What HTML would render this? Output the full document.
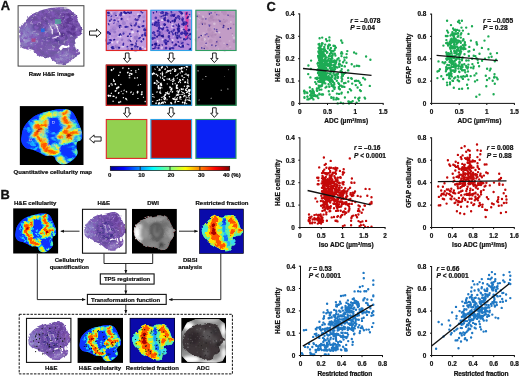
<!DOCTYPE html>
<html><head><meta charset="utf-8"><title>Figure</title>
<style>
html,body{margin:0;padding:0;background:#fff;}
svg{display:block;}
text{font-family:"Liberation Sans",sans-serif;font-weight:bold;fill:#111;stroke:#111;stroke-width:0.22px;}
.t{font-size:6px;}
.c{font-size:6.6px;}
.k{font-size:6.4px;}
.L{font-size:12.9px;stroke-width:0.3px;}
.m{text-anchor:middle;}
.e{text-anchor:end;}
.ln{stroke:#111;stroke-width:0.9;fill:none;}
.ax{stroke:#111;stroke-width:1;fill:none;}
</style></head><body>
<svg width="520" height="377" viewBox="0 0 520 377">
<rect width="520" height="377" fill="#fff"/>
<defs>
<filter id="b1" x="-10%" y="-10%" width="120%" height="120%"><feGaussianBlur stdDeviation="3"/></filter>
<filter id="b2" x="-10%" y="-10%" width="120%" height="120%"><feGaussianBlur stdDeviation="2.6"/></filter>
<filter id="b3" x="-10%" y="-10%" width="120%" height="120%"><feGaussianBlur stdDeviation="0.9"/></filter>
<filter id="bs" x="-5%" y="-5%" width="110%" height="110%"><feGaussianBlur stdDeviation="0.45"/></filter>
<filter id="rough" x="-5%" y="-5%" width="110%" height="110%"><feTurbulence type="fractalNoise" baseFrequency="0.09" numOctaves="2" seed="3" result="n"/><feDisplacementMap in="SourceGraphic" in2="n" scale="7" xChannelSelector="R" yChannelSelector="G"/></filter>
<filter id="rough2" x="-5%" y="-5%" width="110%" height="110%"><feGaussianBlur stdDeviation="1.3" result="b"/><feTurbulence type="fractalNoise" baseFrequency="0.055" numOctaves="3" seed="8" result="n"/><feDisplacementMap in="b" in2="n" scale="16" xChannelSelector="R" yChannelSelector="G"/></filter>
<filter id="rough3" x="-5%" y="-5%" width="110%" height="110%"><feGaussianBlur stdDeviation="1.3" result="b"/><feTurbulence type="fractalNoise" baseFrequency="0.06" numOctaves="3" seed="21" result="n"/><feDisplacementMap in="b" in2="n" scale="10" xChannelSelector="R" yChannelSelector="G"/></filter>
<filter id="tex" x="0" y="0" width="100%" height="100%"><feTurbulence type="fractalNoise" baseFrequency="0.16" numOctaves="3" seed="5" result="n"/><feColorMatrix in="n" type="matrix" values="0 0 0 0 0.22  0 0 0 0 0.10  0 0 0 0 0.48  2.8 0 0 0 -1.0" result="d"/><feComposite in="d" in2="SourceGraphic" operator="atop"/></filter>
<filter id="texl" x="0" y="0" width="100%" height="100%"><feTurbulence type="fractalNoise" baseFrequency="0.2" numOctaves="2" seed="9" result="n"/><feColorMatrix in="n" type="matrix" values="0 0 0 0 0.80  0 0 0 0 0.72  0 0 0 0 0.90  0 1.9 0 0 -1.2" result="d"/><feComposite in="d" in2="SourceGraphic" operator="atop"/></filter>
<marker id="ah" viewBox="0 0 10 10" refX="9" refY="5" markerWidth="4.2" markerHeight="4" orient="auto"><path d="M0,0.8L10,5L0,9.2z" fill="#111"/></marker>
<linearGradient id="jet" x1="0" x2="1" y1="0" y2="0"><stop offset="0" stop-color="#00008f"/><stop offset="0.11" stop-color="#0000ff"/><stop offset="0.36" stop-color="#00ffff"/><stop offset="0.5" stop-color="#80ff80"/><stop offset="0.63" stop-color="#ffff00"/><stop offset="0.88" stop-color="#ff0000"/><stop offset="1" stop-color="#800000"/></linearGradient>
<clipPath id="cHE"><path d="M2.3,39.7C3.5,35.0 6.0,31.6 9.3,27.2C12.6,22.8 17.1,16.9 22.0,13.3C26.9,9.7 32.3,7.4 38.9,5.5C45.5,3.6 55.0,2.0 61.6,1.8C68.2,1.6 74.4,1.8 78.6,4.0C82.8,6.2 84.6,10.9 86.9,14.8C89.2,18.7 91.1,23.0 92.7,27.2C94.3,31.4 96.6,36.1 96.8,39.7C97.0,43.3 95.9,46.2 94.1,49.0C92.3,51.8 87.4,53.5 86.2,56.7C85.0,59.9 85.5,64.7 86.9,68.3C88.3,71.9 94.5,76.0 94.5,78.5C94.5,81.0 88.9,81.8 86.9,83.5C84.9,85.2 84.2,86.8 82.4,88.5C80.6,90.2 78.4,92.3 76.1,93.7C73.8,95.1 71.3,96.6 68.5,97.0C65.7,97.4 61.8,97.0 59.3,96.2C56.8,95.4 55.0,93.6 53.2,92.0C51.4,90.4 51.9,88.3 48.6,86.8C45.3,85.3 37.3,84.9 33.3,83.0C29.3,81.1 28.1,77.1 24.8,75.3C21.5,73.5 16.8,73.5 13.5,72.2C10.2,70.9 6.9,70.3 5.0,67.5C3.1,64.7 2.8,59.8 2.3,55.2C1.8,50.6 1.1,44.4 2.3,39.7Z"/></clipPath>
<clipPath id="cHE2"><path d="M4.5,48.9C4.7,45.4 5.3,41.6 6.8,38.4C8.3,35.1 10.6,32.1 13.4,29.4C16.2,26.6 20.2,23.9 23.7,21.9C27.1,19.9 30.4,18.9 34.1,17.4C37.8,15.9 41.8,14.2 46.0,12.9C50.2,11.7 55.1,10.9 59.3,9.9C63.5,8.9 67.5,6.7 71.2,6.9C74.9,7.2 78.9,9.2 81.6,11.4C84.3,13.7 85.5,16.9 87.5,20.4C89.5,23.9 91.8,28.4 93.5,32.4C95.2,36.4 96.9,40.9 97.9,44.4C98.9,47.9 99.9,51.2 99.4,53.5C98.9,55.8 96.5,56.2 95.0,58.0C93.5,59.8 90.8,61.2 90.5,64.0C90.2,66.8 93.5,71.2 93.5,74.5C93.5,77.8 92.5,81.2 90.5,83.5C88.5,85.8 84.6,86.2 81.6,88.0C78.6,89.8 75.9,93.0 72.7,94.0C69.5,95.0 65.5,94.8 62.3,94.0C59.1,93.2 56.1,91.2 53.4,89.5C50.7,87.8 48.7,85.5 46.0,83.5C43.3,81.5 40.6,79.2 37.1,77.5C33.6,75.8 29.1,74.8 25.2,73.0C21.2,71.2 16.6,69.2 13.4,67.0C10.2,64.8 7.4,62.5 5.9,59.5C4.4,56.5 4.3,52.4 4.5,48.9Z"/></clipPath>
<clipPath id="cCM"><path d="M3.2,50.9C3.7,47.8 4.1,43.0 5.3,39.4C6.5,35.8 8.4,32.5 10.6,29.4C12.8,26.3 15.8,23.3 18.5,20.9C21.1,18.5 23.4,16.8 26.5,15.1C29.6,13.4 33.0,12.2 37.0,10.9C41.0,9.6 45.9,8.4 50.3,7.4C54.7,6.4 59.5,5.4 63.5,5.1C67.5,4.8 71.0,5.0 74.1,5.7C77.2,6.4 79.8,7.3 82.0,9.4C84.2,11.5 85.8,14.9 87.3,18.0C88.8,21.1 89.9,24.4 91.3,28.0C92.7,31.6 94.7,35.6 95.8,39.4C96.9,43.2 98.0,47.8 97.9,50.9C97.8,54.0 96.5,56.3 95.2,58.0C93.9,59.7 91.0,59.0 89.9,60.9C88.8,62.8 88.5,66.3 88.6,69.4C88.7,72.5 90.9,76.3 90.5,79.4C90.1,82.5 88.1,85.4 86.0,88.0C83.9,90.6 80.9,93.3 78.0,95.1C75.1,96.9 71.4,98.6 68.8,98.9C66.2,99.2 64.2,98.2 62.2,97.1C60.2,96.0 58.2,94.2 56.9,92.3C55.6,90.4 55.8,87.1 54.2,85.7C52.7,84.3 50.0,84.0 47.6,83.7C45.2,83.4 42.8,84.7 39.7,83.7C36.6,82.8 32.4,79.7 29.1,78.0C25.8,76.3 22.9,74.8 19.8,73.7C16.7,72.6 13.1,72.8 10.6,71.4C8.1,70.0 6.1,67.3 4.8,65.1C3.5,62.9 2.9,60.4 2.6,58.0C2.3,55.6 2.8,54.0 3.2,50.9Z"/></clipPath>
<clipPath id="cRF"><path d="M6.1,43.3C7.0,40.3 9.2,36.8 11.6,34.4C14.0,32.0 18.2,31.5 20.6,29.1C23.0,26.7 23.0,22.4 26.0,20.2C29.0,17.9 34.4,16.0 38.6,15.6C42.8,15.2 47.4,17.9 51.3,17.7C55.2,17.5 58.2,14.5 62.1,14.2C66.0,13.8 71.1,14.3 74.7,15.6C78.3,16.9 81.4,19.2 83.8,22.0C86.2,24.8 87.7,29.1 89.2,32.6C90.7,36.1 91.3,40.0 92.8,43.3C94.3,46.5 97.8,49.6 98.2,52.1C98.6,54.6 97.4,57.1 95.0,58.5C92.6,59.9 87.3,59.3 84.0,60.5C80.7,61.7 75.5,63.5 75.0,65.5C74.5,67.5 80.2,70.0 81.0,72.5C81.8,75.0 81.4,78.9 80.1,80.5C78.8,82.1 74.4,80.8 72.9,82.3C71.4,83.8 72.6,87.3 71.1,89.4C69.6,91.5 66.9,94.1 63.9,94.7C60.9,95.3 56.4,94.1 53.1,92.9C49.8,91.7 47.3,89.4 44.0,87.6C40.7,85.8 36.5,84.1 33.2,82.3C29.9,80.5 26.9,79.1 24.2,77.0C21.5,74.9 19.4,72.6 17.0,69.9C14.6,67.2 11.5,64.0 9.7,61.0C7.9,58.0 6.7,55.1 6.1,52.1C5.5,49.1 5.2,46.2 6.1,43.3Z"/></clipPath>
<clipPath id="cDW"><path d="M3.9,50.0C4.2,46.3 5.6,41.3 7.4,38.1C9.2,34.9 11.8,33.2 14.8,30.7C17.8,28.2 21.5,25.2 25.2,23.2C28.9,21.2 33.1,20.0 37.1,18.8C41.1,17.6 45.0,16.6 49.0,15.8C53.0,15.1 56.8,14.1 60.8,14.3C64.8,14.6 69.2,15.8 72.7,17.3C76.2,18.8 79.4,20.7 81.6,23.2C83.8,25.7 84.6,29.1 86.1,32.1C87.6,35.1 89.0,37.9 90.5,41.1C92.0,44.3 94.5,48.3 95.0,51.5C95.5,54.7 94.5,57.7 93.5,60.4C92.5,63.1 90.5,65.7 89.0,67.9C87.5,70.1 85.8,71.3 84.6,73.8C83.4,76.3 83.1,80.0 81.6,82.7C80.1,85.4 78.4,88.7 75.7,90.2C73.0,91.7 68.8,92.2 65.3,91.7C61.8,91.2 58.6,88.2 54.9,87.2C51.2,86.2 47.0,86.5 43.0,85.7C39.0,85.0 34.9,84.2 31.2,82.7C27.5,81.2 24.0,79.0 20.8,76.8C17.6,74.6 14.4,72.0 11.9,69.3C9.4,66.6 7.2,63.6 5.9,60.4C4.6,57.2 3.6,53.7 3.9,50.0Z"/></clipPath>
<clipPath id="cAO"><path d="M0.5,32.0 L13.0,10.0 L31.0,2.5 L84.0,2.0 L97.0,12.0 L99.5,30.0 L99.5,82.0 L92.0,96.5 L78.0,99.5 L14.0,98.0 L0.5,84.0Z"/></clipPath>
<clipPath id="cAI"><path d="M3.6,50.0C4.3,46.0 5.8,39.3 8.0,35.1C10.2,30.9 13.2,27.4 16.9,24.7C20.6,22.0 25.6,20.5 30.3,18.8C35.0,17.1 40.2,15.6 45.1,14.3C50.0,13.1 55.5,11.3 59.9,11.3C64.3,11.3 68.1,12.8 71.8,14.3C75.5,15.8 79.7,17.7 82.2,20.2C84.7,22.7 85.1,25.7 86.6,29.2C88.1,32.7 89.6,37.6 91.1,41.1C92.6,44.6 95.8,47.3 95.5,50.0C95.2,52.7 91.6,55.2 89.6,57.4C87.6,59.6 84.2,60.9 83.7,63.4C83.2,65.9 87.1,69.6 86.6,72.3C86.1,75.0 82.9,78.1 80.7,79.8C78.5,81.5 75.3,80.7 73.3,82.7C71.3,84.7 71.3,89.7 68.8,91.7C66.3,93.7 61.7,94.6 58.5,94.6C55.3,94.6 52.8,92.9 49.6,91.7C46.4,90.5 42.9,88.7 39.2,87.2C35.5,85.7 31.0,84.4 27.3,82.7C23.6,81.0 20.1,79.3 16.9,76.8C13.7,74.3 10.2,70.9 8.0,67.9C5.8,64.9 4.3,61.9 3.6,58.9C2.9,55.9 2.9,54.0 3.6,50.0Z"/></clipPath>
<clipPath id="cBox"><rect width="100" height="100"/></clipPath>
<symbol id="he" viewBox="0 0 100 100" preserveAspectRatio="none">
<g filter="url(#rough)"><g clip-path="url(#cHE)"><g filter="url(#texl)"><g filter="url(#tex)"><rect width="100" height="100" fill="#6e56a0"/>
<g filter="url(#b1)"><ellipse cx="16" cy="48" rx="14" ry="20" fill="#8a80c2"/><ellipse cx="9" cy="56" rx="8" ry="10" fill="#9a92ca"/><ellipse cx="30" cy="25" rx="12" ry="8" fill="#6c4c9c"/><ellipse cx="48" cy="16" rx="14" ry="8" fill="#6a489c"/><ellipse cx="74" cy="24" rx="15" ry="15" fill="#5c3890"/><ellipse cx="84" cy="42" rx="10" ry="10" fill="#5a3690"/><ellipse cx="66" cy="46" rx="12" ry="8" fill="#54348c"/><ellipse cx="40" cy="50" rx="9" ry="12" fill="#6a52a4"/><ellipse cx="70" cy="84" rx="12" ry="9" fill="#9488c4"/><ellipse cx="60" cy="90" rx="6" ry="4" fill="#a89cd0"/><ellipse cx="30" cy="70" rx="10" ry="8" fill="#7456a6"/><ellipse cx="50" cy="35" rx="4" ry="10" fill="#a898cc"/><ellipse cx="58" cy="30" rx="3" ry="6" fill="#b8a8d8"/><ellipse cx="88" cy="22" rx="6" ry="8" fill="#643e98"/><ellipse cx="46" cy="72" rx="5" ry="7" fill="#7c62ae"/><ellipse cx="26" cy="36" rx="6" ry="6" fill="#5a3c96"/><ellipse cx="42" cy="34" rx="4" ry="8" fill="#3c2c88"/><ellipse cx="56" cy="56" rx="8" ry="5" fill="#48308c"/></g></g></g>
<g filter="url(#b3)"><path d="M50,33 q3,6 2,14 M57,30 q4,8 5,18 M60,50 q-5,4 -8,3" stroke="#ece4f4" stroke-width="1.8" fill="none"/><path d="M64,72 q3,-8 12,-5" stroke="#fff" stroke-width="4.5" fill="none" stroke-linecap="round"/><ellipse cx="90" cy="66" rx="3" ry="7" fill="#fff"/><ellipse cx="88" cy="88" rx="3" ry="3" fill="#fff"/></g>
</g></g></symbol>
<symbol id="he2" viewBox="0 0 100 100" preserveAspectRatio="none">
<g filter="url(#rough)"><g clip-path="url(#cHE2)"><g filter="url(#texl)"><g filter="url(#tex)"><rect width="100" height="100" fill="#6a4e9e"/>
<g filter="url(#b1)"><ellipse cx="16" cy="48" rx="13" ry="20" fill="#8a82c6"/><ellipse cx="9" cy="55" rx="7" ry="10" fill="#9a94cc"/><ellipse cx="28" cy="30" rx="12" ry="8" fill="#7c6cb6"/><ellipse cx="48" cy="20" rx="14" ry="8" fill="#6a4c9e"/><ellipse cx="75" cy="28" rx="13" ry="14" fill="#66409a"/><ellipse cx="90" cy="45" rx="8" ry="12" fill="#84529c"/><ellipse cx="38" cy="62" rx="10" ry="10" fill="#6c56a8"/><ellipse cx="72" cy="84" rx="10" ry="7" fill="#9c8ac8"/><ellipse cx="63" cy="88" rx="6" ry="4" fill="#b0a0d4"/><ellipse cx="28" cy="68" rx="10" ry="6" fill="#7c66b0"/><ellipse cx="84" cy="76" rx="6" ry="8" fill="#7a54a0"/><ellipse cx="56" cy="48" rx="13" ry="19" fill="#5a48a0" stroke="#3a2a82" stroke-width="7"/><path d="M40,30 q-8,14 -2,34" stroke="#44328a" stroke-width="5" fill="none"/><path d="M56,70 q10,6 22,2" stroke="#44308a" stroke-width="4" fill="none"/></g></g></g>
<g filter="url(#b3)"><path d="M52,38 q3,8 2,16 M60,36 q3,8 3,16" stroke="#d8cce8" stroke-width="1.6" fill="none"/><path d="M64,70 q8,-4 16,0 q2,4 -1,8" stroke="#fff" stroke-width="3" fill="none" stroke-linecap="round"/><ellipse cx="88" cy="68" rx="3" ry="5" fill="#f4f0f8"/></g>
</g></g></symbol>
<symbol id="cm" viewBox="0 0 100 100" preserveAspectRatio="none">
<rect width="100" height="100" fill="#000"/>
<g clip-path="url(#cCM)"><rect width="100" height="100" fill="#0a38ff"/>
<g filter="url(#rough2)"><rect x="-10" y="-10" width="120" height="120" fill="#0a34ff"/><g fill="#14c4ff"><circle cx="31.7" cy="42.3" r="11.8"/><circle cx="29.1" cy="35.1" r="10.9"/><circle cx="37" cy="30.9" r="8.4"/><circle cx="27.8" cy="49.4" r="10.9"/><circle cx="31.7" cy="58" r="9.9"/><circle cx="37" cy="66.6" r="10.9"/><circle cx="43.7" cy="73.7" r="10.9"/><circle cx="50.3" cy="79.4" r="9.9"/><circle cx="56.9" cy="76.6" r="7.5"/><circle cx="59.5" cy="68" r="6.1"/><circle cx="63.5" cy="90.9" r="7.3"/><circle cx="67.5" cy="96.6" r="6.1"/><circle cx="26.5" cy="25.1" r="6.7"/><circle cx="37" cy="20.9" r="7.4"/><circle cx="45" cy="17" r="7.4"/><circle cx="55.6" cy="13.7" r="6.7"/><circle cx="68.8" cy="12.3" r="8.4"/><circle cx="70.1" cy="20.9" r="9.2"/><circle cx="74.1" cy="26.6" r="9.2"/><circle cx="76.7" cy="35.1" r="8.4"/><circle cx="75.4" cy="43.7" r="9.2"/><circle cx="78" cy="52.3" r="10.0"/><circle cx="84.7" cy="48" r="6.8"/><circle cx="91.3" cy="48" r="6.8"/><circle cx="66.1" cy="43.7" r="6.2"/><circle cx="63.5" cy="49.4" r="6.8"/><circle cx="67.5" cy="58" r="6.2"/><circle cx="84.7" cy="33.7" r="5.9"/><circle cx="88.6" cy="42.3" r="6.1"/><circle cx="87.3" cy="63.7" r="5.1"/><circle cx="87.3" cy="76.6" r="4.6"/><circle cx="79.4" cy="89.4" r="5.1"/><circle cx="93" cy="56" r="3.7"/><circle cx="13.2" cy="39.4" r="2.8"/><circle cx="17.2" cy="62.3" r="2.8"/><circle cx="21.2" cy="70.9" r="3.3"/><circle cx="19.8" cy="30.9" r="4.6"/><circle cx="52.9" cy="42.3" r="2.7"/><circle cx="51.6" cy="50.9" r="3.0"/><circle cx="55.6" cy="58" r="2.7"/><circle cx="60" cy="82" r="3.1"/><circle cx="80" cy="70" r="2.1"/></g><g fill="#6cf898"><circle cx="31.7" cy="42.3" r="9.9"/><circle cx="29.1" cy="35.1" r="8.9"/><circle cx="37" cy="30.9" r="6.7"/><circle cx="27.8" cy="49.4" r="8.9"/><circle cx="31.7" cy="58" r="7.9"/><circle cx="37" cy="66.6" r="8.9"/><circle cx="43.7" cy="73.7" r="8.9"/><circle cx="50.3" cy="79.4" r="7.9"/><circle cx="56.9" cy="76.6" r="5.9"/><circle cx="59.5" cy="68" r="4.6"/><circle cx="63.5" cy="90.9" r="5.5"/><circle cx="67.5" cy="96.6" r="4.6"/><circle cx="26.5" cy="25.1" r="5.1"/><circle cx="37" cy="20.9" r="5.7"/><circle cx="45" cy="17" r="5.7"/><circle cx="55.6" cy="13.7" r="5.1"/><circle cx="68.8" cy="12.3" r="6.7"/><circle cx="70.1" cy="20.9" r="7.5"/><circle cx="74.1" cy="26.6" r="7.5"/><circle cx="76.7" cy="35.1" r="6.7"/><circle cx="75.4" cy="43.7" r="7.5"/><circle cx="78" cy="52.3" r="8.4"/><circle cx="84.7" cy="48" r="5.5"/><circle cx="91.3" cy="48" r="5.5"/><circle cx="66.1" cy="43.7" r="4.8"/><circle cx="63.5" cy="49.4" r="5.5"/><circle cx="67.5" cy="58" r="4.8"/><circle cx="84.7" cy="33.7" r="4.2"/><circle cx="88.6" cy="42.3" r="4.6"/><circle cx="87.3" cy="63.7" r="3.4"/><circle cx="87.3" cy="76.6" r="3.1"/><circle cx="79.4" cy="89.4" r="3.4"/><circle cx="93" cy="56" r="2.5"/></g><g fill="#ffe600"><circle cx="31.7" cy="42.3" r="7.9"/><circle cx="29.1" cy="35.1" r="7.0"/><circle cx="37" cy="30.9" r="5.1"/><circle cx="27.8" cy="49.4" r="7.0"/><circle cx="31.7" cy="58" r="6.0"/><circle cx="37" cy="66.6" r="7.0"/><circle cx="43.7" cy="73.7" r="7.0"/><circle cx="50.3" cy="79.4" r="6.0"/><circle cx="56.9" cy="76.6" r="4.2"/><circle cx="59.5" cy="68" r="3.1"/><circle cx="63.5" cy="90.9" r="3.7"/><circle cx="67.5" cy="96.6" r="3.1"/><circle cx="26.5" cy="25.1" r="3.4"/><circle cx="37" cy="20.9" r="4.1"/><circle cx="45" cy="17" r="4.1"/><circle cx="55.6" cy="13.7" r="3.4"/><circle cx="68.8" cy="12.3" r="5.1"/><circle cx="70.1" cy="20.9" r="5.9"/><circle cx="74.1" cy="26.6" r="5.9"/><circle cx="76.7" cy="35.1" r="5.1"/><circle cx="75.4" cy="43.7" r="5.9"/><circle cx="78" cy="52.3" r="6.7"/><circle cx="84.7" cy="48" r="4.1"/><circle cx="91.3" cy="48" r="4.1"/><circle cx="66.1" cy="43.7" r="3.5"/><circle cx="63.5" cy="49.4" r="4.1"/><circle cx="67.5" cy="58" r="3.5"/><circle cx="88.6" cy="42.3" r="3.1"/></g><g fill="#ff5200"><circle cx="31.7" cy="42.3" r="6.0"/><circle cx="29.1" cy="35.1" r="5.0"/><circle cx="37" cy="30.9" r="3.4"/><circle cx="27.8" cy="49.4" r="5.0"/><circle cx="31.7" cy="58" r="4.0"/><circle cx="37" cy="66.6" r="5.0"/><circle cx="43.7" cy="73.7" r="5.0"/><circle cx="50.3" cy="79.4" r="4.0"/><circle cx="68.8" cy="12.3" r="3.4"/><circle cx="70.1" cy="20.9" r="4.2"/><circle cx="74.1" cy="26.6" r="4.2"/><circle cx="76.7" cy="35.1" r="3.4"/><circle cx="75.4" cy="43.7" r="4.2"/><circle cx="78" cy="52.3" r="5.1"/><circle cx="84.7" cy="48" r="2.8"/><circle cx="91.3" cy="48" r="2.8"/><circle cx="63.5" cy="49.4" r="2.8"/></g><g fill="#a80000"><circle cx="31.7" cy="42.3" r="4.0"/><circle cx="78" cy="52.3" r="3.4"/></g><ellipse cx="51.5" cy="31" rx="8.5" ry="10" fill="#0830ff"/><ellipse cx="47.5" cy="48" rx="6" ry="8" fill="#0a38ff"/><ellipse cx="48.5" cy="62" rx="5" ry="6" fill="#0a38ff"/><ellipse cx="69" cy="74" rx="9" ry="7" fill="#0830ff"/><ellipse cx="77" cy="80" rx="6" ry="5" fill="#0830ff"/><ellipse cx="52.5" cy="44" rx="2.5" ry="3" fill="#30c0ff"/><ellipse cx="51" cy="54" rx="2.5" ry="3" fill="#40d0ff"/></g></g></symbol>
<symbol id="rf" viewBox="0 0 100 100" preserveAspectRatio="none">
<rect width="100" height="100" fill="#0a0aaa"/>
<g filter="url(#rough)"><g clip-path="url(#cRF)"><rect width="100" height="100" fill="#58f0a8"/>
<g filter="url(#rough3)"><rect x="-10" y="-10" width="120" height="120" fill="#5cf0a4"/><ellipse cx="11" cy="47" rx="7" ry="10" fill="#40e8e0"/><ellipse cx="77" cy="74" rx="7" ry="6" fill="#38dcf0"/><ellipse cx="86" cy="62" rx="5" ry="4" fill="#48e8d0"/><ellipse cx="20" cy="45" rx="5" ry="5" fill="#48ecd0"/><g fill="#ffe600"><circle cx="33.2" cy="25.5" r="10.5"/><circle cx="31.4" cy="38" r="11.7"/><circle cx="32.5" cy="50.4" r="11.7"/><circle cx="35" cy="62.8" r="11.1"/><circle cx="42.2" cy="75.2" r="10.5"/><circle cx="51.3" cy="84" r="8.2"/><circle cx="60.3" cy="89.4" r="5.3"/><circle cx="22.4" cy="32.6" r="6.2"/><circle cx="18.8" cy="57.4" r="6.2"/><circle cx="26" cy="71.6" r="6.2"/><circle cx="44" cy="22" r="6.8"/><circle cx="45.8" cy="40" r="5.3"/><circle cx="74.7" cy="27.3" r="8.5"/><circle cx="82" cy="38" r="8.5"/><circle cx="89.2" cy="48.6" r="6.2"/><circle cx="74.7" cy="52" r="7.2"/><circle cx="71" cy="39.7" r="6.0"/><circle cx="65.7" cy="20.2" r="5.5"/><circle cx="46" cy="62" r="5.1"/><circle cx="47" cy="52" r="4.1"/><circle cx="70" cy="62" r="3.7"/><circle cx="84" cy="28" r="3.7"/></g><g fill="#ff5200"><circle cx="33.2" cy="25.5" r="7.4"/><circle cx="31.4" cy="38" r="8.6"/><circle cx="32.5" cy="50.4" r="8.6"/><circle cx="35" cy="62.8" r="8.0"/><circle cx="42.2" cy="75.2" r="7.4"/><circle cx="51.3" cy="84" r="5.5"/><circle cx="74.7" cy="27.3" r="5.8"/><circle cx="82" cy="38" r="5.8"/><circle cx="89.2" cy="48.6" r="4.1"/><circle cx="74.7" cy="52" r="4.8"/></g><g fill="#a80000"><circle cx="31.4" cy="38" r="5.6"/><circle cx="32.5" cy="50.4" r="5.6"/></g><ellipse cx="56.7" cy="29" rx="4.5" ry="9" fill="#1058ff"/><ellipse cx="55.6" cy="45" rx="3.5" ry="8" fill="#18a0ff"/><ellipse cx="60.3" cy="66.3" rx="4.5" ry="9" fill="#1070ff"/><ellipse cx="65.7" cy="78.7" rx="4" ry="5" fill="#20b0ff"/><ellipse cx="57" cy="27" rx="2.5" ry="5" fill="#0830e0"/><ellipse cx="58" cy="56" rx="3" ry="4" fill="#20c0ff"/></g></g></g></symbol>
<symbol id="dwi" viewBox="0 0 100 100" preserveAspectRatio="none">
<rect width="100" height="100" fill="#000"/>
<g filter="url(#rough)"><g clip-path="url(#cDW)"><rect width="100" height="100" fill="#808080"/>
<g filter="url(#b1)"><ellipse cx="11" cy="53" rx="8" ry="17" fill="#ffffff"/><ellipse cx="16" cy="40" rx="7" ry="7" fill="#dcdcdc"/><ellipse cx="16" cy="68" rx="7" ry="7" fill="#e4e4e4"/><ellipse cx="50" cy="24" rx="24" ry="7" fill="#9c9c9c"/><ellipse cx="55" cy="50" rx="16" ry="22" fill="#525252"/><ellipse cx="55" cy="50" rx="8" ry="14" fill="#7c7c7c"/><ellipse cx="56" cy="46" rx="2.5" ry="9" fill="#343434"/><ellipse cx="84" cy="52" rx="7" ry="10" fill="#a4a4a4"/><ellipse cx="88" cy="62" rx="4" ry="5" fill="#b4b4b4"/><ellipse cx="30" cy="55" rx="8" ry="12" fill="#949494"/><ellipse cx="66" cy="80" rx="5" ry="5" fill="#262626"/><ellipse cx="45" cy="80" rx="10" ry="5" fill="#8c8c8c"/><ellipse cx="76" cy="74" rx="6" ry="6" fill="#8a8a8a"/><ellipse cx="72" cy="36" rx="8" ry="8" fill="#6e6e6e"/></g></g><path d="M3.9,50.0C4.2,46.3 5.6,41.3 7.4,38.1C9.2,34.9 11.8,33.2 14.8,30.7C17.8,28.2 21.5,25.2 25.2,23.2C28.9,21.2 33.1,20.0 37.1,18.8C41.1,17.6 45.0,16.6 49.0,15.8C53.0,15.1 56.8,14.1 60.8,14.3C64.8,14.6 69.2,15.8 72.7,17.3C76.2,18.8 79.4,20.7 81.6,23.2C83.8,25.7 84.6,29.1 86.1,32.1C87.6,35.1 89.0,37.9 90.5,41.1C92.0,44.3 94.5,48.3 95.0,51.5C95.5,54.7 94.5,57.7 93.5,60.4C92.5,63.1 90.5,65.7 89.0,67.9C87.5,70.1 85.8,71.3 84.6,73.8C83.4,76.3 83.1,80.0 81.6,82.7C80.1,85.4 78.4,88.7 75.7,90.2C73.0,91.7 68.8,92.2 65.3,91.7C61.8,91.2 58.6,88.2 54.9,87.2C51.2,86.2 47.0,86.5 43.0,85.7C39.0,85.0 34.9,84.2 31.2,82.7C27.5,81.2 24.0,79.0 20.8,76.8C17.6,74.6 14.4,72.0 11.9,69.3C9.4,66.6 7.2,63.6 5.9,60.4C4.6,57.2 3.6,53.7 3.9,50.0Z" fill="none" stroke="#c02020" stroke-width="1.2" stroke-dasharray="1.5 6" opacity="0.85"/></g></symbol>
<symbol id="adc" viewBox="0 0 100 100" preserveAspectRatio="none">
<rect width="100" height="100" fill="#000"/>
<g clip-path="url(#cAO)"><path d="M0.5,32.0 L13.0,10.0 L31.0,2.5 L84.0,2.0 L97.0,12.0 L99.5,30.0 L99.5,82.0 L92.0,96.5 L78.0,99.5 L14.0,98.0 L0.5,84.0Z" fill="#8c8c8c"/><g filter="url(#b1)"><ellipse cx="16" cy="18" rx="12" ry="9" fill="#ffffff"/><ellipse cx="94" cy="26" rx="6" ry="14" fill="#ffffff"/><ellipse cx="95" cy="80" rx="6" ry="14" fill="#f4f4f4"/><ellipse cx="22" cy="92" rx="20" ry="8" fill="#ffffff"/><ellipse cx="62" cy="98" rx="22" ry="5" fill="#e4e4e4"/><ellipse cx="60" cy="5" rx="24" ry="4" fill="#c8c8c8"/><ellipse cx="96" cy="52" rx="4" ry="12" fill="#d8d8d8"/><ellipse cx="2" cy="55" rx="3" ry="20" fill="#505050"/><ellipse cx="88" cy="92" rx="8" ry="5" fill="#d0d0d0"/></g><g filter="url(#rough)"><path d="M3.6,50.0C4.3,46.0 5.8,39.3 8.0,35.1C10.2,30.9 13.2,27.4 16.9,24.7C20.6,22.0 25.6,20.5 30.3,18.8C35.0,17.1 40.2,15.6 45.1,14.3C50.0,13.1 55.5,11.3 59.9,11.3C64.3,11.3 68.1,12.8 71.8,14.3C75.5,15.8 79.7,17.7 82.2,20.2C84.7,22.7 85.1,25.7 86.6,29.2C88.1,32.7 89.6,37.6 91.1,41.1C92.6,44.6 95.8,47.3 95.5,50.0C95.2,52.7 91.6,55.2 89.6,57.4C87.6,59.6 84.2,60.9 83.7,63.4C83.2,65.9 87.1,69.6 86.6,72.3C86.1,75.0 82.9,78.1 80.7,79.8C78.5,81.5 75.3,80.7 73.3,82.7C71.3,84.7 71.3,89.7 68.8,91.7C66.3,93.7 61.7,94.6 58.5,94.6C55.3,94.6 52.8,92.9 49.6,91.7C46.4,90.5 42.9,88.7 39.2,87.2C35.5,85.7 31.0,84.4 27.3,82.7C23.6,81.0 20.1,79.3 16.9,76.8C13.7,74.3 10.2,70.9 8.0,67.9C5.8,64.9 4.3,61.9 3.6,58.9C2.9,55.9 2.9,54.0 3.6,50.0Z" fill="#3c3638"/></g><g clip-path="url(#cAI)"><g filter="url(#b1)"><ellipse cx="28" cy="45" rx="12" ry="14" fill="#2e282c"/><ellipse cx="58" cy="38" rx="12" ry="12" fill="#565254"/><ellipse cx="50" cy="62" rx="14" ry="12" fill="#3a3436"/><ellipse cx="74" cy="50" rx="7" ry="8" fill="#504c4e"/><ellipse cx="82" cy="58" rx="6" ry="4" fill="#161616"/><ellipse cx="56" cy="78" rx="6" ry="8" fill="#5a5658"/><ellipse cx="42" cy="26" rx="10" ry="5" fill="#4c4648"/><ellipse cx="75" cy="30" rx="8" ry="8" fill="#343034"/></g><circle cx="35.2" cy="25.8" r="1.5" fill="#6a6668" opacity="0.75"/><circle cx="77.0" cy="21.3" r="1.4" fill="#1e1a1c" opacity="0.75"/><circle cx="26.0" cy="20.7" r="1.2" fill="#2a2628" opacity="0.75"/><circle cx="15.6" cy="47.1" r="1.6" fill="#6a6668" opacity="0.75"/><circle cx="87.6" cy="63.2" r="1.4" fill="#6a6668" opacity="0.75"/><circle cx="56.5" cy="44.9" r="1.8" fill="#6a6668" opacity="0.75"/><circle cx="54.8" cy="24.4" r="1.2" fill="#1e1a1c" opacity="0.75"/><circle cx="17.9" cy="38.1" r="1.6" fill="#2a2628" opacity="0.75"/><circle cx="16.7" cy="58.6" r="1.0" fill="#6a6668" opacity="0.75"/><circle cx="54.0" cy="18.9" r="0.9" fill="#2a2628" opacity="0.75"/><circle cx="49.7" cy="55.5" r="1.6" fill="#504c4e" opacity="0.75"/><circle cx="57.2" cy="49.3" r="1.1" fill="#2a2628" opacity="0.75"/><circle cx="66.7" cy="33.0" r="1.4" fill="#1e1a1c" opacity="0.75"/><circle cx="49.6" cy="40.8" r="1.2" fill="#1e1a1c" opacity="0.75"/><circle cx="90.3" cy="23.2" r="1.2" fill="#7c787a" opacity="0.75"/><circle cx="20.8" cy="52.1" r="0.8" fill="#8a8688" opacity="0.75"/><circle cx="14.5" cy="57.5" r="1.6" fill="#7c787a" opacity="0.75"/><circle cx="36.6" cy="41.3" r="1.3" fill="#504c4e" opacity="0.75"/><circle cx="13.8" cy="21.3" r="1.1" fill="#8a8688" opacity="0.75"/><circle cx="63.8" cy="18.7" r="1.5" fill="#8a8688" opacity="0.75"/><circle cx="56.5" cy="67.1" r="1.2" fill="#8a8688" opacity="0.75"/><circle cx="40.4" cy="66.2" r="0.8" fill="#504c4e" opacity="0.75"/><circle cx="37.9" cy="61.7" r="1.3" fill="#2a2628" opacity="0.75"/><circle cx="72.5" cy="24.1" r="1.0" fill="#504c4e" opacity="0.75"/><circle cx="85.0" cy="52.7" r="1.0" fill="#504c4e" opacity="0.75"/><circle cx="54.2" cy="82.9" r="1.6" fill="#1e1a1c" opacity="0.75"/><circle cx="31.4" cy="46.4" r="1.2" fill="#504c4e" opacity="0.75"/><circle cx="88.4" cy="25.8" r="1.0" fill="#2a2628" opacity="0.75"/><circle cx="63.3" cy="14.9" r="1.6" fill="#2a2628" opacity="0.75"/><circle cx="30.1" cy="14.3" r="1.2" fill="#7c787a" opacity="0.75"/><circle cx="59.2" cy="38.9" r="0.9" fill="#1e1a1c" opacity="0.75"/><circle cx="87.8" cy="65.1" r="1.5" fill="#504c4e" opacity="0.75"/><circle cx="83.6" cy="74.8" r="1.7" fill="#1e1a1c" opacity="0.75"/><circle cx="41.0" cy="45.1" r="0.9" fill="#8a8688" opacity="0.75"/><circle cx="41.6" cy="28.9" r="1.8" fill="#504c4e" opacity="0.75"/><circle cx="21.6" cy="40.5" r="0.9" fill="#6a6668" opacity="0.75"/><circle cx="55.6" cy="55.9" r="1.7" fill="#1e1a1c" opacity="0.75"/><circle cx="10.1" cy="82.2" r="1.4" fill="#2a2628" opacity="0.75"/><circle cx="61.3" cy="88.5" r="1.4" fill="#504c4e" opacity="0.75"/><circle cx="18.3" cy="80.2" r="1.8" fill="#504c4e" opacity="0.75"/><circle cx="48.4" cy="38.3" r="0.9" fill="#8a8688" opacity="0.75"/><circle cx="36.8" cy="34.7" r="1.6" fill="#2a2628" opacity="0.75"/><circle cx="51.4" cy="30.0" r="1.8" fill="#7c787a" opacity="0.75"/><circle cx="20.3" cy="56.4" r="0.8" fill="#1e1a1c" opacity="0.75"/><circle cx="33.0" cy="64.1" r="0.9" fill="#7c787a" opacity="0.75"/><circle cx="51.5" cy="84.8" r="1.2" fill="#2a2628" opacity="0.75"/><circle cx="52.7" cy="74.8" r="1.1" fill="#2a2628" opacity="0.75"/><circle cx="59.5" cy="75.5" r="1.6" fill="#2a2628" opacity="0.75"/><circle cx="75.7" cy="77.8" r="1.5" fill="#2a2628" opacity="0.75"/><circle cx="24.8" cy="52.4" r="1.5" fill="#6a6668" opacity="0.75"/><circle cx="74.4" cy="50.8" r="1.0" fill="#1e1a1c" opacity="0.75"/><circle cx="88.3" cy="48.9" r="1.7" fill="#7c787a" opacity="0.75"/><circle cx="88.2" cy="42.4" r="1.0" fill="#2a2628" opacity="0.75"/><circle cx="47.5" cy="40.3" r="1.3" fill="#1e1a1c" opacity="0.75"/><circle cx="78.6" cy="51.4" r="1.5" fill="#8a8688" opacity="0.75"/><circle cx="15.1" cy="65.5" r="1.7" fill="#8a8688" opacity="0.75"/><circle cx="71.0" cy="51.3" r="1.0" fill="#8a8688" opacity="0.75"/><circle cx="35.9" cy="76.5" r="1.8" fill="#504c4e" opacity="0.75"/><circle cx="46.9" cy="72.0" r="0.9" fill="#2a2628" opacity="0.75"/><circle cx="22.3" cy="23.9" r="1.0" fill="#504c4e" opacity="0.75"/><circle cx="75.7" cy="25.4" r="1.6" fill="#504c4e" opacity="0.75"/><circle cx="63.2" cy="41.3" r="1.3" fill="#2a2628" opacity="0.75"/><circle cx="9.8" cy="76.3" r="1.5" fill="#6a6668" opacity="0.75"/><circle cx="52.2" cy="86.8" r="1.2" fill="#2a2628" opacity="0.75"/><circle cx="77.4" cy="30.5" r="1.1" fill="#7c787a" opacity="0.75"/><circle cx="50.1" cy="73.6" r="1.1" fill="#1e1a1c" opacity="0.75"/><circle cx="43.2" cy="24.2" r="1.7" fill="#7c787a" opacity="0.75"/><circle cx="83.4" cy="65.7" r="1.6" fill="#1e1a1c" opacity="0.75"/><circle cx="43.3" cy="85.6" r="1.3" fill="#1e1a1c" opacity="0.75"/><circle cx="20.8" cy="53.8" r="1.7" fill="#2a2628" opacity="0.75"/><circle cx="59.1" cy="74.5" r="0.9" fill="#2a2628" opacity="0.75"/><circle cx="47.8" cy="70.6" r="1.4" fill="#7c787a" opacity="0.75"/><circle cx="65.3" cy="55.4" r="1.3" fill="#6a6668" opacity="0.75"/><circle cx="82.2" cy="18.4" r="1.0" fill="#6a6668" opacity="0.75"/><circle cx="72.9" cy="53.6" r="1.4" fill="#6a6668" opacity="0.75"/><circle cx="45.2" cy="61.8" r="1.3" fill="#1e1a1c" opacity="0.75"/><circle cx="24.7" cy="35.6" r="1.3" fill="#504c4e" opacity="0.75"/><circle cx="50.7" cy="33.3" r="1.3" fill="#7c787a" opacity="0.75"/><circle cx="85.5" cy="83.6" r="1.0" fill="#504c4e" opacity="0.75"/><circle cx="19.5" cy="23.5" r="1.2" fill="#6a6668" opacity="0.75"/><circle cx="64.4" cy="47.4" r="1.0" fill="#7c787a" opacity="0.75"/><circle cx="73.9" cy="84.0" r="1.0" fill="#8a8688" opacity="0.75"/><circle cx="62.1" cy="42.6" r="1.1" fill="#2a2628" opacity="0.75"/><circle cx="89.3" cy="31.1" r="1.8" fill="#504c4e" opacity="0.75"/><circle cx="82.3" cy="26.7" r="1.5" fill="#2a2628" opacity="0.75"/><circle cx="21.6" cy="47.7" r="1.3" fill="#7c787a" opacity="0.75"/><circle cx="43.4" cy="41.8" r="0.9" fill="#7c787a" opacity="0.75"/><circle cx="9.6" cy="57.2" r="1.2" fill="#6a6668" opacity="0.75"/><circle cx="40.3" cy="54.4" r="1.1" fill="#6a6668" opacity="0.75"/><circle cx="17.5" cy="85.6" r="1.0" fill="#6a6668" opacity="0.75"/></g></g></symbol>
</defs>
<text class="L" x="0.8" y="10.4">A</text>
<rect x="18.1" y="5.7" width="65.8" height="60.4" fill="#fff" stroke="#444" stroke-width="1"/>
<use href="#he" x="18.1" y="6.1" width="65.8" height="60"/>
<g filter="url(#bs)"><rect x="41" y="28.5" width="3.6" height="3.6" fill="#2a6ae0"/><rect x="55" y="19" width="6" height="5" fill="#48b098" opacity="0.7"/><rect x="31.5" y="38.5" width="4" height="3.4" fill="#b04080" opacity="0.85"/></g>
<text class="t m" x="51.5" y="76">Raw H&amp;E image</text>
<path d="M89.50,31.00L96.50,31.00L96.50,29.00L101.10,33.10L96.50,37.20L96.50,35.20L89.50,35.20Z" fill="#fff" stroke="#222" stroke-width="1" stroke-linejoin="miter"/>
<path d="M101.10,136.90L94.10,136.90L94.10,134.90L89.50,139.00L94.10,143.10L94.10,141.10L101.10,141.10Z" fill="#fff" stroke="#222" stroke-width="1" stroke-linejoin="miter"/>
<g><rect x="105.8" y="9.8" width="41.5" height="41.2" fill="#bf9add"/>
<g filter="url(#bs)"><circle cx="110.5" cy="21.7" r="1.3" fill="#d8bce8"/><circle cx="117.7" cy="16.2" r="0.9" fill="#a880d0"/><circle cx="122.9" cy="31.8" r="1.0" fill="#b590d8"/><circle cx="134.3" cy="14.7" r="0.6" fill="#d8bce8"/><circle cx="123.7" cy="14.1" r="1.4" fill="#e4d0f0"/><circle cx="138.2" cy="14.5" r="1.3" fill="#e4d0f0"/><circle cx="117.5" cy="15.9" r="0.6" fill="#eadcf4"/><circle cx="123.4" cy="46.3" r="1.1" fill="#e4d0f0"/><circle cx="127.6" cy="20.4" r="0.7" fill="#d8bce8"/><circle cx="117.4" cy="18.2" r="1.3" fill="#a880d0"/><circle cx="127.7" cy="19.2" r="1.0" fill="#d8bce8"/><circle cx="117.7" cy="42.0" r="1.4" fill="#e4d0f0"/><circle cx="107.9" cy="39.3" r="1.0" fill="#d8bce8"/><circle cx="127.1" cy="20.7" r="1.0" fill="#b590d8"/><circle cx="132.6" cy="32.2" r="1.3" fill="#eadcf4"/><circle cx="119.1" cy="19.5" r="0.8" fill="#d8bce8"/><circle cx="139.3" cy="38.3" r="1.1" fill="#b590d8"/><circle cx="145.4" cy="48.8" r="1.3" fill="#e4d0f0"/><circle cx="110.0" cy="39.6" r="0.8" fill="#d8bce8"/><circle cx="109.4" cy="36.7" r="0.9" fill="#eadcf4"/><circle cx="133.1" cy="22.1" r="0.8" fill="#a880d0"/><circle cx="109.0" cy="18.4" r="0.8" fill="#e4d0f0"/><circle cx="117.4" cy="48.0" r="1.4" fill="#eadcf4"/><circle cx="119.8" cy="12.6" r="1.3" fill="#d8bce8"/><circle cx="121.0" cy="11.3" r="0.9" fill="#b590d8"/><circle cx="118.0" cy="36.4" r="0.8" fill="#e4d0f0"/><circle cx="110.8" cy="42.5" r="0.7" fill="#eadcf4"/><circle cx="108.9" cy="12.2" r="0.8" fill="#d8bce8"/><circle cx="110.6" cy="47.9" r="1.3" fill="#d8bce8"/><circle cx="132.6" cy="38.7" r="1.3" fill="#b590d8"/><circle cx="136.7" cy="38.8" r="1.0" fill="#a880d0"/><circle cx="135.2" cy="35.9" r="0.6" fill="#eadcf4"/><circle cx="131.5" cy="39.3" r="1.2" fill="#d8bce8"/><circle cx="142.3" cy="40.1" r="1.1" fill="#e4d0f0"/><circle cx="139.1" cy="33.6" r="1.3" fill="#d8bce8"/><circle cx="110.6" cy="12.9" r="1.1" fill="#e4d0f0"/><circle cx="121.8" cy="28.5" r="0.6" fill="#e4d0f0"/><circle cx="131.4" cy="37.3" r="1.0" fill="#e4d0f0"/><circle cx="124.9" cy="14.0" r="1.3" fill="#eadcf4"/><circle cx="110.8" cy="31.4" r="1.2" fill="#b590d8"/><circle cx="117.0" cy="14.1" r="0.8" fill="#d8bce8"/><circle cx="116.2" cy="36.1" r="1.0" fill="#b590d8"/><circle cx="110.3" cy="46.1" r="0.8" fill="#e4d0f0"/><circle cx="131.1" cy="35.9" r="0.7" fill="#d8bce8"/><circle cx="120.1" cy="36.2" r="1.2" fill="#eadcf4"/><circle cx="129.2" cy="11.8" r="0.6" fill="#a880d0"/><circle cx="144.7" cy="15.1" r="0.8" fill="#b590d8"/><circle cx="118.5" cy="31.0" r="1.0" fill="#b590d8"/><circle cx="136.8" cy="49.2" r="1.0" fill="#a880d0"/><circle cx="145.0" cy="47.1" r="0.6" fill="#b590d8"/><circle cx="110.2" cy="30.7" r="1.4" fill="#a880d0"/><circle cx="122.2" cy="46.3" r="1.3" fill="#e4d0f0"/><circle cx="129.7" cy="16.7" r="1.0" fill="#a880d0"/><circle cx="112.4" cy="42.6" r="1.0" fill="#e4d0f0"/><circle cx="134.4" cy="20.1" r="1.3" fill="#b590d8"/><circle cx="122.5" cy="17.4" r="1.4" fill="#b590d8"/><circle cx="122.9" cy="39.1" r="0.9" fill="#b590d8"/><circle cx="119.5" cy="43.4" r="0.6" fill="#a880d0"/><circle cx="139.6" cy="15.9" r="1.3" fill="#e4d0f0"/><circle cx="142.0" cy="22.4" r="0.9" fill="#b590d8"/><circle cx="122.3" cy="44.5" r="0.7" fill="#b590d8"/><circle cx="136.4" cy="43.9" r="0.8" fill="#e4d0f0"/><circle cx="139.4" cy="22.2" r="1.3" fill="#d8bce8"/><circle cx="144.7" cy="28.0" r="0.9" fill="#a880d0"/><circle cx="137.5" cy="27.6" r="0.6" fill="#b590d8"/><circle cx="142.5" cy="47.2" r="1.0" fill="#e4d0f0"/><circle cx="109.2" cy="39.3" r="1.0" fill="#d8bce8"/><circle cx="132.1" cy="22.2" r="0.6" fill="#eadcf4"/><circle cx="112.2" cy="29.3" r="0.9" fill="#a880d0"/><circle cx="117.1" cy="39.5" r="1.1" fill="#b590d8"/><circle cx="132.6" cy="22.8" r="1.8" fill="#b08cd6" opacity="0.75"/><circle cx="111.9" cy="35.9" r="1.1" fill="#b08cd6" opacity="0.75"/><circle cx="128.5" cy="28.6" r="1.5" fill="#b08cd6" opacity="0.75"/><circle cx="123.8" cy="32.2" r="1.3" fill="#a684d2" opacity="0.75"/><circle cx="120.5" cy="14.8" r="1.3" fill="#8e6ec6" opacity="0.75"/><circle cx="138.5" cy="19.0" r="1.0" fill="#b08cd6" opacity="0.75"/><circle cx="122.0" cy="39.8" r="1.3" fill="#8e6ec6" opacity="0.75"/><circle cx="120.3" cy="13.7" r="1.4" fill="#8e6ec6" opacity="0.75"/><circle cx="112.1" cy="30.5" r="1.9" fill="#a684d2" opacity="0.75"/><circle cx="110.9" cy="45.6" r="1.5" fill="#b08cd6" opacity="0.75"/><circle cx="123.9" cy="23.2" r="2.1" fill="#9a7acc" opacity="0.75"/><circle cx="112.2" cy="27.5" r="2.1" fill="#b08cd6" opacity="0.75"/><circle cx="144.6" cy="30.0" r="1.1" fill="#b08cd6" opacity="0.75"/><circle cx="144.7" cy="20.8" r="1.2" fill="#a684d2" opacity="0.75"/><circle cx="113.2" cy="48.4" r="1.2" fill="#b08cd6" opacity="0.75"/><circle cx="110.6" cy="41.0" r="1.0" fill="#a684d2" opacity="0.75"/><circle cx="116.3" cy="46.4" r="1.9" fill="#8e6ec6" opacity="0.75"/><circle cx="144.4" cy="35.2" r="1.7" fill="#b08cd6" opacity="0.75"/><circle cx="134.2" cy="15.6" r="1.1" fill="#a684d2" opacity="0.75"/><circle cx="122.2" cy="19.8" r="1.8" fill="#9a7acc" opacity="0.75"/><circle cx="128.0" cy="49.4" r="1.4" fill="#8e6ec6" opacity="0.75"/><circle cx="132.1" cy="45.1" r="1.7" fill="#a684d2" opacity="0.75"/><circle cx="128.4" cy="12.4" r="1.6" fill="#8e6ec6" opacity="0.75"/><circle cx="109.4" cy="18.7" r="2.2" fill="#b08cd6" opacity="0.75"/><circle cx="110.4" cy="20.0" r="1.6" fill="#8e6ec6" opacity="0.75"/><circle cx="116.0" cy="12.6" r="1.5" fill="#b08cd6" opacity="0.75"/><circle cx="121.2" cy="26.4" r="1.0" fill="#8e6ec6" opacity="0.75"/><circle cx="135.8" cy="30.6" r="1.3" fill="#a684d2" opacity="0.75"/><circle cx="119.3" cy="42.6" r="1.3" fill="#a684d2" opacity="0.75"/><circle cx="117.5" cy="45.3" r="1.2" fill="#b08cd6" opacity="0.75"/><circle cx="130.8" cy="45.5" r="1.7" fill="#9a7acc" opacity="0.75"/><circle cx="143.8" cy="16.9" r="1.6" fill="#a684d2" opacity="0.75"/><circle cx="108.2" cy="34.1" r="1.6" fill="#9a7acc" opacity="0.75"/><circle cx="114.4" cy="28.5" r="2.0" fill="#8e6ec6" opacity="0.75"/><circle cx="135.5" cy="49.4" r="2.3" fill="#8e6ec6" opacity="0.75"/><circle cx="114.6" cy="36.2" r="1.7" fill="#b08cd6" opacity="0.75"/><circle cx="108.5" cy="36.7" r="1.5" fill="#8e6ec6" opacity="0.75"/><circle cx="145.2" cy="28.2" r="1.2" fill="#9a7acc" opacity="0.75"/><circle cx="118.1" cy="24.7" r="2.3" fill="#9a7acc" opacity="0.75"/><circle cx="128.9" cy="40.3" r="1.5" fill="#8e6ec6" opacity="0.75"/><circle cx="138.9" cy="27.8" r="1.1" fill="#b08cd6" opacity="0.75"/><circle cx="114.8" cy="32.0" r="1.6" fill="#8e6ec6" opacity="0.75"/><circle cx="121.3" cy="45.6" r="1.0" fill="#b08cd6" opacity="0.75"/><circle cx="116.8" cy="35.2" r="1.6" fill="#b08cd6" opacity="0.75"/><circle cx="108.6" cy="13.7" r="2.3" fill="#8e6ec6" opacity="0.75"/><circle cx="114.8" cy="13.7" r="1.8" fill="#8e6ec6" opacity="0.75"/><circle cx="117.8" cy="47.9" r="1.9" fill="#8e6ec6" opacity="0.75"/><circle cx="136.0" cy="37.6" r="2.3" fill="#8e6ec6" opacity="0.75"/><circle cx="107.4" cy="40.2" r="2.3" fill="#9a7acc" opacity="0.75"/><circle cx="108.2" cy="20.2" r="1.7" fill="#b08cd6" opacity="0.75"/><circle cx="144.0" cy="26.1" r="1.4" fill="#b08cd6" opacity="0.75"/><circle cx="138.7" cy="16.4" r="1.7" fill="#9a7acc" opacity="0.75"/><circle cx="138.2" cy="39.5" r="2.2" fill="#a684d2" opacity="0.75"/><circle cx="130.7" cy="23.8" r="1.4" fill="#8e6ec6" opacity="0.75"/><circle cx="137.5" cy="34.1" r="1.7" fill="#b08cd6" opacity="0.75"/><circle cx="136.3" cy="20.7" r="1.1" fill="#9a7acc" opacity="0.75"/><circle cx="125.8" cy="32.1" r="1.2" fill="#b08cd6" opacity="0.75"/><circle cx="141.3" cy="49.0" r="1.4" fill="#9a7acc" opacity="0.75"/><circle cx="115.3" cy="27.4" r="2.4" fill="#b08cd6" opacity="0.75"/><circle cx="114.0" cy="16.4" r="1.6" fill="#a684d2" opacity="0.75"/><ellipse cx="136.1" cy="43.7" rx="1.4" ry="0.7" fill="#241690" transform="rotate(75 136.1 43.7)"/><ellipse cx="118.1" cy="21.5" rx="1.0" ry="0.8" fill="#4a34b0" transform="rotate(63 118.1 21.5)"/><ellipse cx="114.5" cy="20.3" rx="1.0" ry="1.3" fill="#3a28a8" transform="rotate(83 114.5 20.3)"/><ellipse cx="109.8" cy="20.9" rx="1.0" ry="1.0" fill="#2c1c9c" transform="rotate(167 109.8 20.9)"/><ellipse cx="125.2" cy="12.7" rx="0.7" ry="1.3" fill="#3a28a8" transform="rotate(114 125.2 12.7)"/><ellipse cx="142.5" cy="12.8" rx="1.0" ry="0.7" fill="#3a28a8" transform="rotate(153 142.5 12.8)"/><ellipse cx="144.8" cy="33.6" rx="1.7" ry="0.9" fill="#3a28a8" transform="rotate(114 144.8 33.6)"/><ellipse cx="130.5" cy="40.9" rx="1.4" ry="0.6" fill="#241690" transform="rotate(55 130.5 40.9)"/><ellipse cx="108.7" cy="24.3" rx="0.7" ry="1.4" fill="#2c1c9c" transform="rotate(153 108.7 24.3)"/><ellipse cx="135.5" cy="46.2" rx="1.6" ry="1.3" fill="#4a34b0" transform="rotate(173 135.5 46.2)"/><ellipse cx="121.6" cy="35.0" rx="0.8" ry="0.6" fill="#4a34b0" transform="rotate(140 121.6 35.0)"/><ellipse cx="125.9" cy="26.9" rx="1.6" ry="1.1" fill="#3a28a8" transform="rotate(163 125.9 26.9)"/><ellipse cx="127.9" cy="36.2" rx="1.1" ry="0.8" fill="#241690" transform="rotate(170 127.9 36.2)"/><ellipse cx="119.1" cy="47.7" rx="1.0" ry="1.1" fill="#241690" transform="rotate(106 119.1 47.7)"/><ellipse cx="123.3" cy="44.3" rx="1.8" ry="0.9" fill="#3a28a8" transform="rotate(100 123.3 44.3)"/><ellipse cx="135.3" cy="19.1" rx="0.7" ry="1.3" fill="#4a34b0" transform="rotate(29 135.3 19.1)"/><ellipse cx="138.9" cy="26.8" rx="1.7" ry="1.0" fill="#3a28a8" transform="rotate(33 138.9 26.8)"/><ellipse cx="107.9" cy="32.4" rx="1.4" ry="1.3" fill="#2c1c9c" transform="rotate(146 107.9 32.4)"/><ellipse cx="131.3" cy="25.5" rx="1.3" ry="0.7" fill="#241690" transform="rotate(41 131.3 25.5)"/><ellipse cx="127.4" cy="46.7" rx="0.8" ry="1.0" fill="#3a28a8" transform="rotate(77 127.4 46.7)"/><ellipse cx="112.2" cy="47.3" rx="1.8" ry="1.0" fill="#2c1c9c" transform="rotate(155 112.2 47.3)"/><ellipse cx="143.0" cy="26.1" rx="1.7" ry="1.1" fill="#3a28a8" transform="rotate(163 143.0 26.1)"/><ellipse cx="137.6" cy="19.8" rx="1.1" ry="1.3" fill="#4a34b0" transform="rotate(46 137.6 19.8)"/><ellipse cx="129.1" cy="12.9" rx="1.7" ry="0.7" fill="#241690" transform="rotate(31 129.1 12.9)"/><ellipse cx="113.1" cy="48.4" rx="1.6" ry="0.8" fill="#2c1c9c" transform="rotate(170 113.1 48.4)"/><ellipse cx="139.6" cy="15.8" rx="1.4" ry="1.0" fill="#241690" transform="rotate(166 139.6 15.8)"/><ellipse cx="123.5" cy="33.6" rx="1.2" ry="1.1" fill="#4a34b0" transform="rotate(128 123.5 33.6)"/><ellipse cx="124.2" cy="12.2" rx="1.4" ry="1.0" fill="#3a28a8" transform="rotate(114 124.2 12.2)"/><ellipse cx="136.7" cy="41.1" rx="1.2" ry="0.7" fill="#4a34b0" transform="rotate(102 136.7 41.1)"/><ellipse cx="111.4" cy="16.2" rx="1.2" ry="0.7" fill="#4a34b0" transform="rotate(129 111.4 16.2)"/><ellipse cx="126.9" cy="12.9" rx="1.4" ry="0.7" fill="#241690" transform="rotate(130 126.9 12.9)"/><ellipse cx="110.4" cy="40.0" rx="1.7" ry="1.1" fill="#3a28a8" transform="rotate(6 110.4 40.0)"/><ellipse cx="140.3" cy="49.4" rx="1.5" ry="1.3" fill="#3a28a8" transform="rotate(33 140.3 49.4)"/><ellipse cx="145.1" cy="30.1" rx="1.8" ry="1.3" fill="#3a28a8" transform="rotate(175 145.1 30.1)"/><ellipse cx="137.7" cy="46.8" rx="0.8" ry="0.9" fill="#241690" transform="rotate(40 137.7 46.8)"/><ellipse cx="119.8" cy="34.7" rx="1.7" ry="1.0" fill="#241690" transform="rotate(128 119.8 34.7)"/><ellipse cx="144.4" cy="29.6" rx="1.4" ry="1.1" fill="#3a28a8" transform="rotate(81 144.4 29.6)"/><ellipse cx="121.6" cy="18.9" rx="1.1" ry="1.1" fill="#241690" transform="rotate(173 121.6 18.9)"/><ellipse cx="119.9" cy="25.7" rx="1.6" ry="0.8" fill="#2c1c9c" transform="rotate(162 119.9 25.7)"/><ellipse cx="140.3" cy="48.2" rx="1.2" ry="1.0" fill="#2c1c9c" transform="rotate(64 140.3 48.2)"/><ellipse cx="145.5" cy="35.4" rx="1.1" ry="1.2" fill="#241690" transform="rotate(96 145.5 35.4)"/><ellipse cx="145.4" cy="33.4" rx="1.1" ry="1.2" fill="#4a34b0" transform="rotate(58 145.4 33.4)"/><ellipse cx="114.1" cy="39.7" rx="0.8" ry="1.3" fill="#241690" transform="rotate(79 114.1 39.7)"/><ellipse cx="131.9" cy="48.9" rx="1.3" ry="1.1" fill="#241690" transform="rotate(0 131.9 48.9)"/><ellipse cx="136.1" cy="19.8" rx="1.0" ry="1.1" fill="#4a34b0" transform="rotate(131 136.1 19.8)"/><ellipse cx="121.3" cy="13.1" rx="1.2" ry="1.1" fill="#2c1c9c" transform="rotate(5 121.3 13.1)"/><ellipse cx="109.4" cy="33.0" rx="1.0" ry="1.0" fill="#3a28a8" transform="rotate(105 109.4 33.0)"/><ellipse cx="129.8" cy="33.8" rx="0.9" ry="1.1" fill="#4a34b0" transform="rotate(40 129.8 33.8)"/><ellipse cx="112.5" cy="47.1" rx="1.0" ry="0.7" fill="#2c1c9c" transform="rotate(16 112.5 47.1)"/><ellipse cx="131.9" cy="44.6" rx="1.6" ry="0.9" fill="#241690" transform="rotate(2 131.9 44.6)"/><ellipse cx="109.5" cy="42.7" rx="1.7" ry="1.1" fill="#4a34b0" transform="rotate(154 109.5 42.7)"/><ellipse cx="143.4" cy="39.3" rx="1.0" ry="1.3" fill="#2c1c9c" transform="rotate(15 143.4 39.3)"/><ellipse cx="127.8" cy="26.8" rx="1.0" ry="0.6" fill="#2c1c9c" transform="rotate(3 127.8 26.8)"/><ellipse cx="130.9" cy="36.4" rx="0.9" ry="0.9" fill="#4a34b0" transform="rotate(156 130.9 36.4)"/><ellipse cx="114.0" cy="23.1" rx="1.0" ry="0.6" fill="#4a34b0" transform="rotate(137 114.0 23.1)"/><ellipse cx="107.5" cy="43.6" rx="1.5" ry="1.0" fill="#4a34b0" transform="rotate(44 107.5 43.6)"/><ellipse cx="116.0" cy="15.3" rx="1.0" ry="0.6" fill="#241690" transform="rotate(177 116.0 15.3)"/><ellipse cx="143.6" cy="21.4" rx="0.8" ry="1.1" fill="#4a34b0" transform="rotate(175 143.6 21.4)"/><ellipse cx="137.7" cy="31.3" rx="1.0" ry="1.1" fill="#3a28a8" transform="rotate(21 137.7 31.3)"/><ellipse cx="141.2" cy="11.9" rx="1.0" ry="0.8" fill="#3a28a8" transform="rotate(40 141.2 11.9)"/><ellipse cx="136.0" cy="23.8" rx="1.7" ry="0.9" fill="#3a28a8" transform="rotate(97 136.0 23.8)"/><ellipse cx="142.2" cy="35.4" rx="1.5" ry="1.1" fill="#4a34b0" transform="rotate(120 142.2 35.4)"/><ellipse cx="139.6" cy="37.9" rx="1.6" ry="0.9" fill="#3a28a8" transform="rotate(146 139.6 37.9)"/><ellipse cx="141.4" cy="41.4" rx="1.1" ry="1.1" fill="#3a28a8" transform="rotate(37 141.4 41.4)"/><ellipse cx="108.6" cy="15.6" rx="1.4" ry="0.7" fill="#3a28a8" transform="rotate(179 108.6 15.6)"/><ellipse cx="108.4" cy="12.9" rx="1.5" ry="1.1" fill="#2c1c9c" transform="rotate(11 108.4 12.9)"/><ellipse cx="109.8" cy="33.9" rx="1.1" ry="1.3" fill="#2c1c9c" transform="rotate(98 109.8 33.9)"/><ellipse cx="111.4" cy="19.2" rx="0.8" ry="0.6" fill="#2c1c9c" transform="rotate(161 111.4 19.2)"/><ellipse cx="131.6" cy="29.5" rx="0.8" ry="1.2" fill="#3a28a8" transform="rotate(75 131.6 29.5)"/><ellipse cx="119.6" cy="27.5" rx="0.7" ry="0.8" fill="#241690" transform="rotate(12 119.6 27.5)"/><ellipse cx="134.9" cy="25.4" rx="1.1" ry="1.4" fill="#4a34b0" transform="rotate(73 134.9 25.4)"/><ellipse cx="131.1" cy="12.5" rx="1.2" ry="0.9" fill="#2c1c9c" transform="rotate(88 131.1 12.5)"/><ellipse cx="125.4" cy="13.1" rx="1.3" ry="1.2" fill="#2c1c9c" transform="rotate(147 125.4 13.1)"/><ellipse cx="138.9" cy="17.8" rx="0.7" ry="0.8" fill="#2c1c9c" transform="rotate(1 138.9 17.8)"/><ellipse cx="120.7" cy="15.0" rx="1.5" ry="1.3" fill="#4a34b0" transform="rotate(151 120.7 15.0)"/></g>
<rect x="106.3" y="10.3" width="40.5" height="40.2" fill="none" stroke="#e02626" stroke-width="1.1"/></g>
<g><rect x="150.4" y="9.8" width="41.7" height="41.2" fill="#b486da"/>
<g filter="url(#bs)"><circle cx="165.3" cy="43.1" r="0.8" fill="#d8bce8"/><circle cx="162.9" cy="19.5" r="1.2" fill="#b590d8"/><circle cx="158.3" cy="47.2" r="1.2" fill="#b590d8"/><circle cx="182.4" cy="37.9" r="1.2" fill="#a880d0"/><circle cx="165.7" cy="26.6" r="0.9" fill="#e4d0f0"/><circle cx="168.2" cy="36.0" r="0.9" fill="#a880d0"/><circle cx="162.1" cy="45.7" r="1.0" fill="#b590d8"/><circle cx="189.9" cy="35.4" r="1.4" fill="#d8bce8"/><circle cx="172.5" cy="40.1" r="1.2" fill="#e4d0f0"/><circle cx="165.4" cy="23.8" r="0.7" fill="#b590d8"/><circle cx="177.5" cy="39.6" r="0.7" fill="#b590d8"/><circle cx="178.6" cy="21.1" r="0.8" fill="#a880d0"/><circle cx="169.8" cy="45.1" r="0.8" fill="#d8bce8"/><circle cx="162.3" cy="40.1" r="1.3" fill="#eadcf4"/><circle cx="157.9" cy="17.3" r="0.8" fill="#a880d0"/><circle cx="175.2" cy="24.6" r="0.8" fill="#d8bce8"/><circle cx="161.9" cy="47.8" r="1.4" fill="#d8bce8"/><circle cx="189.1" cy="15.2" r="0.9" fill="#d8bce8"/><circle cx="182.7" cy="39.3" r="0.9" fill="#d8bce8"/><circle cx="156.1" cy="46.1" r="0.8" fill="#b590d8"/><circle cx="169.9" cy="11.8" r="1.3" fill="#b590d8"/><circle cx="178.7" cy="30.4" r="1.1" fill="#b590d8"/><circle cx="152.8" cy="21.1" r="1.2" fill="#e4d0f0"/><circle cx="180.6" cy="46.0" r="0.9" fill="#eadcf4"/><circle cx="174.6" cy="36.0" r="1.3" fill="#eadcf4"/><circle cx="184.9" cy="37.3" r="1.1" fill="#b590d8"/><circle cx="168.6" cy="21.2" r="1.2" fill="#b590d8"/><circle cx="161.3" cy="26.6" r="1.2" fill="#d8bce8"/><circle cx="161.6" cy="27.5" r="1.0" fill="#eadcf4"/><circle cx="185.1" cy="31.1" r="1.1" fill="#d8bce8"/><circle cx="186.5" cy="23.8" r="0.6" fill="#b590d8"/><circle cx="187.0" cy="15.4" r="0.8" fill="#d8bce8"/><circle cx="158.1" cy="41.2" r="1.4" fill="#eadcf4"/><circle cx="165.4" cy="43.7" r="1.0" fill="#d8bce8"/><circle cx="179.7" cy="30.9" r="1.1" fill="#a880d0"/><circle cx="172.1" cy="27.0" r="1.4" fill="#d8bce8"/><circle cx="190.2" cy="18.3" r="1.0" fill="#e4d0f0"/><circle cx="180.1" cy="34.8" r="1.1" fill="#a880d0"/><circle cx="162.5" cy="26.6" r="0.6" fill="#b590d8"/><circle cx="187.3" cy="35.3" r="1.1" fill="#eadcf4"/><circle cx="162.2" cy="19.9" r="1.2" fill="#eadcf4"/><circle cx="189.5" cy="49.3" r="1.4" fill="#b590d8"/><circle cx="160.1" cy="16.2" r="1.2" fill="#d8bce8"/><circle cx="170.1" cy="32.8" r="0.8" fill="#d8bce8"/><circle cx="165.6" cy="35.7" r="1.3" fill="#b590d8"/><circle cx="170.0" cy="22.5" r="1.0" fill="#d8bce8"/><circle cx="182.1" cy="29.2" r="1.2" fill="#d8bce8"/><circle cx="162.2" cy="25.7" r="0.8" fill="#b590d8"/><circle cx="178.2" cy="29.7" r="1.2" fill="#a880d0"/><circle cx="165.8" cy="36.3" r="0.9" fill="#b590d8"/><circle cx="168.5" cy="35.6" r="1.1" fill="#a880d0"/><circle cx="157.8" cy="22.9" r="0.9" fill="#e4d0f0"/><circle cx="183.9" cy="45.9" r="1.2" fill="#d8bce8"/><circle cx="172.4" cy="24.5" r="1.1" fill="#e4d0f0"/><circle cx="160.0" cy="14.1" r="0.8" fill="#eadcf4"/><circle cx="155.8" cy="16.8" r="0.8" fill="#b590d8"/><circle cx="165.3" cy="17.1" r="1.3" fill="#eadcf4"/><circle cx="158.4" cy="45.3" r="1.1" fill="#e4d0f0"/><circle cx="177.8" cy="45.4" r="1.2" fill="#a880d0"/><circle cx="159.5" cy="37.8" r="1.0" fill="#b590d8"/><circle cx="177.9" cy="15.8" r="0.7" fill="#b590d8"/><circle cx="161.0" cy="16.6" r="1.0" fill="#e4d0f0"/><circle cx="170.6" cy="45.9" r="1.2" fill="#d8bce8"/><circle cx="171.2" cy="31.9" r="1.3" fill="#e4d0f0"/><circle cx="158.1" cy="23.6" r="1.2" fill="#b590d8"/><circle cx="177.6" cy="43.4" r="0.9" fill="#b590d8"/><circle cx="190.6" cy="37.1" r="0.7" fill="#a880d0"/><circle cx="176.5" cy="12.4" r="1.1" fill="#a880d0"/><circle cx="183.2" cy="14.9" r="1.0" fill="#d8bce8"/><circle cx="153.2" cy="38.7" r="1.1" fill="#a880d0"/><circle cx="155.6" cy="36.5" r="1.5" fill="#a684d2" opacity="0.75"/><circle cx="162.9" cy="24.4" r="1.4" fill="#9a7acc" opacity="0.75"/><circle cx="183.9" cy="22.5" r="2.2" fill="#b08cd6" opacity="0.75"/><circle cx="164.8" cy="48.9" r="2.2" fill="#8e6ec6" opacity="0.75"/><circle cx="189.6" cy="36.3" r="2.1" fill="#8e6ec6" opacity="0.75"/><circle cx="159.3" cy="38.5" r="1.2" fill="#9a7acc" opacity="0.75"/><circle cx="182.2" cy="12.8" r="2.0" fill="#b08cd6" opacity="0.75"/><circle cx="173.0" cy="13.2" r="1.4" fill="#9a7acc" opacity="0.75"/><circle cx="153.7" cy="42.7" r="1.7" fill="#9a7acc" opacity="0.75"/><circle cx="182.4" cy="46.1" r="1.9" fill="#a684d2" opacity="0.75"/><circle cx="176.2" cy="37.9" r="1.8" fill="#9a7acc" opacity="0.75"/><circle cx="160.1" cy="36.8" r="1.6" fill="#a684d2" opacity="0.75"/><circle cx="155.8" cy="18.2" r="1.1" fill="#9a7acc" opacity="0.75"/><circle cx="187.3" cy="36.3" r="1.5" fill="#a684d2" opacity="0.75"/><circle cx="182.3" cy="32.8" r="1.4" fill="#8e6ec6" opacity="0.75"/><circle cx="159.1" cy="12.6" r="1.0" fill="#9a7acc" opacity="0.75"/><circle cx="171.2" cy="31.2" r="2.2" fill="#b08cd6" opacity="0.75"/><circle cx="174.2" cy="46.4" r="1.6" fill="#9a7acc" opacity="0.75"/><circle cx="178.2" cy="34.0" r="2.4" fill="#a684d2" opacity="0.75"/><circle cx="170.3" cy="27.1" r="1.1" fill="#b08cd6" opacity="0.75"/><circle cx="160.1" cy="17.1" r="1.0" fill="#9a7acc" opacity="0.75"/><circle cx="152.3" cy="36.9" r="2.4" fill="#9a7acc" opacity="0.75"/><circle cx="160.3" cy="15.9" r="1.7" fill="#8e6ec6" opacity="0.75"/><circle cx="179.7" cy="20.6" r="2.0" fill="#a684d2" opacity="0.75"/><circle cx="187.6" cy="25.3" r="2.0" fill="#a684d2" opacity="0.75"/><circle cx="180.1" cy="14.5" r="1.9" fill="#b08cd6" opacity="0.75"/><circle cx="169.7" cy="46.9" r="1.4" fill="#9a7acc" opacity="0.75"/><circle cx="179.7" cy="11.7" r="1.0" fill="#9a7acc" opacity="0.75"/><circle cx="167.0" cy="23.2" r="1.8" fill="#b08cd6" opacity="0.75"/><circle cx="175.5" cy="23.4" r="2.3" fill="#b08cd6" opacity="0.75"/><circle cx="170.1" cy="17.7" r="2.4" fill="#9a7acc" opacity="0.75"/><circle cx="166.0" cy="35.9" r="1.9" fill="#b08cd6" opacity="0.75"/><circle cx="170.4" cy="41.0" r="1.6" fill="#8e6ec6" opacity="0.75"/><circle cx="182.3" cy="33.0" r="1.4" fill="#9a7acc" opacity="0.75"/><circle cx="176.0" cy="36.2" r="2.1" fill="#8e6ec6" opacity="0.75"/><circle cx="185.6" cy="39.0" r="1.0" fill="#a684d2" opacity="0.75"/><circle cx="175.2" cy="23.1" r="1.6" fill="#a684d2" opacity="0.75"/><circle cx="166.5" cy="37.5" r="1.8" fill="#a684d2" opacity="0.75"/><circle cx="183.1" cy="22.1" r="1.0" fill="#8e6ec6" opacity="0.75"/><circle cx="162.3" cy="17.3" r="2.3" fill="#9a7acc" opacity="0.75"/><circle cx="163.1" cy="16.7" r="2.2" fill="#a684d2" opacity="0.75"/><circle cx="162.5" cy="43.8" r="2.1" fill="#b08cd6" opacity="0.75"/><circle cx="165.3" cy="14.5" r="1.8" fill="#b08cd6" opacity="0.75"/><circle cx="159.7" cy="40.0" r="2.3" fill="#a684d2" opacity="0.75"/><circle cx="163.9" cy="13.5" r="1.6" fill="#a684d2" opacity="0.75"/><circle cx="187.7" cy="33.7" r="1.0" fill="#b08cd6" opacity="0.75"/><circle cx="169.7" cy="14.7" r="2.1" fill="#9a7acc" opacity="0.75"/><circle cx="160.9" cy="33.4" r="2.3" fill="#8e6ec6" opacity="0.75"/><circle cx="170.3" cy="33.8" r="1.3" fill="#a684d2" opacity="0.75"/><circle cx="155.5" cy="42.1" r="1.4" fill="#8e6ec6" opacity="0.75"/><circle cx="167.5" cy="31.1" r="1.2" fill="#9a7acc" opacity="0.75"/><circle cx="187.6" cy="30.1" r="2.2" fill="#8e6ec6" opacity="0.75"/><circle cx="176.4" cy="41.4" r="1.2" fill="#9a7acc" opacity="0.75"/><circle cx="165.2" cy="31.1" r="1.0" fill="#9a7acc" opacity="0.75"/><circle cx="159.8" cy="44.6" r="1.8" fill="#a684d2" opacity="0.75"/><circle cx="162.0" cy="41.1" r="1.6" fill="#b08cd6" opacity="0.75"/><circle cx="181.6" cy="42.6" r="2.3" fill="#8e6ec6" opacity="0.75"/><circle cx="184.6" cy="24.2" r="2.4" fill="#b08cd6" opacity="0.75"/><circle cx="155.1" cy="13.2" r="1.8" fill="#b08cd6" opacity="0.75"/><circle cx="170.7" cy="43.6" r="2.3" fill="#b08cd6" opacity="0.75"/><path d="M186.1,11.8 q2,8 0,15 q-1,6 1,12" stroke="#e63c9c" stroke-width="3" fill="none" opacity="0.9"/><ellipse cx="187.6" cy="38.3" rx="0.8" ry="0.9" fill="#3a28a8" transform="rotate(164 187.6 38.3)"/><ellipse cx="155.4" cy="46.5" rx="1.3" ry="0.7" fill="#3a28a8" transform="rotate(94 155.4 46.5)"/><ellipse cx="189.3" cy="49.2" rx="0.9" ry="0.6" fill="#241690" transform="rotate(90 189.3 49.2)"/><ellipse cx="154.2" cy="32.4" rx="0.7" ry="1.3" fill="#241690" transform="rotate(131 154.2 32.4)"/><ellipse cx="179.4" cy="36.0" rx="1.8" ry="0.6" fill="#3a28a8" transform="rotate(81 179.4 36.0)"/><ellipse cx="181.1" cy="47.2" rx="1.4" ry="0.8" fill="#4a34b0" transform="rotate(167 181.1 47.2)"/><ellipse cx="156.0" cy="23.7" rx="1.0" ry="0.7" fill="#4a34b0" transform="rotate(97 156.0 23.7)"/><ellipse cx="158.4" cy="20.4" rx="0.9" ry="1.1" fill="#2c1c9c" transform="rotate(119 158.4 20.4)"/><ellipse cx="179.7" cy="18.8" rx="0.7" ry="1.3" fill="#3a28a8" transform="rotate(19 179.7 18.8)"/><ellipse cx="188.0" cy="44.4" rx="1.7" ry="0.7" fill="#4a34b0" transform="rotate(24 188.0 44.4)"/><ellipse cx="187.7" cy="26.0" rx="0.7" ry="0.7" fill="#241690" transform="rotate(82 187.7 26.0)"/><ellipse cx="183.8" cy="29.5" rx="1.4" ry="0.7" fill="#3a28a8" transform="rotate(14 183.8 29.5)"/><ellipse cx="158.9" cy="28.5" rx="1.7" ry="1.0" fill="#3a28a8" transform="rotate(68 158.9 28.5)"/><ellipse cx="168.1" cy="20.7" rx="0.7" ry="1.1" fill="#241690" transform="rotate(85 168.1 20.7)"/><ellipse cx="183.0" cy="21.3" rx="0.8" ry="1.0" fill="#4a34b0" transform="rotate(29 183.0 21.3)"/><ellipse cx="157.8" cy="30.9" rx="1.4" ry="1.2" fill="#3a28a8" transform="rotate(143 157.8 30.9)"/><ellipse cx="170.4" cy="22.2" rx="1.0" ry="0.8" fill="#241690" transform="rotate(110 170.4 22.2)"/><ellipse cx="190.3" cy="49.4" rx="1.7" ry="0.7" fill="#241690" transform="rotate(106 190.3 49.4)"/><ellipse cx="186.6" cy="13.5" rx="1.5" ry="0.8" fill="#2c1c9c" transform="rotate(113 186.6 13.5)"/><ellipse cx="183.1" cy="24.3" rx="0.9" ry="0.6" fill="#241690" transform="rotate(47 183.1 24.3)"/><ellipse cx="165.8" cy="12.8" rx="1.1" ry="0.8" fill="#3a28a8" transform="rotate(35 165.8 12.8)"/><ellipse cx="184.5" cy="31.2" rx="1.0" ry="0.7" fill="#2c1c9c" transform="rotate(22 184.5 31.2)"/><ellipse cx="186.3" cy="39.2" rx="1.5" ry="0.7" fill="#3a28a8" transform="rotate(156 186.3 39.2)"/><ellipse cx="177.8" cy="35.3" rx="0.9" ry="0.8" fill="#2c1c9c" transform="rotate(16 177.8 35.3)"/><ellipse cx="178.7" cy="31.1" rx="1.6" ry="1.3" fill="#241690" transform="rotate(85 178.7 31.1)"/><ellipse cx="162.8" cy="35.7" rx="1.7" ry="0.7" fill="#4a34b0" transform="rotate(122 162.8 35.7)"/><ellipse cx="157.1" cy="36.7" rx="1.0" ry="1.1" fill="#241690" transform="rotate(9 157.1 36.7)"/><ellipse cx="158.2" cy="25.5" rx="1.4" ry="0.6" fill="#4a34b0" transform="rotate(132 158.2 25.5)"/><ellipse cx="154.7" cy="24.9" rx="1.0" ry="1.3" fill="#241690" transform="rotate(97 154.7 24.9)"/><ellipse cx="174.2" cy="45.6" rx="1.0" ry="0.7" fill="#4a34b0" transform="rotate(114 174.2 45.6)"/><ellipse cx="171.8" cy="31.6" rx="1.3" ry="0.6" fill="#2c1c9c" transform="rotate(57 171.8 31.6)"/><ellipse cx="175.9" cy="17.7" rx="1.0" ry="1.0" fill="#2c1c9c" transform="rotate(4 175.9 17.7)"/><ellipse cx="155.6" cy="38.0" rx="0.9" ry="0.6" fill="#4a34b0" transform="rotate(133 155.6 38.0)"/><ellipse cx="161.1" cy="28.3" rx="1.1" ry="0.7" fill="#3a28a8" transform="rotate(11 161.1 28.3)"/><ellipse cx="162.5" cy="29.1" rx="1.3" ry="1.2" fill="#2c1c9c" transform="rotate(31 162.5 29.1)"/><ellipse cx="156.6" cy="45.1" rx="1.3" ry="0.8" fill="#3a28a8" transform="rotate(37 156.6 45.1)"/><ellipse cx="177.8" cy="29.0" rx="1.1" ry="1.4" fill="#2c1c9c" transform="rotate(162 177.8 29.0)"/><ellipse cx="166.9" cy="27.4" rx="1.6" ry="1.0" fill="#4a34b0" transform="rotate(13 166.9 27.4)"/><ellipse cx="182.0" cy="24.2" rx="1.0" ry="0.9" fill="#4a34b0" transform="rotate(144 182.0 24.2)"/><ellipse cx="183.0" cy="46.2" rx="1.6" ry="1.3" fill="#2c1c9c" transform="rotate(83 183.0 46.2)"/><ellipse cx="171.9" cy="47.9" rx="1.7" ry="0.8" fill="#4a34b0" transform="rotate(169 171.9 47.9)"/><ellipse cx="176.4" cy="25.2" rx="1.3" ry="0.7" fill="#4a34b0" transform="rotate(51 176.4 25.2)"/><ellipse cx="171.4" cy="12.1" rx="0.9" ry="1.4" fill="#4a34b0" transform="rotate(162 171.4 12.1)"/><ellipse cx="153.7" cy="48.7" rx="1.8" ry="0.6" fill="#241690" transform="rotate(173 153.7 48.7)"/><ellipse cx="176.0" cy="35.3" rx="1.6" ry="0.6" fill="#2c1c9c" transform="rotate(64 176.0 35.3)"/><ellipse cx="156.6" cy="11.8" rx="1.0" ry="0.6" fill="#2c1c9c" transform="rotate(78 156.6 11.8)"/><ellipse cx="165.4" cy="17.7" rx="0.8" ry="1.4" fill="#241690" transform="rotate(21 165.4 17.7)"/><ellipse cx="170.0" cy="31.7" rx="0.9" ry="0.7" fill="#3a28a8" transform="rotate(75 170.0 31.7)"/><ellipse cx="187.3" cy="33.4" rx="1.0" ry="1.2" fill="#241690" transform="rotate(116 187.3 33.4)"/><ellipse cx="175.5" cy="33.1" rx="1.4" ry="0.8" fill="#241690" transform="rotate(117 175.5 33.1)"/><ellipse cx="186.4" cy="22.9" rx="1.2" ry="1.3" fill="#2c1c9c" transform="rotate(62 186.4 22.9)"/><ellipse cx="164.8" cy="18.5" rx="1.3" ry="1.4" fill="#4a34b0" transform="rotate(3 164.8 18.5)"/><ellipse cx="187.7" cy="17.5" rx="1.7" ry="0.9" fill="#241690" transform="rotate(125 187.7 17.5)"/><ellipse cx="162.3" cy="44.9" rx="0.9" ry="0.6" fill="#2c1c9c" transform="rotate(40 162.3 44.9)"/><ellipse cx="173.2" cy="34.4" rx="1.1" ry="1.1" fill="#4a34b0" transform="rotate(112 173.2 34.4)"/><ellipse cx="165.6" cy="40.4" rx="1.3" ry="1.4" fill="#3a28a8" transform="rotate(106 165.6 40.4)"/><ellipse cx="164.9" cy="24.8" rx="1.4" ry="1.1" fill="#241690" transform="rotate(132 164.9 24.8)"/><ellipse cx="155.6" cy="44.0" rx="1.7" ry="1.4" fill="#241690" transform="rotate(161 155.6 44.0)"/><ellipse cx="179.3" cy="46.2" rx="0.8" ry="1.3" fill="#2c1c9c" transform="rotate(105 179.3 46.2)"/><ellipse cx="181.5" cy="33.7" rx="1.2" ry="1.4" fill="#3a28a8" transform="rotate(106 181.5 33.7)"/><ellipse cx="184.8" cy="22.0" rx="1.4" ry="0.7" fill="#4a34b0" transform="rotate(177 184.8 22.0)"/><ellipse cx="169.6" cy="38.9" rx="1.0" ry="0.9" fill="#4a34b0" transform="rotate(165 169.6 38.9)"/><ellipse cx="164.4" cy="41.4" rx="1.6" ry="1.0" fill="#4a34b0" transform="rotate(76 164.4 41.4)"/><ellipse cx="159.0" cy="22.9" rx="0.9" ry="1.1" fill="#3a28a8" transform="rotate(22 159.0 22.9)"/><ellipse cx="183.7" cy="23.9" rx="1.8" ry="1.1" fill="#3a28a8" transform="rotate(83 183.7 23.9)"/><ellipse cx="159.8" cy="27.6" rx="1.7" ry="0.6" fill="#2c1c9c" transform="rotate(65 159.8 27.6)"/><ellipse cx="173.8" cy="30.3" rx="1.7" ry="1.2" fill="#4a34b0" transform="rotate(132 173.8 30.3)"/><ellipse cx="183.9" cy="39.1" rx="1.2" ry="1.0" fill="#2c1c9c" transform="rotate(152 183.9 39.1)"/><ellipse cx="178.1" cy="28.6" rx="0.7" ry="0.7" fill="#3a28a8" transform="rotate(25 178.1 28.6)"/><ellipse cx="167.7" cy="30.4" rx="1.4" ry="1.3" fill="#3a28a8" transform="rotate(48 167.7 30.4)"/><ellipse cx="189.2" cy="29.9" rx="1.2" ry="1.1" fill="#241690" transform="rotate(177 189.2 29.9)"/><ellipse cx="172.4" cy="42.5" rx="0.9" ry="0.9" fill="#2c1c9c" transform="rotate(79 172.4 42.5)"/><ellipse cx="171.7" cy="15.5" rx="1.7" ry="1.2" fill="#4a34b0" transform="rotate(161 171.7 15.5)"/><ellipse cx="158.0" cy="22.4" rx="1.3" ry="1.0" fill="#3a28a8" transform="rotate(105 158.0 22.4)"/><ellipse cx="159.0" cy="35.4" rx="1.4" ry="0.9" fill="#2c1c9c" transform="rotate(177 159.0 35.4)"/><ellipse cx="167.8" cy="41.4" rx="1.0" ry="1.2" fill="#2c1c9c" transform="rotate(77 167.8 41.4)"/><ellipse cx="167.3" cy="15.1" rx="0.7" ry="0.6" fill="#3a28a8" transform="rotate(127 167.3 15.1)"/><ellipse cx="181.7" cy="33.0" rx="1.7" ry="1.3" fill="#3a28a8" transform="rotate(147 181.7 33.0)"/><ellipse cx="159.6" cy="34.3" rx="0.9" ry="1.0" fill="#2c1c9c" transform="rotate(7 159.6 34.3)"/><ellipse cx="155.8" cy="17.8" rx="1.3" ry="1.3" fill="#4a34b0" transform="rotate(15 155.8 17.8)"/><ellipse cx="177.1" cy="37.5" rx="1.3" ry="0.7" fill="#3a28a8" transform="rotate(90 177.1 37.5)"/><ellipse cx="162.6" cy="12.6" rx="1.4" ry="1.3" fill="#2c1c9c" transform="rotate(89 162.6 12.6)"/><ellipse cx="159.3" cy="35.1" rx="0.7" ry="0.8" fill="#4a34b0" transform="rotate(149 159.3 35.1)"/><ellipse cx="181.5" cy="13.0" rx="0.8" ry="0.8" fill="#3a28a8" transform="rotate(11 181.5 13.0)"/><ellipse cx="158.1" cy="33.7" rx="0.9" ry="0.6" fill="#4a34b0" transform="rotate(77 158.1 33.7)"/><ellipse cx="168.1" cy="20.9" rx="1.7" ry="1.4" fill="#2c1c9c" transform="rotate(62 168.1 20.9)"/><ellipse cx="178.1" cy="37.1" rx="1.3" ry="0.9" fill="#4a34b0" transform="rotate(124 178.1 37.1)"/><ellipse cx="152.8" cy="44.5" rx="0.8" ry="0.7" fill="#4a34b0" transform="rotate(47 152.8 44.5)"/><ellipse cx="152.2" cy="45.0" rx="1.1" ry="0.9" fill="#241690" transform="rotate(136 152.2 45.0)"/><ellipse cx="185.6" cy="24.1" rx="1.4" ry="1.4" fill="#4a34b0" transform="rotate(89 185.6 24.1)"/><ellipse cx="173.3" cy="26.1" rx="1.2" ry="0.9" fill="#4a34b0" transform="rotate(8 173.3 26.1)"/><ellipse cx="162.7" cy="12.3" rx="1.6" ry="0.8" fill="#3a28a8" transform="rotate(23 162.7 12.3)"/><ellipse cx="159.5" cy="32.1" rx="1.6" ry="1.0" fill="#4a34b0" transform="rotate(61 159.5 32.1)"/><ellipse cx="158.1" cy="24.8" rx="1.5" ry="0.9" fill="#3a28a8" transform="rotate(76 158.1 24.8)"/><ellipse cx="188.7" cy="30.6" rx="1.0" ry="1.0" fill="#3a28a8" transform="rotate(180 188.7 30.6)"/><ellipse cx="190.5" cy="34.1" rx="1.2" ry="1.4" fill="#3a28a8" transform="rotate(103 190.5 34.1)"/><ellipse cx="175.4" cy="19.4" rx="1.7" ry="0.7" fill="#2c1c9c" transform="rotate(138 175.4 19.4)"/><ellipse cx="184.9" cy="39.4" rx="1.5" ry="0.6" fill="#3a28a8" transform="rotate(79 184.9 39.4)"/><ellipse cx="152.5" cy="38.4" rx="1.5" ry="1.2" fill="#3a28a8" transform="rotate(82 152.5 38.4)"/><ellipse cx="159.2" cy="45.3" rx="0.8" ry="1.3" fill="#241690" transform="rotate(49 159.2 45.3)"/><ellipse cx="154.5" cy="23.2" rx="0.9" ry="0.7" fill="#4a34b0" transform="rotate(72 154.5 23.2)"/><ellipse cx="165.7" cy="43.6" rx="1.2" ry="1.1" fill="#3a28a8" transform="rotate(70 165.7 43.6)"/><ellipse cx="158.7" cy="25.3" rx="1.6" ry="1.2" fill="#4a34b0" transform="rotate(6 158.7 25.3)"/><ellipse cx="177.4" cy="38.0" rx="1.0" ry="1.3" fill="#241690" transform="rotate(160 177.4 38.0)"/><ellipse cx="155.7" cy="22.4" rx="1.0" ry="1.1" fill="#3a28a8" transform="rotate(173 155.7 22.4)"/><ellipse cx="153.5" cy="12.8" rx="0.9" ry="0.8" fill="#241690" transform="rotate(39 153.5 12.8)"/><ellipse cx="166.6" cy="12.8" rx="1.0" ry="1.1" fill="#3a28a8" transform="rotate(144 166.6 12.8)"/><ellipse cx="184.4" cy="33.1" rx="1.5" ry="0.8" fill="#4a34b0" transform="rotate(171 184.4 33.1)"/><ellipse cx="178.4" cy="24.6" rx="0.7" ry="1.3" fill="#241690" transform="rotate(10 178.4 24.6)"/><ellipse cx="185.8" cy="33.7" rx="1.5" ry="1.4" fill="#2c1c9c" transform="rotate(9 185.8 33.7)"/><ellipse cx="182.5" cy="19.3" rx="1.7" ry="1.2" fill="#2c1c9c" transform="rotate(106 182.5 19.3)"/><ellipse cx="178.8" cy="26.3" rx="1.5" ry="1.3" fill="#241690" transform="rotate(134 178.8 26.3)"/><ellipse cx="155.4" cy="47.5" rx="1.2" ry="1.3" fill="#4a34b0" transform="rotate(130 155.4 47.5)"/><ellipse cx="154.0" cy="38.0" rx="1.2" ry="1.0" fill="#3a28a8" transform="rotate(125 154.0 38.0)"/><ellipse cx="181.4" cy="13.0" rx="1.5" ry="1.2" fill="#241690" transform="rotate(44 181.4 13.0)"/><ellipse cx="173.0" cy="48.3" rx="1.4" ry="1.0" fill="#3a28a8" transform="rotate(15 173.0 48.3)"/><ellipse cx="158.4" cy="24.6" rx="0.8" ry="1.1" fill="#3a28a8" transform="rotate(34 158.4 24.6)"/><ellipse cx="178.5" cy="29.9" rx="1.2" ry="1.2" fill="#2c1c9c" transform="rotate(131 178.5 29.9)"/><ellipse cx="178.7" cy="16.4" rx="1.4" ry="1.2" fill="#3a28a8" transform="rotate(36 178.7 16.4)"/><ellipse cx="174.6" cy="20.5" rx="1.4" ry="0.7" fill="#4a34b0" transform="rotate(43 174.6 20.5)"/><ellipse cx="178.1" cy="17.2" rx="1.8" ry="1.3" fill="#4a34b0" transform="rotate(52 178.1 17.2)"/><ellipse cx="156.3" cy="22.4" rx="1.1" ry="0.8" fill="#2c1c9c" transform="rotate(71 156.3 22.4)"/><ellipse cx="163.7" cy="15.5" rx="1.0" ry="1.4" fill="#3a28a8" transform="rotate(83 163.7 15.5)"/><ellipse cx="169.1" cy="33.0" rx="1.0" ry="1.0" fill="#2c1c9c" transform="rotate(2 169.1 33.0)"/><ellipse cx="170.0" cy="48.7" rx="1.2" ry="1.2" fill="#241690" transform="rotate(144 170.0 48.7)"/><ellipse cx="162.1" cy="35.9" rx="1.8" ry="1.0" fill="#241690" transform="rotate(2 162.1 35.9)"/><ellipse cx="165.8" cy="14.8" rx="1.0" ry="1.1" fill="#241690" transform="rotate(167 165.8 14.8)"/><ellipse cx="161.4" cy="16.6" rx="0.7" ry="1.2" fill="#3a28a8" transform="rotate(75 161.4 16.6)"/><ellipse cx="166.1" cy="48.0" rx="1.3" ry="1.3" fill="#3a28a8" transform="rotate(26 166.1 48.0)"/><ellipse cx="182.3" cy="43.0" rx="1.5" ry="0.9" fill="#3a28a8" transform="rotate(165 182.3 43.0)"/><ellipse cx="183.8" cy="23.5" rx="1.1" ry="1.0" fill="#241690" transform="rotate(64 183.8 23.5)"/><ellipse cx="161.2" cy="12.9" rx="1.3" ry="1.1" fill="#4a34b0" transform="rotate(12 161.2 12.9)"/><ellipse cx="188.5" cy="30.2" rx="1.2" ry="0.7" fill="#241690" transform="rotate(154 188.5 30.2)"/><ellipse cx="174.4" cy="14.4" rx="1.5" ry="0.7" fill="#4a34b0" transform="rotate(163 174.4 14.4)"/><ellipse cx="189.4" cy="14.7" rx="0.7" ry="1.0" fill="#3a28a8" transform="rotate(55 189.4 14.7)"/><ellipse cx="179.9" cy="11.4" rx="1.6" ry="1.3" fill="#4a34b0" transform="rotate(36 179.9 11.4)"/><ellipse cx="162.9" cy="36.6" rx="1.3" ry="0.9" fill="#241690" transform="rotate(16 162.9 36.6)"/><ellipse cx="168.9" cy="36.7" rx="1.6" ry="1.3" fill="#3a28a8" transform="rotate(96 168.9 36.7)"/><ellipse cx="163.3" cy="28.2" rx="1.3" ry="0.9" fill="#3a28a8" transform="rotate(120 163.3 28.2)"/><ellipse cx="155.2" cy="23.7" rx="1.2" ry="1.4" fill="#3a28a8" transform="rotate(102 155.2 23.7)"/><ellipse cx="189.1" cy="35.0" rx="1.6" ry="0.6" fill="#241690" transform="rotate(155 189.1 35.0)"/><ellipse cx="177.4" cy="32.9" rx="1.2" ry="0.9" fill="#3a28a8" transform="rotate(76 177.4 32.9)"/><ellipse cx="185.4" cy="31.6" rx="1.4" ry="1.3" fill="#3a28a8" transform="rotate(173 185.4 31.6)"/><ellipse cx="180.5" cy="37.7" rx="0.9" ry="1.1" fill="#4a34b0" transform="rotate(92 180.5 37.7)"/><ellipse cx="172.4" cy="32.9" rx="1.1" ry="0.7" fill="#3a28a8" transform="rotate(51 172.4 32.9)"/><ellipse cx="173.1" cy="15.6" rx="1.6" ry="0.8" fill="#2c1c9c" transform="rotate(48 173.1 15.6)"/><ellipse cx="172.4" cy="20.9" rx="1.2" ry="1.0" fill="#3a28a8" transform="rotate(138 172.4 20.9)"/><ellipse cx="174.1" cy="15.6" rx="1.3" ry="1.1" fill="#2c1c9c" transform="rotate(104 174.1 15.6)"/><ellipse cx="178.2" cy="41.9" rx="0.8" ry="1.0" fill="#2c1c9c" transform="rotate(160 178.2 41.9)"/><ellipse cx="190.2" cy="38.9" rx="0.8" ry="1.3" fill="#4a34b0" transform="rotate(139 190.2 38.9)"/><ellipse cx="158.5" cy="48.0" rx="1.3" ry="1.2" fill="#3a28a8" transform="rotate(95 158.5 48.0)"/><ellipse cx="181.9" cy="13.5" rx="1.0" ry="0.9" fill="#2c1c9c" transform="rotate(179 181.9 13.5)"/><ellipse cx="174.9" cy="19.4" rx="1.0" ry="1.2" fill="#4a34b0" transform="rotate(22 174.9 19.4)"/><ellipse cx="175.9" cy="44.6" rx="1.3" ry="1.3" fill="#241690" transform="rotate(43 175.9 44.6)"/><ellipse cx="166.1" cy="43.4" rx="1.6" ry="1.2" fill="#2c1c9c" transform="rotate(65 166.1 43.4)"/><ellipse cx="156.6" cy="25.5" rx="1.5" ry="1.4" fill="#4a34b0" transform="rotate(11 156.6 25.5)"/><ellipse cx="183.5" cy="24.8" rx="1.1" ry="0.9" fill="#2c1c9c" transform="rotate(8 183.5 24.8)"/><ellipse cx="187.7" cy="37.1" rx="1.0" ry="0.8" fill="#4a34b0" transform="rotate(5 187.7 37.1)"/><ellipse cx="184.3" cy="33.5" rx="0.8" ry="0.6" fill="#2c1c9c" transform="rotate(18 184.3 33.5)"/><ellipse cx="182.9" cy="18.4" rx="1.3" ry="0.8" fill="#4a34b0" transform="rotate(36 182.9 18.4)"/><ellipse cx="174.7" cy="20.9" rx="1.8" ry="1.2" fill="#241690" transform="rotate(113 174.7 20.9)"/><ellipse cx="152.4" cy="24.4" rx="0.9" ry="1.0" fill="#2c1c9c" transform="rotate(9 152.4 24.4)"/><ellipse cx="154.8" cy="35.0" rx="1.4" ry="1.1" fill="#4a34b0" transform="rotate(40 154.8 35.0)"/><ellipse cx="178.7" cy="28.4" rx="1.0" ry="1.4" fill="#2c1c9c" transform="rotate(92 178.7 28.4)"/><ellipse cx="164.6" cy="19.6" rx="1.7" ry="1.1" fill="#2c1c9c" transform="rotate(54 164.6 19.6)"/><ellipse cx="158.5" cy="25.1" rx="1.2" ry="1.1" fill="#4a34b0" transform="rotate(90 158.5 25.1)"/><ellipse cx="164.1" cy="24.1" rx="1.2" ry="0.8" fill="#3a28a8" transform="rotate(117 164.1 24.1)"/><ellipse cx="185.8" cy="34.6" rx="1.4" ry="1.2" fill="#3a28a8" transform="rotate(69 185.8 34.6)"/><ellipse cx="166.8" cy="13.7" rx="1.8" ry="0.9" fill="#3a28a8" transform="rotate(178 166.8 13.7)"/><ellipse cx="153.2" cy="32.7" rx="1.5" ry="1.3" fill="#4a34b0" transform="rotate(162 153.2 32.7)"/></g>
<rect x="150.9" y="10.3" width="40.7" height="40.2" fill="none" stroke="#2ea2e6" stroke-width="1.1"/></g>
<g><rect x="195.4" y="9.8" width="41.1" height="41.2" fill="#c29cc6"/>
<g filter="url(#bs)"><circle cx="218.7" cy="15.1" r="1.2" fill="#b088b6"/><circle cx="230.2" cy="47.2" r="1.1" fill="#ccaccf"/><circle cx="233.6" cy="24.3" r="0.9" fill="#a880b0"/><circle cx="206.2" cy="44.6" r="1.2" fill="#ccaccf"/><circle cx="199.2" cy="24.2" r="0.9" fill="#b890be"/><circle cx="216.1" cy="45.5" r="1.2" fill="#ccaccf"/><circle cx="202.6" cy="19.1" r="1.3" fill="#a880b0"/><circle cx="214.2" cy="28.3" r="1.1" fill="#ccaccf"/><circle cx="232.3" cy="33.7" r="0.7" fill="#a880b0"/><circle cx="208.7" cy="39.1" r="1.0" fill="#ccaccf"/><circle cx="199.7" cy="18.6" r="1.3" fill="#d8c4da"/><circle cx="203.7" cy="33.5" r="1.4" fill="#ccaccf"/><circle cx="233.9" cy="37.7" r="1.2" fill="#d4bcd6"/><circle cx="228.9" cy="23.5" r="0.7" fill="#ccaccf"/><circle cx="217.7" cy="40.3" r="1.1" fill="#b088b6"/><circle cx="223.7" cy="19.6" r="0.9" fill="#b088b6"/><circle cx="230.9" cy="22.1" r="1.0" fill="#d4bcd6"/><circle cx="204.4" cy="39.3" r="1.4" fill="#d8c4da"/><circle cx="198.8" cy="14.1" r="1.3" fill="#d8c4da"/><circle cx="209.9" cy="16.5" r="0.8" fill="#d8c4da"/><circle cx="221.4" cy="11.9" r="0.9" fill="#d4bcd6"/><circle cx="205.0" cy="23.8" r="1.2" fill="#a880b0"/><circle cx="215.4" cy="34.6" r="1.2" fill="#b088b6"/><circle cx="199.1" cy="27.1" r="0.6" fill="#a880b0"/><circle cx="220.2" cy="40.9" r="1.4" fill="#b890be"/><circle cx="206.7" cy="29.0" r="0.6" fill="#ccaccf"/><circle cx="218.4" cy="49.0" r="0.6" fill="#d8c4da"/><circle cx="224.0" cy="43.2" r="0.7" fill="#d4bcd6"/><circle cx="202.9" cy="16.7" r="1.2" fill="#d4bcd6"/><circle cx="210.5" cy="25.1" r="0.9" fill="#a880b0"/><circle cx="219.3" cy="32.5" r="1.1" fill="#d8c4da"/><circle cx="218.8" cy="20.1" r="1.1" fill="#a880b0"/><circle cx="215.1" cy="12.5" r="1.1" fill="#a880b0"/><circle cx="226.3" cy="48.6" r="1.0" fill="#ccaccf"/><circle cx="210.7" cy="31.5" r="0.8" fill="#ccaccf"/><circle cx="197.2" cy="29.5" r="1.1" fill="#ccaccf"/><circle cx="202.6" cy="35.3" r="0.9" fill="#d4bcd6"/><circle cx="232.6" cy="35.2" r="0.7" fill="#d8c4da"/><circle cx="216.0" cy="32.5" r="0.7" fill="#d8c4da"/><circle cx="210.8" cy="17.0" r="0.7" fill="#a880b0"/><circle cx="229.5" cy="41.1" r="1.0" fill="#ccaccf"/><circle cx="226.5" cy="20.6" r="1.4" fill="#b890be"/><circle cx="205.0" cy="46.2" r="1.3" fill="#b890be"/><circle cx="214.4" cy="23.7" r="1.3" fill="#d4bcd6"/><circle cx="222.0" cy="11.9" r="1.2" fill="#b890be"/><circle cx="222.6" cy="24.7" r="1.3" fill="#ac84b4" opacity="0.75"/><circle cx="212.5" cy="46.4" r="2.3" fill="#bc96c2" opacity="0.75"/><circle cx="229.7" cy="12.5" r="1.0" fill="#bc96c2" opacity="0.75"/><circle cx="213.4" cy="20.1" r="1.3" fill="#ac84b4" opacity="0.75"/><circle cx="221.4" cy="22.7" r="2.4" fill="#b48cba" opacity="0.75"/><circle cx="234.3" cy="41.5" r="1.7" fill="#ac84b4" opacity="0.75"/><circle cx="233.3" cy="16.5" r="1.4" fill="#b48cba" opacity="0.75"/><circle cx="209.5" cy="29.8" r="2.2" fill="#b48cba" opacity="0.75"/><circle cx="209.1" cy="34.6" r="2.3" fill="#b48cba" opacity="0.75"/><circle cx="219.0" cy="45.0" r="1.3" fill="#bc96c2" opacity="0.75"/><circle cx="210.6" cy="41.1" r="2.2" fill="#b48cba" opacity="0.75"/><circle cx="213.5" cy="16.6" r="2.3" fill="#bc96c2" opacity="0.75"/><circle cx="197.8" cy="15.6" r="2.4" fill="#b48cba" opacity="0.75"/><circle cx="202.0" cy="22.9" r="1.7" fill="#ac84b4" opacity="0.75"/><circle cx="200.6" cy="17.7" r="2.0" fill="#b48cba" opacity="0.75"/><circle cx="212.7" cy="35.8" r="1.9" fill="#ac84b4" opacity="0.75"/><circle cx="230.5" cy="48.7" r="1.0" fill="#b48cba" opacity="0.75"/><circle cx="204.6" cy="35.3" r="1.0" fill="#b48cba" opacity="0.75"/><circle cx="216.1" cy="20.1" r="1.6" fill="#b48cba" opacity="0.75"/><circle cx="224.7" cy="13.1" r="2.3" fill="#b48cba" opacity="0.75"/><circle cx="230.4" cy="15.9" r="1.7" fill="#b48cba" opacity="0.75"/><circle cx="216.9" cy="11.4" r="1.3" fill="#bc96c2" opacity="0.75"/><circle cx="202.5" cy="39.5" r="1.7" fill="#b48cba" opacity="0.75"/><circle cx="217.1" cy="43.4" r="2.3" fill="#b48cba" opacity="0.75"/><circle cx="210.2" cy="19.5" r="2.4" fill="#b48cba" opacity="0.75"/><circle cx="224.8" cy="21.7" r="1.2" fill="#ac84b4" opacity="0.75"/><circle cx="207.1" cy="48.2" r="1.3" fill="#b48cba" opacity="0.75"/><circle cx="212.4" cy="32.6" r="1.5" fill="#b48cba" opacity="0.75"/><circle cx="209.3" cy="12.9" r="1.6" fill="#ac84b4" opacity="0.75"/><circle cx="217.8" cy="37.7" r="2.4" fill="#bc96c2" opacity="0.75"/><circle cx="224.2" cy="26.6" r="1.4" fill="#ac84b4" opacity="0.75"/><circle cx="211.5" cy="17.1" r="2.1" fill="#ac84b4" opacity="0.75"/><circle cx="227.5" cy="45.6" r="1.9" fill="#b48cba" opacity="0.75"/><circle cx="220.1" cy="46.7" r="1.4" fill="#bc96c2" opacity="0.75"/><circle cx="224.7" cy="49.2" r="2.2" fill="#bc96c2" opacity="0.75"/><circle cx="201.3" cy="43.5" r="2.1" fill="#bc96c2" opacity="0.75"/><circle cx="198.8" cy="37.8" r="1.5" fill="#bc96c2" opacity="0.75"/><circle cx="213.8" cy="36.8" r="1.6" fill="#bc96c2" opacity="0.75"/><circle cx="196.9" cy="39.8" r="2.2" fill="#bc96c2" opacity="0.75"/><circle cx="209.9" cy="32.2" r="1.5" fill="#bc96c2" opacity="0.75"/><ellipse cx="227.1" cy="44.5" rx="0.8" ry="0.6" fill="#3a2890" transform="rotate(68 227.1 44.5)"/><ellipse cx="220.2" cy="37.2" rx="0.8" ry="0.8" fill="#3a2890" transform="rotate(170 220.2 37.2)"/><ellipse cx="205.4" cy="34.7" rx="0.8" ry="0.9" fill="#6a50b0" transform="rotate(89 205.4 34.7)"/><ellipse cx="216.8" cy="29.5" rx="0.8" ry="0.6" fill="#3a2890" transform="rotate(93 216.8 29.5)"/><ellipse cx="216.9" cy="31.4" rx="0.9" ry="0.7" fill="#4a34a0" transform="rotate(39 216.9 31.4)"/><ellipse cx="228.2" cy="28.9" rx="0.9" ry="0.8" fill="#3a2890" transform="rotate(11 228.2 28.9)"/><ellipse cx="209.2" cy="25.1" rx="1.0" ry="0.7" fill="#6a50b0" transform="rotate(39 209.2 25.1)"/><ellipse cx="223.7" cy="25.6" rx="0.8" ry="0.8" fill="#3a2890" transform="rotate(133 223.7 25.6)"/><ellipse cx="208.4" cy="36.6" rx="0.8" ry="0.7" fill="#6a50b0" transform="rotate(177 208.4 36.6)"/><ellipse cx="201.2" cy="35.5" rx="0.9" ry="0.7" fill="#3a2890" transform="rotate(38 201.2 35.5)"/><ellipse cx="197.1" cy="16.3" rx="0.8" ry="0.8" fill="#3a2890" transform="rotate(94 197.1 16.3)"/><ellipse cx="216.8" cy="41.9" rx="0.8" ry="0.8" fill="#4a34a0" transform="rotate(146 216.8 41.9)"/><ellipse cx="206.8" cy="33.9" rx="0.8" ry="0.8" fill="#6a50b0" transform="rotate(65 206.8 33.9)"/><ellipse cx="206.1" cy="43.2" rx="0.7" ry="0.8" fill="#4a34a0" transform="rotate(51 206.1 43.2)"/><ellipse cx="201.8" cy="47.9" rx="0.8" ry="0.8" fill="#4a34a0" transform="rotate(113 201.8 47.9)"/><ellipse cx="211.2" cy="12.9" rx="0.9" ry="0.9" fill="#6a50b0" transform="rotate(165 211.2 12.9)"/><ellipse cx="220.0" cy="21.1" rx="0.8" ry="0.9" fill="#4a34a0" transform="rotate(158 220.0 21.1)"/><ellipse cx="204.2" cy="48.4" rx="0.9" ry="0.7" fill="#3a2890" transform="rotate(52 204.2 48.4)"/><ellipse cx="209.5" cy="14.0" rx="0.9" ry="0.7" fill="#3a2890" transform="rotate(106 209.5 14.0)"/><ellipse cx="215.8" cy="45.7" rx="0.9" ry="0.6" fill="#3a2890" transform="rotate(144 215.8 45.7)"/><ellipse cx="214.5" cy="29.0" rx="1.0" ry="0.7" fill="#6a50b0" transform="rotate(45 214.5 29.0)"/><ellipse cx="230.8" cy="28.1" rx="0.8" ry="0.8" fill="#4a34a0" transform="rotate(171 230.8 28.1)"/><ellipse cx="205.8" cy="18.9" rx="0.9" ry="0.9" fill="#6a50b0" transform="rotate(141 205.8 18.9)"/><ellipse cx="209.5" cy="26.1" rx="0.8" ry="0.6" fill="#4a34a0" transform="rotate(146 209.5 26.1)"/><ellipse cx="228.0" cy="15.2" rx="0.7" ry="0.8" fill="#3a2890" transform="rotate(116 228.0 15.2)"/><ellipse cx="199.0" cy="37.3" rx="0.9" ry="0.7" fill="#4a34a0" transform="rotate(140 199.0 37.3)"/><ellipse cx="223.2" cy="27.3" rx="0.9" ry="0.9" fill="#4a34a0" transform="rotate(160 223.2 27.3)"/><ellipse cx="202.4" cy="24.1" rx="0.9" ry="0.6" fill="#3a2890" transform="rotate(70 202.4 24.1)"/><ellipse cx="216.7" cy="14.6" rx="0.8" ry="0.8" fill="#6a50b0" transform="rotate(142 216.7 14.6)"/><ellipse cx="211.9" cy="45.1" rx="0.9" ry="0.7" fill="#4a34a0" transform="rotate(97 211.9 45.1)"/></g>
<rect x="195.9" y="10.3" width="40.1" height="40.2" fill="none" stroke="#2e9e62" stroke-width="1.1"/></g>
<g><rect x="105.8" y="64.6" width="41.5" height="41.2" fill="#000"/>
<ellipse cx="137.9" cy="98.5" rx="0.68" ry="0.60" fill="#fff" transform="rotate(13 137.9 98.5)"/><ellipse cx="115.6" cy="90.9" rx="1.15" ry="0.83" fill="#fff" transform="rotate(149 115.6 90.9)"/><ellipse cx="113.1" cy="101.2" rx="0.74" ry="0.73" fill="#fff" transform="rotate(180 113.1 101.2)"/><ellipse cx="128.7" cy="68.5" rx="0.72" ry="0.77" fill="#fff" transform="rotate(104 128.7 68.5)"/><ellipse cx="143.5" cy="97.2" rx="0.52" ry="0.61" fill="#fff" transform="rotate(112 143.5 97.2)"/><ellipse cx="118.7" cy="93.0" rx="1.06" ry="0.80" fill="#fff" transform="rotate(116 118.7 93.0)"/><ellipse cx="123.0" cy="93.7" rx="0.64" ry="0.60" fill="#fff" transform="rotate(46 123.0 93.7)"/><ellipse cx="124.1" cy="90.4" rx="0.53" ry="0.93" fill="#fff" transform="rotate(18 124.1 90.4)"/><ellipse cx="138.3" cy="85.1" rx="0.51" ry="0.86" fill="#fff" transform="rotate(42 138.3 85.1)"/><ellipse cx="126.5" cy="91.7" rx="0.97" ry="0.65" fill="#fff" transform="rotate(54 126.5 91.7)"/><ellipse cx="127.8" cy="72.5" rx="1.04" ry="0.86" fill="#fff" transform="rotate(132 127.8 72.5)"/><ellipse cx="111.6" cy="70.1" rx="1.05" ry="0.98" fill="#fff" transform="rotate(106 111.6 70.1)"/><ellipse cx="116.2" cy="97.6" rx="0.99" ry="0.72" fill="#fff" transform="rotate(108 116.2 97.6)"/><ellipse cx="113.6" cy="68.7" rx="0.99" ry="0.52" fill="#fff" transform="rotate(114 113.6 68.7)"/><ellipse cx="118.8" cy="75.3" rx="0.91" ry="0.66" fill="#fff" transform="rotate(143 118.8 75.3)"/><ellipse cx="134.8" cy="78.1" rx="0.68" ry="0.77" fill="#fff" transform="rotate(54 134.8 78.1)"/><ellipse cx="113.5" cy="96.3" rx="1.19" ry="0.70" fill="#fff" transform="rotate(8 113.5 96.3)"/><ellipse cx="120.1" cy="72.4" rx="0.70" ry="0.83" fill="#fff" transform="rotate(177 120.1 72.4)"/><ellipse cx="111.3" cy="83.9" rx="1.01" ry="0.71" fill="#fff" transform="rotate(173 111.3 83.9)"/><ellipse cx="122.9" cy="68.0" rx="0.75" ry="0.83" fill="#fff" transform="rotate(53 122.9 68.0)"/><ellipse cx="145.2" cy="101.5" rx="0.87" ry="0.65" fill="#fff" transform="rotate(89 145.2 101.5)"/><ellipse cx="108.5" cy="95.7" rx="1.12" ry="0.96" fill="#fff" transform="rotate(51 108.5 95.7)"/><ellipse cx="126.0" cy="98.7" rx="0.92" ry="0.77" fill="#fff" transform="rotate(22 126.0 98.7)"/><ellipse cx="115.3" cy="84.1" rx="1.04" ry="0.88" fill="#fff" transform="rotate(58 115.3 84.1)"/><ellipse cx="129.5" cy="77.8" rx="0.91" ry="0.55" fill="#fff" transform="rotate(0 129.5 77.8)"/><ellipse cx="120.7" cy="101.7" rx="0.96" ry="0.53" fill="#fff" transform="rotate(85 120.7 101.7)"/><ellipse cx="120.9" cy="84.5" rx="0.73" ry="0.68" fill="#fff" transform="rotate(28 120.9 84.5)"/><ellipse cx="137.3" cy="77.7" rx="0.55" ry="0.78" fill="#fff" transform="rotate(24 137.3 77.7)"/><ellipse cx="135.8" cy="70.8" rx="0.61" ry="0.70" fill="#fff" transform="rotate(9 135.8 70.8)"/><ellipse cx="109.1" cy="85.7" rx="0.57" ry="0.82" fill="#fff" transform="rotate(33 109.1 85.7)"/><ellipse cx="123.4" cy="97.7" rx="0.55" ry="0.86" fill="#fff" transform="rotate(41 123.4 97.7)"/><ellipse cx="121.3" cy="91.3" rx="0.56" ry="0.50" fill="#fff" transform="rotate(165 121.3 91.3)"/><ellipse cx="140.6" cy="84.5" rx="0.60" ry="0.55" fill="#fff" transform="rotate(61 140.6 84.5)"/><ellipse cx="112.2" cy="85.1" rx="0.88" ry="0.56" fill="#fff" transform="rotate(119 112.2 85.1)"/><ellipse cx="117.0" cy="87.7" rx="0.53" ry="0.63" fill="#fff" transform="rotate(50 117.0 87.7)"/><ellipse cx="118.4" cy="87.3" rx="1.19" ry="0.95" fill="#fff" transform="rotate(136 118.4 87.3)"/><ellipse cx="126.6" cy="99.7" rx="0.51" ry="0.97" fill="#fff" transform="rotate(125 126.6 99.7)"/><ellipse cx="137.5" cy="92.7" rx="0.65" ry="0.87" fill="#fff" transform="rotate(22 137.5 92.7)"/><ellipse cx="135.9" cy="72.3" rx="0.68" ry="0.52" fill="#fff" transform="rotate(100 135.9 72.3)"/><ellipse cx="131.2" cy="70.7" rx="0.90" ry="0.56" fill="#fff" transform="rotate(169 131.2 70.7)"/><ellipse cx="129.5" cy="75.3" rx="0.92" ry="0.89" fill="#fff" transform="rotate(15 129.5 75.3)"/><ellipse cx="138.6" cy="69.3" rx="0.74" ry="0.55" fill="#fff" transform="rotate(55 138.6 69.3)"/><ellipse cx="131.0" cy="92.3" rx="1.07" ry="0.67" fill="#fff" transform="rotate(118 131.0 92.3)"/><ellipse cx="130.0" cy="73.4" rx="0.72" ry="0.97" fill="#fff" transform="rotate(104 130.0 73.4)"/><ellipse cx="109.0" cy="95.9" rx="0.60" ry="0.76" fill="#fff" transform="rotate(42 109.0 95.9)"/><ellipse cx="113.5" cy="79.4" rx="0.60" ry="0.60" fill="#fff" transform="rotate(56 113.5 79.4)"/><ellipse cx="133.5" cy="93.0" rx="0.55" ry="0.50" fill="#fff" transform="rotate(122 133.5 93.0)"/><ellipse cx="109.2" cy="86.2" rx="0.73" ry="0.53" fill="#fff" transform="rotate(154 109.2 86.2)"/><ellipse cx="131.7" cy="74.0" rx="0.94" ry="0.92" fill="#fff" transform="rotate(105 131.7 74.0)"/><ellipse cx="111.3" cy="93.3" rx="0.74" ry="0.58" fill="#fff" transform="rotate(126 111.3 93.3)"/><ellipse cx="133.0" cy="94.3" rx="0.59" ry="0.91" fill="#fff" transform="rotate(77 133.0 94.3)"/><ellipse cx="141.7" cy="94.3" rx="1.08" ry="0.90" fill="#fff" transform="rotate(151 141.7 94.3)"/><ellipse cx="114.0" cy="81.0" rx="0.95" ry="0.97" fill="#fff" transform="rotate(131 114.0 81.0)"/><ellipse cx="119.0" cy="102.3" rx="0.87" ry="0.97" fill="#fff" transform="rotate(29 119.0 102.3)"/><ellipse cx="110.4" cy="95.7" rx="1.06" ry="0.88" fill="#fff" transform="rotate(59 110.4 95.7)"/><ellipse cx="116.8" cy="88.5" rx="0.89" ry="0.94" fill="#fff" transform="rotate(147 116.8 88.5)"/><ellipse cx="141.9" cy="92.1" rx="1.00" ry="0.70" fill="#fff" transform="rotate(101 141.9 92.1)"/><ellipse cx="137.6" cy="92.0" rx="1.16" ry="0.91" fill="#fff" transform="rotate(103 137.6 92.0)"/>
<rect x="106.3" y="65.1" width="40.5" height="40.2" fill="none" stroke="#e02626" stroke-width="1.1"/></g>
<g><rect x="150.4" y="64.6" width="41.7" height="41.2" fill="#000"/>
<ellipse cx="188.1" cy="75.1" rx="1.24" ry="0.88" fill="#fff" transform="rotate(169 188.1 75.1)"/><ellipse cx="174.8" cy="97.7" rx="1.37" ry="0.40" fill="#fff" transform="rotate(125 174.8 97.7)"/><ellipse cx="175.2" cy="102.0" rx="1.47" ry="0.69" fill="#fff" transform="rotate(105 175.2 102.0)"/><ellipse cx="175.2" cy="83.6" rx="0.87" ry="0.53" fill="#fff" transform="rotate(90 175.2 83.6)"/><ellipse cx="167.2" cy="83.9" rx="0.54" ry="0.60" fill="#fff" transform="rotate(69 167.2 83.9)"/><ellipse cx="159.5" cy="99.7" rx="0.95" ry="0.72" fill="#fff" transform="rotate(61 159.5 99.7)"/><ellipse cx="157.0" cy="92.0" rx="0.55" ry="0.89" fill="#fff" transform="rotate(47 157.0 92.0)"/><ellipse cx="167.1" cy="79.0" rx="0.67" ry="0.50" fill="#fff" transform="rotate(89 167.1 79.0)"/><ellipse cx="185.9" cy="89.3" rx="1.48" ry="0.64" fill="#fff" transform="rotate(127 185.9 89.3)"/><ellipse cx="164.4" cy="99.2" rx="1.37" ry="0.76" fill="#fff" transform="rotate(41 164.4 99.2)"/><ellipse cx="167.1" cy="66.9" rx="1.44" ry="0.46" fill="#fff" transform="rotate(62 167.1 66.9)"/><ellipse cx="169.5" cy="96.7" rx="0.78" ry="0.61" fill="#fff" transform="rotate(25 169.5 96.7)"/><ellipse cx="189.5" cy="93.9" rx="1.33" ry="0.80" fill="#fff" transform="rotate(34 189.5 93.9)"/><ellipse cx="187.4" cy="99.8" rx="1.23" ry="0.45" fill="#fff" transform="rotate(159 187.4 99.8)"/><ellipse cx="164.9" cy="76.5" rx="0.83" ry="0.58" fill="#fff" transform="rotate(161 164.9 76.5)"/><ellipse cx="178.3" cy="101.5" rx="1.39" ry="0.44" fill="#fff" transform="rotate(167 178.3 101.5)"/><ellipse cx="171.2" cy="80.1" rx="1.57" ry="0.43" fill="#fff" transform="rotate(174 171.2 80.1)"/><ellipse cx="156.9" cy="80.6" rx="0.84" ry="0.71" fill="#fff" transform="rotate(38 156.9 80.6)"/><ellipse cx="179.9" cy="94.5" rx="0.54" ry="0.60" fill="#fff" transform="rotate(35 179.9 94.5)"/><ellipse cx="152.7" cy="101.4" rx="0.80" ry="0.51" fill="#fff" transform="rotate(147 152.7 101.4)"/><ellipse cx="171.6" cy="103.7" rx="0.69" ry="0.75" fill="#fff" transform="rotate(71 171.6 103.7)"/><ellipse cx="176.0" cy="75.6" rx="1.35" ry="0.42" fill="#fff" transform="rotate(140 176.0 75.6)"/><ellipse cx="189.3" cy="90.7" rx="1.39" ry="0.81" fill="#fff" transform="rotate(97 189.3 90.7)"/><ellipse cx="171.0" cy="102.9" rx="0.90" ry="0.94" fill="#fff" transform="rotate(82 171.0 102.9)"/><ellipse cx="158.5" cy="88.0" rx="1.41" ry="0.88" fill="#fff" transform="rotate(88 158.5 88.0)"/><ellipse cx="186.1" cy="74.1" rx="1.39" ry="0.44" fill="#fff" transform="rotate(78 186.1 74.1)"/><ellipse cx="180.2" cy="72.9" rx="0.84" ry="0.43" fill="#fff" transform="rotate(76 180.2 72.9)"/><ellipse cx="189.0" cy="95.5" rx="0.90" ry="0.82" fill="#fff" transform="rotate(69 189.0 95.5)"/><ellipse cx="164.1" cy="101.7" rx="0.72" ry="0.59" fill="#fff" transform="rotate(112 164.1 101.7)"/><ellipse cx="167.6" cy="92.0" rx="0.90" ry="0.59" fill="#fff" transform="rotate(120 167.6 92.0)"/><ellipse cx="162.5" cy="74.2" rx="1.50" ry="0.67" fill="#fff" transform="rotate(104 162.5 74.2)"/><ellipse cx="176.4" cy="95.6" rx="0.85" ry="0.49" fill="#fff" transform="rotate(137 176.4 95.6)"/><ellipse cx="170.1" cy="87.4" rx="1.24" ry="0.85" fill="#fff" transform="rotate(70 170.1 87.4)"/><ellipse cx="167.2" cy="93.3" rx="0.94" ry="0.89" fill="#fff" transform="rotate(161 167.2 93.3)"/><ellipse cx="157.0" cy="83.3" rx="0.51" ry="0.72" fill="#fff" transform="rotate(178 157.0 83.3)"/><ellipse cx="173.8" cy="79.8" rx="1.53" ry="0.56" fill="#fff" transform="rotate(62 173.8 79.8)"/><ellipse cx="185.8" cy="99.2" rx="0.61" ry="0.76" fill="#fff" transform="rotate(105 185.8 99.2)"/><ellipse cx="183.9" cy="93.1" rx="1.52" ry="0.50" fill="#fff" transform="rotate(45 183.9 93.1)"/><ellipse cx="188.9" cy="90.2" rx="1.26" ry="0.86" fill="#fff" transform="rotate(100 188.9 90.2)"/><ellipse cx="184.1" cy="96.0" rx="1.42" ry="0.64" fill="#fff" transform="rotate(127 184.1 96.0)"/><ellipse cx="182.8" cy="79.6" rx="0.70" ry="0.92" fill="#fff" transform="rotate(136 182.8 79.6)"/><ellipse cx="180.1" cy="82.0" rx="1.52" ry="0.57" fill="#fff" transform="rotate(54 180.1 82.0)"/><ellipse cx="165.2" cy="69.1" rx="0.95" ry="0.70" fill="#fff" transform="rotate(146 165.2 69.1)"/><ellipse cx="177.6" cy="88.1" rx="0.94" ry="0.74" fill="#fff" transform="rotate(70 177.6 88.1)"/><ellipse cx="182.0" cy="91.9" rx="1.44" ry="0.48" fill="#fff" transform="rotate(56 182.0 91.9)"/><ellipse cx="177.7" cy="94.7" rx="1.05" ry="0.94" fill="#fff" transform="rotate(8 177.7 94.7)"/><ellipse cx="180.4" cy="97.1" rx="1.21" ry="0.93" fill="#fff" transform="rotate(33 180.4 97.1)"/><ellipse cx="176.8" cy="99.2" rx="0.92" ry="0.94" fill="#fff" transform="rotate(17 176.8 99.2)"/><ellipse cx="181.5" cy="89.1" rx="1.06" ry="0.76" fill="#fff" transform="rotate(57 181.5 89.1)"/><ellipse cx="164.1" cy="80.0" rx="1.13" ry="0.93" fill="#fff" transform="rotate(20 164.1 80.0)"/><ellipse cx="166.0" cy="92.6" rx="0.58" ry="0.90" fill="#fff" transform="rotate(83 166.0 92.6)"/><ellipse cx="160.6" cy="83.6" rx="1.34" ry="0.67" fill="#fff" transform="rotate(128 160.6 83.6)"/><ellipse cx="154.6" cy="83.2" rx="1.11" ry="0.88" fill="#fff" transform="rotate(10 154.6 83.2)"/><ellipse cx="172.7" cy="84.0" rx="1.03" ry="0.58" fill="#fff" transform="rotate(87 172.7 84.0)"/><ellipse cx="188.8" cy="86.3" rx="0.75" ry="0.73" fill="#fff" transform="rotate(53 188.8 86.3)"/><ellipse cx="163.0" cy="102.8" rx="1.14" ry="0.83" fill="#fff" transform="rotate(57 163.0 102.8)"/><ellipse cx="181.7" cy="67.7" rx="1.06" ry="0.65" fill="#fff" transform="rotate(16 181.7 67.7)"/><ellipse cx="188.4" cy="76.8" rx="0.60" ry="0.47" fill="#fff" transform="rotate(99 188.4 76.8)"/><ellipse cx="171.7" cy="88.5" rx="0.75" ry="0.92" fill="#fff" transform="rotate(14 171.7 88.5)"/><ellipse cx="182.7" cy="102.4" rx="0.86" ry="0.99" fill="#fff" transform="rotate(18 182.7 102.4)"/><ellipse cx="176.6" cy="88.0" rx="0.97" ry="0.98" fill="#fff" transform="rotate(158 176.6 88.0)"/><ellipse cx="169.5" cy="79.3" rx="0.71" ry="0.64" fill="#fff" transform="rotate(72 169.5 79.3)"/><ellipse cx="181.0" cy="69.4" rx="1.49" ry="0.41" fill="#fff" transform="rotate(50 181.0 69.4)"/><ellipse cx="182.2" cy="94.2" rx="1.35" ry="0.52" fill="#fff" transform="rotate(179 182.2 94.2)"/><ellipse cx="184.0" cy="77.6" rx="1.36" ry="0.41" fill="#fff" transform="rotate(156 184.0 77.6)"/><ellipse cx="179.5" cy="68.9" rx="0.73" ry="0.41" fill="#fff" transform="rotate(164 179.5 68.9)"/><ellipse cx="179.6" cy="90.0" rx="0.79" ry="0.61" fill="#fff" transform="rotate(41 179.6 90.0)"/><ellipse cx="173.7" cy="78.3" rx="0.89" ry="0.46" fill="#fff" transform="rotate(44 173.7 78.3)"/><ellipse cx="178.5" cy="82.3" rx="0.53" ry="0.83" fill="#fff" transform="rotate(26 178.5 82.3)"/><ellipse cx="165.3" cy="98.5" rx="0.90" ry="0.93" fill="#fff" transform="rotate(124 165.3 98.5)"/><ellipse cx="189.7" cy="100.5" rx="1.37" ry="0.69" fill="#fff" transform="rotate(32 189.7 100.5)"/><ellipse cx="184.4" cy="86.3" rx="0.78" ry="0.63" fill="#fff" transform="rotate(90 184.4 86.3)"/><ellipse cx="161.9" cy="67.4" rx="1.50" ry="0.83" fill="#fff" transform="rotate(132 161.9 67.4)"/><ellipse cx="168.9" cy="93.8" rx="0.92" ry="0.89" fill="#fff" transform="rotate(111 168.9 93.8)"/><ellipse cx="157.4" cy="67.1" rx="0.74" ry="0.75" fill="#fff" transform="rotate(97 157.4 67.1)"/><ellipse cx="153.4" cy="96.9" rx="1.57" ry="0.45" fill="#fff" transform="rotate(11 153.4 96.9)"/><ellipse cx="160.1" cy="87.9" rx="1.51" ry="0.92" fill="#fff" transform="rotate(86 160.1 87.9)"/><ellipse cx="175.9" cy="99.5" rx="1.03" ry="0.78" fill="#fff" transform="rotate(52 175.9 99.5)"/><ellipse cx="152.7" cy="74.2" rx="0.89" ry="0.93" fill="#fff" transform="rotate(25 152.7 74.2)"/><ellipse cx="174.7" cy="71.3" rx="0.72" ry="0.67" fill="#fff" transform="rotate(149 174.7 71.3)"/><ellipse cx="187.1" cy="92.1" rx="1.51" ry="0.86" fill="#fff" transform="rotate(145 187.1 92.1)"/><ellipse cx="179.7" cy="68.6" rx="1.02" ry="0.64" fill="#fff" transform="rotate(172 179.7 68.6)"/><ellipse cx="184.9" cy="103.4" rx="1.29" ry="0.68" fill="#fff" transform="rotate(120 184.9 103.4)"/><ellipse cx="175.2" cy="71.0" rx="1.05" ry="0.63" fill="#fff" transform="rotate(179 175.2 71.0)"/><ellipse cx="161.4" cy="103.3" rx="0.75" ry="0.64" fill="#fff" transform="rotate(57 161.4 103.3)"/><ellipse cx="176.3" cy="94.2" rx="0.54" ry="0.46" fill="#fff" transform="rotate(51 176.3 94.2)"/><ellipse cx="182.7" cy="68.0" rx="0.55" ry="0.54" fill="#fff" transform="rotate(56 182.7 68.0)"/><ellipse cx="181.6" cy="68.2" rx="1.11" ry="0.75" fill="#fff" transform="rotate(105 181.6 68.2)"/><ellipse cx="162.3" cy="72.3" rx="0.52" ry="0.85" fill="#fff" transform="rotate(26 162.3 72.3)"/><ellipse cx="181.0" cy="99.4" rx="0.61" ry="0.49" fill="#fff" transform="rotate(135 181.0 99.4)"/><ellipse cx="158.5" cy="85.7" rx="0.62" ry="0.87" fill="#fff" transform="rotate(97 158.5 85.7)"/><ellipse cx="186.9" cy="66.7" rx="1.44" ry="0.73" fill="#fff" transform="rotate(21 186.9 66.7)"/><ellipse cx="171.3" cy="89.7" rx="1.15" ry="0.88" fill="#fff" transform="rotate(19 171.3 89.7)"/><ellipse cx="179.0" cy="91.2" rx="1.18" ry="0.67" fill="#fff" transform="rotate(171 179.0 91.2)"/><ellipse cx="152.7" cy="94.3" rx="0.53" ry="0.90" fill="#fff" transform="rotate(117 152.7 94.3)"/><ellipse cx="160.3" cy="92.9" rx="1.31" ry="0.80" fill="#fff" transform="rotate(28 160.3 92.9)"/><ellipse cx="175.5" cy="69.8" rx="1.07" ry="0.81" fill="#fff" transform="rotate(22 175.5 69.8)"/><ellipse cx="179.9" cy="98.2" rx="1.43" ry="0.46" fill="#fff" transform="rotate(94 179.9 98.2)"/><ellipse cx="162.7" cy="78.1" rx="0.83" ry="0.70" fill="#fff" transform="rotate(147 162.7 78.1)"/><ellipse cx="189.3" cy="95.2" rx="0.51" ry="0.44" fill="#fff" transform="rotate(29 189.3 95.2)"/><ellipse cx="178.1" cy="95.1" rx="0.74" ry="0.63" fill="#fff" transform="rotate(104 178.1 95.1)"/><ellipse cx="187.2" cy="88.0" rx="0.73" ry="0.86" fill="#fff" transform="rotate(20 187.2 88.0)"/><ellipse cx="186.8" cy="97.7" rx="1.29" ry="0.42" fill="#fff" transform="rotate(174 186.8 97.7)"/><ellipse cx="157.5" cy="100.5" rx="1.38" ry="0.43" fill="#fff" transform="rotate(158 157.5 100.5)"/><ellipse cx="187.9" cy="83.0" rx="1.28" ry="0.55" fill="#fff" transform="rotate(76 187.9 83.0)"/><ellipse cx="184.3" cy="67.7" rx="0.92" ry="0.50" fill="#fff" transform="rotate(41 184.3 67.7)"/><ellipse cx="189.4" cy="90.9" rx="1.53" ry="0.86" fill="#fff" transform="rotate(83 189.4 90.9)"/><ellipse cx="162.7" cy="75.9" rx="0.95" ry="0.41" fill="#fff" transform="rotate(59 162.7 75.9)"/><ellipse cx="172.9" cy="79.9" rx="1.40" ry="0.40" fill="#fff" transform="rotate(61 172.9 79.9)"/><ellipse cx="185.9" cy="96.2" rx="1.09" ry="0.46" fill="#fff" transform="rotate(80 185.9 96.2)"/><ellipse cx="168.4" cy="79.1" rx="0.57" ry="0.47" fill="#fff" transform="rotate(117 168.4 79.1)"/><ellipse cx="158.5" cy="86.4" rx="1.21" ry="0.72" fill="#fff" transform="rotate(104 158.5 86.4)"/><ellipse cx="187.5" cy="85.9" rx="1.35" ry="0.78" fill="#fff" transform="rotate(165 187.5 85.9)"/><ellipse cx="160.4" cy="77.3" rx="1.50" ry="0.41" fill="#fff" transform="rotate(66 160.4 77.3)"/><ellipse cx="168.7" cy="71.0" rx="1.54" ry="0.77" fill="#fff" transform="rotate(157 168.7 71.0)"/><ellipse cx="178.3" cy="92.3" rx="1.32" ry="0.85" fill="#fff" transform="rotate(63 178.3 92.3)"/><ellipse cx="165.3" cy="102.3" rx="0.60" ry="0.92" fill="#fff" transform="rotate(164 165.3 102.3)"/><ellipse cx="162.2" cy="102.5" rx="1.21" ry="0.75" fill="#fff" transform="rotate(167 162.2 102.5)"/><ellipse cx="155.0" cy="69.1" rx="0.93" ry="0.45" fill="#fff" transform="rotate(17 155.0 69.1)"/><ellipse cx="172.6" cy="69.3" rx="0.58" ry="0.73" fill="#fff" transform="rotate(126 172.6 69.3)"/><ellipse cx="176.8" cy="85.6" rx="1.47" ry="0.95" fill="#fff" transform="rotate(115 176.8 85.6)"/><ellipse cx="159.1" cy="70.3" rx="0.83" ry="0.65" fill="#fff" transform="rotate(176 159.1 70.3)"/><ellipse cx="158.9" cy="103.4" rx="1.47" ry="0.92" fill="#fff" transform="rotate(117 158.9 103.4)"/><ellipse cx="165.3" cy="97.6" rx="0.53" ry="0.90" fill="#fff" transform="rotate(57 165.3 97.6)"/><ellipse cx="156.4" cy="74.4" rx="0.89" ry="0.60" fill="#fff" transform="rotate(159 156.4 74.4)"/><ellipse cx="152.8" cy="73.7" rx="1.50" ry="0.49" fill="#fff" transform="rotate(168 152.8 73.7)"/><ellipse cx="177.3" cy="78.2" rx="0.79" ry="0.43" fill="#fff" transform="rotate(123 177.3 78.2)"/><ellipse cx="156.1" cy="103.2" rx="0.92" ry="0.79" fill="#fff" transform="rotate(145 156.1 103.2)"/><ellipse cx="174.4" cy="68.9" rx="0.83" ry="0.56" fill="#fff" transform="rotate(33 174.4 68.9)"/><ellipse cx="187.7" cy="79.8" rx="1.10" ry="0.51" fill="#fff" transform="rotate(94 187.7 79.8)"/><ellipse cx="182.1" cy="76.0" rx="0.90" ry="0.71" fill="#fff" transform="rotate(28 182.1 76.0)"/><ellipse cx="185.3" cy="100.4" rx="0.68" ry="0.86" fill="#fff" transform="rotate(7 185.3 100.4)"/><ellipse cx="160.8" cy="73.8" rx="0.74" ry="0.63" fill="#fff" transform="rotate(93 160.8 73.8)"/><ellipse cx="161.5" cy="99.8" rx="0.79" ry="0.40" fill="#fff" transform="rotate(25 161.5 99.8)"/><ellipse cx="177.4" cy="97.7" rx="0.76" ry="0.42" fill="#fff" transform="rotate(112 177.4 97.7)"/><ellipse cx="170.8" cy="70.7" rx="1.11" ry="0.70" fill="#fff" transform="rotate(103 170.8 70.7)"/><ellipse cx="156.8" cy="84.4" rx="0.69" ry="0.54" fill="#fff" transform="rotate(112 156.8 84.4)"/><ellipse cx="154.7" cy="73.7" rx="0.79" ry="0.67" fill="#fff" transform="rotate(61 154.7 73.7)"/><ellipse cx="187.7" cy="87.2" rx="0.58" ry="0.53" fill="#fff" transform="rotate(55 187.7 87.2)"/><ellipse cx="173.6" cy="99.0" rx="1.56" ry="0.91" fill="#fff" transform="rotate(28 173.6 99.0)"/><ellipse cx="154.7" cy="82.7" rx="0.56" ry="0.71" fill="#fff" transform="rotate(130 154.7 82.7)"/><ellipse cx="185.0" cy="74.5" rx="0.59" ry="0.56" fill="#fff" transform="rotate(117 185.0 74.5)"/><ellipse cx="182.0" cy="71.5" rx="1.39" ry="0.78" fill="#fff" transform="rotate(25 182.0 71.5)"/><ellipse cx="160.1" cy="91.3" rx="0.90" ry="0.47" fill="#fff" transform="rotate(121 160.1 91.3)"/><ellipse cx="170.6" cy="73.3" rx="0.51" ry="0.79" fill="#fff" transform="rotate(131 170.6 73.3)"/><ellipse cx="186.4" cy="90.5" rx="1.26" ry="0.42" fill="#fff" transform="rotate(165 186.4 90.5)"/><ellipse cx="161.2" cy="85.2" rx="1.17" ry="0.79" fill="#fff" transform="rotate(37 161.2 85.2)"/><ellipse cx="167.0" cy="99.6" rx="0.85" ry="0.43" fill="#fff" transform="rotate(94 167.0 99.6)"/><ellipse cx="177.1" cy="90.8" rx="1.27" ry="0.41" fill="#fff" transform="rotate(117 177.1 90.8)"/><ellipse cx="186.4" cy="69.6" rx="0.74" ry="0.42" fill="#fff" transform="rotate(112 186.4 69.6)"/><ellipse cx="189.2" cy="97.8" rx="0.83" ry="0.59" fill="#fff" transform="rotate(51 189.2 97.8)"/><ellipse cx="187.8" cy="81.6" rx="1.25" ry="0.41" fill="#fff" transform="rotate(123 187.8 81.6)"/><ellipse cx="161.2" cy="84.3" rx="1.06" ry="0.97" fill="#fff" transform="rotate(125 161.2 84.3)"/><ellipse cx="177.8" cy="74.5" rx="1.50" ry="0.52" fill="#fff" transform="rotate(120 177.8 74.5)"/><ellipse cx="160.0" cy="103.8" rx="1.00" ry="0.54" fill="#fff" transform="rotate(82 160.0 103.8)"/><ellipse cx="153.6" cy="73.2" rx="0.95" ry="0.83" fill="#fff" transform="rotate(145 153.6 73.2)"/><ellipse cx="166.5" cy="72.6" rx="1.41" ry="0.40" fill="#fff" transform="rotate(155 166.5 72.6)"/><ellipse cx="183.0" cy="89.2" rx="1.02" ry="0.73" fill="#fff" transform="rotate(98 183.0 89.2)"/><ellipse cx="157.6" cy="75.5" rx="0.63" ry="0.98" fill="#fff" transform="rotate(38 157.6 75.5)"/><ellipse cx="186.7" cy="103.7" rx="0.65" ry="0.59" fill="#fff" transform="rotate(14 186.7 103.7)"/><ellipse cx="158.7" cy="82.3" rx="0.59" ry="0.89" fill="#fff" transform="rotate(104 158.7 82.3)"/><ellipse cx="161.9" cy="87.8" rx="0.75" ry="0.49" fill="#fff" transform="rotate(68 161.9 87.8)"/><ellipse cx="188.9" cy="93.1" rx="0.60" ry="0.66" fill="#fff" transform="rotate(26 188.9 93.1)"/><ellipse cx="188.9" cy="100.2" rx="0.58" ry="0.85" fill="#fff" transform="rotate(44 188.9 100.2)"/><ellipse cx="185.2" cy="82.2" rx="1.08" ry="0.91" fill="#fff" transform="rotate(169 185.2 82.2)"/><ellipse cx="177.0" cy="85.7" rx="0.63" ry="0.55" fill="#fff" transform="rotate(168 177.0 85.7)"/><ellipse cx="172.4" cy="91.9" rx="0.91" ry="0.71" fill="#fff" transform="rotate(142 172.4 91.9)"/><ellipse cx="159.7" cy="69.4" rx="1.49" ry="0.74" fill="#fff" transform="rotate(46 159.7 69.4)"/><ellipse cx="184.8" cy="102.2" rx="1.21" ry="0.65" fill="#fff" transform="rotate(134 184.8 102.2)"/><ellipse cx="162.1" cy="97.2" rx="1.27" ry="0.43" fill="#fff" transform="rotate(174 162.1 97.2)"/><ellipse cx="170.2" cy="91.6" rx="1.38" ry="0.41" fill="#fff" transform="rotate(121 170.2 91.6)"/><ellipse cx="165.2" cy="94.9" rx="1.55" ry="0.93" fill="#fff" transform="rotate(119 165.2 94.9)"/><ellipse cx="188.5" cy="95.8" rx="0.76" ry="0.66" fill="#fff" transform="rotate(53 188.5 95.8)"/><ellipse cx="172.9" cy="81.5" rx="0.65" ry="0.85" fill="#fff" transform="rotate(94 172.9 81.5)"/><ellipse cx="180.1" cy="80.0" rx="1.23" ry="0.86" fill="#fff" transform="rotate(32 180.1 80.0)"/><ellipse cx="190.0" cy="90.4" rx="1.47" ry="0.47" fill="#fff" transform="rotate(130 190.0 90.4)"/><ellipse cx="157.5" cy="81.7" rx="0.96" ry="0.45" fill="#fff" transform="rotate(149 157.5 81.7)"/><ellipse cx="169.5" cy="79.0" rx="1.10" ry="0.61" fill="#fff" transform="rotate(111 169.5 79.0)"/><ellipse cx="164.3" cy="96.8" rx="1.26" ry="0.81" fill="#fff" transform="rotate(41 164.3 96.8)"/><ellipse cx="167.3" cy="71.0" rx="1.19" ry="0.58" fill="#fff" transform="rotate(140 167.3 71.0)"/>
<rect x="150.9" y="65.1" width="40.7" height="40.2" fill="none" stroke="#2ea2e6" stroke-width="1.1"/></g>
<g><rect x="195.4" y="64.6" width="41.1" height="41.2" fill="#000"/>
<ellipse cx="221.2" cy="90.2" rx="0.51" ry="0.51" fill="#fff" transform="rotate(50 221.2 90.2)"/><ellipse cx="211.1" cy="98.2" rx="0.49" ry="0.49" fill="#fff" transform="rotate(41 211.1 98.2)"/><ellipse cx="227.9" cy="89.0" rx="0.55" ry="0.55" fill="#fff" transform="rotate(150 227.9 89.0)"/><ellipse cx="199.1" cy="100.0" rx="0.48" ry="0.48" fill="#fff" transform="rotate(105 199.1 100.0)"/><ellipse cx="224.3" cy="76.7" rx="0.32" ry="0.32" fill="#fff" transform="rotate(1 224.3 76.7)"/><ellipse cx="228.5" cy="69.8" rx="0.37" ry="0.37" fill="#fff" transform="rotate(44 228.5 69.8)"/><ellipse cx="205.9" cy="76.5" rx="0.51" ry="0.51" fill="#fff" transform="rotate(60 205.9 76.5)"/><ellipse cx="198.1" cy="70.8" rx="0.58" ry="0.58" fill="#fff" transform="rotate(50 198.1 70.8)"/><ellipse cx="202.9" cy="79.1" rx="0.46" ry="0.46" fill="#fff" transform="rotate(81 202.9 79.1)"/>
<rect x="195.9" y="65.1" width="40.1" height="40.2" fill="none" stroke="#2e9e62" stroke-width="1.1"/></g>
<rect x="106.3" y="119.5" width="40.5" height="38.9" fill="#92d050" stroke="#e02626" stroke-width="1.1"/>
<rect x="150.9" y="119.5" width="40.7" height="38.9" fill="#c00808" stroke="#2ea2e6" stroke-width="1.1"/>
<rect x="195.9" y="119.5" width="40.1" height="38.9" fill="#0a22f6" stroke="#2e9e62" stroke-width="1.1"/>
<path d="M129.00,53.00L129.00,58.40L130.90,58.40L127.20,62.60L123.50,58.40L125.40,58.40L125.40,53.00Z" fill="#fff" stroke="#222" stroke-width="1" stroke-linejoin="miter"/>
<path d="M129.00,107.80L129.00,113.20L130.90,113.20L127.20,117.40L123.50,113.20L125.40,113.20L125.40,107.80Z" fill="#fff" stroke="#222" stroke-width="1" stroke-linejoin="miter"/>
<path d="M173.00,53.00L173.00,58.40L174.90,58.40L171.20,62.60L167.50,58.40L169.40,58.40L169.40,53.00Z" fill="#fff" stroke="#222" stroke-width="1" stroke-linejoin="miter"/>
<path d="M173.00,107.80L173.00,113.20L174.90,113.20L171.20,117.40L167.50,113.20L169.40,113.20L169.40,107.80Z" fill="#fff" stroke="#222" stroke-width="1" stroke-linejoin="miter"/>
<path d="M216.20,53.00L216.20,58.40L218.10,58.40L214.40,62.60L210.70,58.40L212.60,58.40L212.60,53.00Z" fill="#fff" stroke="#222" stroke-width="1" stroke-linejoin="miter"/>
<path d="M216.20,107.80L216.20,113.20L218.10,113.20L214.40,117.40L210.70,113.20L212.60,113.20L212.60,107.80Z" fill="#fff" stroke="#222" stroke-width="1" stroke-linejoin="miter"/>
<rect x="110.3" y="166.3" width="119.4" height="4.3" fill="url(#jet)" stroke="#111" stroke-width="0.7"/>
<path d="M140.2,166.3v4.3" stroke="#111" stroke-width="0.8"/><path d="M170.0,166.3v4.3" stroke="#111" stroke-width="0.8"/><path d="M199.9,166.3v4.3" stroke="#111" stroke-width="0.8"/>
<text class="t m" x="109.6" y="177.1">0</text><text class="t m" x="141.6" y="177.1">10</text><text class="t m" x="171" y="177.1">20</text><text class="t m" x="201.3" y="177.1">30</text><text class="t" x="223" y="177.1">40 (%)</text>
<use href="#cm" x="19.6" y="106.1" width="64.1" height="59"/>
<g fill="none" stroke-width="0.5" opacity="0.85"><rect x="52.6" y="121.6" width="2" height="2" stroke="#e8e8ff"/><rect x="39" y="130.1" width="2" height="2" stroke="#ffe8e8"/><rect x="29.2" y="138.9" width="2" height="2" stroke="#ffd0d0"/></g>
<text class="t m" x="52.8" y="174.2">Quantitative cellularity map</text>
<text class="L" x="0.6" y="199.3">B</text>
<text class="t m" x="35.2" y="205.4">H&amp;E cellularity</text>
<text class="t m" x="103.8" y="205.4">H&amp;E</text>
<text class="t m" x="153" y="205.4">DWI</text>
<text class="t m" x="222" y="205.4">Restricted fraction</text>
<rect x="13.2" y="208.4" width="44.9" height="45.1" fill="#000"/><use href="#cm" x="14.2" y="211.4" width="43" height="41.6"/>
<use href="#he2" x="82.3" y="208.6" width="44" height="44.6"/>
<rect x="82.5" y="209.3" width="43.5" height="43.9" fill="none" stroke="#111" stroke-width="1.1"/>
<use href="#dwi" x="132" y="208.8" width="44.9" height="44.9"/>
<use href="#rf" x="199.2" y="208.8" width="44.5" height="44.9"/>
<rect x="199.5" y="209.1" width="43.9" height="44.3" fill="none" stroke="#000" stroke-width="0.6"/>
<path class="ln" d="M79.5,231.2H60.8" marker-end="url(#ah)"/>
<path class="ln" d="M179,231.2H197.6" marker-end="url(#ah)"/>
<text class="t m" x="69.3" y="262.3">Cellularity</text><text class="t m" x="69.3" y="269.3">quantification</text>
<text class="t m" x="190.2" y="262.3">DBSI</text><text class="t m" x="190.2" y="269.3">analysis</text>
<path class="ln" d="M104,253.6V263.5H152.7V253.6"/>
<path class="ln" d="M125.8,263.5V273.2" marker-end="url(#ah)"/>
<rect x="100.3" y="273.9" width="53.8" height="10.2" fill="#fff" stroke="#111" stroke-width="1.1"/>
<text class="t m" x="127.1" y="281">TPS registration</text>
<path class="ln" d="M125.8,284.4V293.8" marker-end="url(#ah)"/>
<rect x="87.4" y="294.4" width="78.8" height="10" fill="#fff" stroke="#111" stroke-width="1.1"/>
<text class="t m" x="125.6" y="301.6">Transformation function</text>
<path class="ln" d="M125.8,304.6V313.2" marker-end="url(#ah)"/>
<path class="ln" d="M37.3,253.6V299.6H85.2" marker-end="url(#ah)"/>
<path class="ln" d="M220.8,253.8V299.6H169.2" marker-end="url(#ah)"/>
<rect x="19.2" y="314.3" width="213.2" height="59.6" fill="none" stroke="#111" stroke-width="1" stroke-dasharray="2.5 1.25"/>
<use href="#he2" x="26.3" y="318" width="44.8" height="44.6"/>
<rect x="26.5" y="318.4" width="44.4" height="44" fill="none" stroke="#111" stroke-width="1.1"/>
<rect x="77.6" y="317.9" width="45.4" height="45" fill="#000"/><use href="#cm" x="78.4" y="323.4" width="43.6" height="38.6"/>
<use href="#rf" x="129.7" y="317.9" width="45.3" height="45"/>
<rect x="130" y="318.2" width="44.7" height="44.4" fill="none" stroke="#000" stroke-width="0.6"/>
<use href="#adc" x="181.2" y="317.9" width="44.9" height="45"/>
<circle cx="47.4" cy="343.9" r="0.62" fill="#111"/><circle cx="62.9" cy="340.9" r="0.62" fill="#111"/><circle cx="49.3" cy="344.7" r="0.62" fill="#111"/><circle cx="38.7" cy="342.4" r="0.62" fill="#111"/><circle cx="53.2" cy="351.1" r="0.62" fill="#111"/><circle cx="35.7" cy="335.9" r="0.62" fill="#111"/><circle cx="35.6" cy="351.6" r="0.62" fill="#111"/><circle cx="55.3" cy="327.8" r="0.62" fill="#111"/><circle cx="54.0" cy="345.6" r="0.62" fill="#111"/><circle cx="49.9" cy="328.4" r="0.62" fill="#111"/><circle cx="38.9" cy="334.0" r="0.62" fill="#111"/><circle cx="33.6" cy="340.9" r="0.62" fill="#111"/><circle cx="47.1" cy="352.6" r="0.62" fill="#111"/><circle cx="49.6" cy="346.3" r="0.62" fill="#111"/><circle cx="49.0" cy="347.0" r="0.62" fill="#111"/><circle cx="47.6" cy="335.1" r="0.62" fill="#111"/><circle cx="60.1" cy="348.4" r="0.62" fill="#111"/><circle cx="43.0" cy="333.6" r="0.62" fill="#111"/><circle cx="42.1" cy="328.7" r="0.62" fill="#111"/><circle cx="57.7" cy="338.9" r="0.62" fill="#111"/><circle cx="60.3" cy="338.5" r="0.62" fill="#111"/><circle cx="62.4" cy="341.1" r="0.62" fill="#111"/><circle cx="64.7" cy="338.8" r="0.62" fill="#111"/><circle cx="35.0" cy="346.0" r="0.62" fill="#111"/><circle cx="58.1" cy="334.9" r="0.62" fill="#111"/><circle cx="35.5" cy="336.8" r="0.62" fill="#111"/><circle cx="36.5" cy="334.1" r="0.62" fill="#111"/><circle cx="58.7" cy="332.0" r="0.62" fill="#111"/><circle cx="50.9" cy="340.4" r="0.62" fill="#111"/><circle cx="38.9" cy="349.2" r="0.62" fill="#111"/><circle cx="36.9" cy="346.4" r="0.62" fill="#111"/><circle cx="36.5" cy="339.5" r="0.62" fill="#111"/><circle cx="39.6" cy="334.9" r="0.62" fill="#111"/><circle cx="42.6" cy="353.9" r="0.62" fill="#111"/><circle cx="39.5" cy="338.7" r="0.62" fill="#111"/><circle cx="60.6" cy="346.4" r="0.62" fill="#111"/><circle cx="39.6" cy="334.5" r="0.62" fill="#111"/><circle cx="57.9" cy="336.7" r="0.62" fill="#111"/>
<circle cx="93.5" cy="330.8" r="0.62" fill="#111"/><circle cx="86.6" cy="345.0" r="0.62" fill="#111"/><circle cx="91.7" cy="345.5" r="0.62" fill="#111"/><circle cx="95.9" cy="341.4" r="0.62" fill="#111"/><circle cx="115.4" cy="342.2" r="0.62" fill="#111"/><circle cx="102.7" cy="352.9" r="0.62" fill="#111"/><circle cx="89.7" cy="333.1" r="0.62" fill="#111"/><circle cx="113.7" cy="351.5" r="0.62" fill="#111"/><circle cx="91.9" cy="334.1" r="0.62" fill="#111"/><circle cx="108.1" cy="354.9" r="0.62" fill="#111"/><circle cx="112.9" cy="345.6" r="0.62" fill="#111"/><circle cx="97.6" cy="331.7" r="0.62" fill="#111"/><circle cx="91.5" cy="348.4" r="0.62" fill="#111"/><circle cx="92.1" cy="351.7" r="0.62" fill="#111"/><circle cx="103.4" cy="337.0" r="0.62" fill="#111"/><circle cx="89.4" cy="348.8" r="0.62" fill="#111"/><circle cx="85.9" cy="335.2" r="0.62" fill="#111"/><circle cx="102.2" cy="352.5" r="0.62" fill="#111"/><circle cx="104.0" cy="336.6" r="0.62" fill="#111"/><circle cx="114.0" cy="334.5" r="0.62" fill="#111"/><circle cx="98.4" cy="330.5" r="0.62" fill="#111"/><circle cx="89.5" cy="339.1" r="0.62" fill="#111"/><circle cx="102.6" cy="332.5" r="0.62" fill="#111"/><circle cx="95.6" cy="353.6" r="0.62" fill="#111"/><circle cx="116.1" cy="347.1" r="0.62" fill="#111"/><circle cx="106.5" cy="345.0" r="0.62" fill="#111"/><circle cx="106.9" cy="355.6" r="0.62" fill="#111"/><circle cx="84.3" cy="346.5" r="0.62" fill="#111"/><circle cx="99.6" cy="349.1" r="0.62" fill="#111"/><circle cx="94.2" cy="356.6" r="0.62" fill="#111"/><circle cx="86.1" cy="344.0" r="0.62" fill="#111"/><circle cx="108.1" cy="353.8" r="0.62" fill="#111"/><circle cx="108.1" cy="348.4" r="0.62" fill="#111"/><circle cx="109.9" cy="354.2" r="0.62" fill="#111"/><circle cx="95.3" cy="347.8" r="0.62" fill="#111"/><circle cx="97.5" cy="350.8" r="0.62" fill="#111"/><circle cx="112.2" cy="344.7" r="0.62" fill="#111"/><circle cx="104.3" cy="339.4" r="0.62" fill="#111"/><circle cx="102.9" cy="345.7" r="0.62" fill="#111"/><circle cx="86.3" cy="346.6" r="0.62" fill="#111"/><circle cx="107.8" cy="339.6" r="0.62" fill="#111"/><circle cx="108.0" cy="344.9" r="0.62" fill="#111"/>
<circle cx="150.3" cy="351.4" r="0.62" fill="#111"/><circle cx="138.0" cy="348.5" r="0.62" fill="#111"/><circle cx="136.2" cy="343.7" r="0.62" fill="#111"/><circle cx="151.7" cy="331.7" r="0.62" fill="#111"/><circle cx="159.2" cy="340.3" r="0.62" fill="#111"/><circle cx="156.3" cy="354.0" r="0.62" fill="#111"/><circle cx="145.5" cy="346.2" r="0.62" fill="#111"/><circle cx="142.1" cy="329.7" r="0.62" fill="#111"/><circle cx="166.3" cy="345.6" r="0.62" fill="#111"/><circle cx="150.4" cy="353.1" r="0.62" fill="#111"/><circle cx="146.4" cy="345.8" r="0.62" fill="#111"/><circle cx="142.0" cy="338.2" r="0.62" fill="#111"/><circle cx="162.9" cy="353.8" r="0.62" fill="#111"/><circle cx="165.4" cy="336.7" r="0.62" fill="#111"/><circle cx="155.2" cy="334.5" r="0.62" fill="#111"/><circle cx="139.8" cy="340.3" r="0.62" fill="#111"/><circle cx="164.0" cy="351.7" r="0.62" fill="#111"/><circle cx="159.6" cy="355.0" r="0.62" fill="#111"/><circle cx="144.7" cy="329.7" r="0.62" fill="#111"/><circle cx="150.7" cy="333.1" r="0.62" fill="#111"/><circle cx="142.5" cy="337.6" r="0.62" fill="#111"/><circle cx="156.7" cy="340.2" r="0.62" fill="#111"/><circle cx="146.0" cy="351.4" r="0.62" fill="#111"/><circle cx="168.9" cy="338.9" r="0.62" fill="#111"/><circle cx="159.5" cy="342.7" r="0.62" fill="#111"/><circle cx="145.8" cy="349.8" r="0.62" fill="#111"/><circle cx="150.8" cy="325.0" r="0.62" fill="#111"/><circle cx="163.7" cy="331.9" r="0.62" fill="#111"/><circle cx="156.8" cy="338.7" r="0.62" fill="#111"/><circle cx="156.8" cy="345.4" r="0.62" fill="#111"/><circle cx="158.7" cy="330.7" r="0.62" fill="#111"/><circle cx="151.5" cy="330.0" r="0.62" fill="#111"/><circle cx="135.5" cy="339.5" r="0.62" fill="#111"/><circle cx="159.7" cy="330.0" r="0.62" fill="#111"/><circle cx="144.5" cy="335.4" r="0.62" fill="#111"/><circle cx="159.1" cy="341.1" r="0.62" fill="#111"/><circle cx="156.3" cy="348.7" r="0.62" fill="#111"/><circle cx="148.7" cy="349.9" r="0.62" fill="#111"/>
<text class="t m" x="51.3" y="370">H&amp;E</text><text class="t m" x="100" y="370">H&amp;E cellularity</text><text class="t m" x="152.3" y="370">Restricted fraction</text><text class="t m" x="203" y="370">ADC</text>
<text class="L" x="266.4" y="10.8">C</text>
<path d="M326.9,41.0h0M324.7,71.3h0M321.2,69.9h0M321.2,49.1h0M319.3,49.5h0M323.2,55.7h0M322.6,72.1h0M324.1,61.5h0M319.9,72.8h0M323.4,80.8h0M323.7,53.3h0M326.0,65.3h0M318.4,51.4h0M320.8,65.0h0M320.4,67.3h0M328.7,76.3h0M325.3,74.3h0M329.9,44.9h0M318.6,44.3h0M330.4,73.4h0M335.5,61.3h0M334.4,60.4h0M322.8,82.1h0M323.0,70.9h0M322.0,43.6h0M321.6,51.6h0M319.9,57.8h0M319.6,71.5h0M328.2,79.8h0M321.9,62.1h0M326.3,79.1h0M322.1,43.1h0M319.0,60.0h0M320.0,63.2h0M323.2,74.4h0M329.8,80.3h0M329.0,56.0h0M322.5,55.7h0M331.5,77.1h0M322.3,60.9h0M318.9,66.6h0M329.1,77.8h0M330.6,64.0h0M319.1,78.2h0M324.5,70.4h0M332.1,70.0h0M319.1,67.4h0M329.9,49.9h0M334.7,66.6h0M330.7,72.1h0M321.8,61.7h0M319.6,46.3h0M320.9,67.7h0M329.1,80.6h0M324.4,60.8h0M330.8,53.3h0M325.5,87.6h0M322.7,80.2h0M325.0,63.3h0M327.6,63.7h0M322.1,56.4h0M321.5,66.6h0M323.5,53.1h0M318.6,48.0h0M321.0,59.6h0M332.6,55.5h0M320.9,63.6h0M318.6,52.3h0M320.1,74.2h0M329.6,79.5h0M334.4,89.0h0M329.3,86.8h0M329.0,63.7h0M320.1,68.5h0M337.4,59.2h0M334.6,50.1h0M321.9,68.1h0M322.1,82.6h0M332.6,90.9h0M324.0,63.9h0M318.9,66.2h0M330.1,67.4h0M328.0,48.2h0M321.6,45.5h0M324.3,50.6h0M319.7,54.6h0M335.8,63.5h0M333.9,62.0h0M339.0,93.9h0M331.8,67.6h0M331.8,57.2h0M330.8,65.1h0M326.5,86.8h0M320.3,75.2h0M320.3,67.9h0M320.5,60.0h0M321.7,56.0h0M320.4,65.4h0M331.0,65.3h0M322.6,43.5h0M326.9,52.8h0M322.5,77.1h0M322.2,37.6h0M320.5,77.3h0M319.8,48.5h0M321.7,80.6h0M319.8,75.4h0M320.7,86.4h0M327.3,52.1h0M327.7,73.1h0M321.1,52.4h0M319.0,81.7h0M330.8,50.8h0M330.1,82.0h0M320.4,59.7h0M332.6,54.2h0M321.5,70.8h0M324.3,55.3h0M318.7,85.8h0M323.2,64.3h0M334.4,68.6h0M321.2,57.3h0M321.0,74.9h0M333.9,66.8h0M320.8,69.3h0M326.7,57.4h0M323.9,64.2h0M323.3,73.7h0M321.5,51.4h0M326.0,39.2h0M318.3,69.8h0M322.1,78.9h0M319.5,48.8h0M323.4,53.7h0M322.8,73.5h0M326.2,69.8h0M319.3,53.0h0M319.8,64.2h0M320.5,69.5h0M335.9,47.6h0M324.7,59.3h0M320.5,73.5h0M329.8,68.0h0M337.3,74.6h0M320.8,66.2h0M318.6,69.6h0M329.0,44.7h0M321.1,75.5h0M319.5,75.5h0M336.3,60.7h0M335.1,64.5h0M323.8,79.2h0M324.6,55.8h0M321.7,79.3h0M324.5,56.2h0M319.0,58.3h0M331.1,56.2h0M322.7,65.4h0M320.0,78.0h0M325.2,76.1h0M319.9,51.0h0M333.0,81.9h0M322.2,60.9h0M334.8,87.4h0M341.7,69.1h0M323.6,81.0h0M322.1,64.5h0M330.8,69.6h0M319.8,68.6h0M333.5,45.7h0M320.4,80.0h0M320.4,60.2h0M324.1,73.2h0M324.9,77.8h0M326.1,74.6h0M322.0,63.5h0M323.9,76.0h0M321.4,89.6h0M327.2,76.8h0M330.6,72.8h0M318.0,72.9h0M335.3,77.7h0M333.7,61.0h0M322.1,63.7h0M326.3,60.4h0M321.8,53.9h0M329.8,54.0h0M324.7,60.5h0M320.4,68.1h0M323.8,51.3h0M322.8,53.1h0M329.4,40.5h0M325.5,58.4h0M324.9,60.8h0M323.2,81.4h0M320.0,74.4h0M334.8,45.9h0M326.2,75.6h0M332.8,70.5h0M319.1,53.1h0M327.8,65.8h0M321.7,94.5h0M322.6,94.5h0M324.7,76.0h0M323.2,68.4h0M322.1,71.7h0M325.5,71.4h0M332.4,53.7h0M331.5,60.8h0M319.3,68.3h0M325.0,65.4h0M328.1,64.5h0M321.7,56.9h0M326.7,73.8h0M325.2,44.6h0M324.9,68.3h0M318.9,70.1h0M320.5,69.4h0M325.3,55.6h0M324.0,82.5h0M319.2,81.1h0M320.4,65.5h0M323.2,72.2h0M328.5,45.5h0M322.0,74.5h0M327.4,65.1h0M325.9,50.9h0M324.4,60.7h0M323.2,72.9h0M318.5,73.0h0M327.6,61.1h0M328.1,46.2h0M334.6,78.6h0M334.5,65.9h0M328.9,58.5h0M318.9,58.1h0M323.1,55.9h0M331.1,53.3h0M318.1,56.0h0M318.3,57.6h0M323.0,94.5h0M327.7,69.7h0M330.2,65.9h0M320.7,70.8h0M331.8,50.9h0M319.8,61.9h0M335.4,63.5h0M333.3,70.5h0M336.2,62.1h0M319.4,67.5h0M320.0,81.9h0M319.8,56.3h0M330.9,62.3h0M338.6,58.3h0M325.5,69.5h0M328.6,84.2h0M328.2,65.7h0M319.8,56.6h0M329.7,73.8h0M319.6,59.1h0M318.2,81.5h0M321.7,72.0h0M328.8,91.3h0M324.5,61.2h0M323.6,69.9h0M321.5,50.6h0M321.8,77.9h0M323.4,48.9h0M322.5,74.7h0M334.0,71.2h0M326.4,64.5h0M341.5,56.1h0M324.7,49.3h0M320.0,72.0h0M323.6,69.4h0M319.5,53.9h0M318.3,65.7h0M320.8,46.6h0M340.8,71.4h0M329.8,61.3h0M321.5,55.5h0M322.3,84.3h0M335.8,66.8h0M319.0,69.8h0M334.8,53.8h0M320.5,62.0h0M330.5,78.7h0M325.5,69.3h0M330.1,60.8h0M324.3,65.5h0M325.3,83.4h0M325.7,69.2h0M323.0,60.2h0M334.3,84.6h0M334.5,74.7h0M323.7,80.5h0M340.6,71.1h0M319.9,55.2h0M319.4,43.9h0M330.1,62.2h0M326.8,61.8h0M321.9,68.5h0M324.8,75.7h0M330.9,77.4h0M324.4,68.2h0M325.1,75.6h0M327.4,60.7h0M321.1,51.5h0M322.0,65.2h0M322.8,52.0h0M325.6,72.8h0M322.6,56.7h0M320.5,85.8h0M326.2,67.9h0M322.8,66.3h0M331.1,65.1h0M339.6,60.8h0M321.8,69.5h0M329.4,37.4h0M331.0,59.0h0M324.8,72.8h0M319.6,38.2h0M333.5,65.0h0M328.3,79.9h0M324.0,64.8h0M326.0,77.1h0M320.1,60.9h0M321.9,72.2h0M320.9,49.0h0M319.6,54.7h0M322.2,59.4h0M329.5,94.5h0M324.7,67.1h0M320.9,55.0h0M333.5,69.2h0M322.0,56.4h0M324.5,80.2h0M320.8,54.1h0M342.3,42.8h0M324.5,70.6h0M321.4,66.8h0M319.9,59.3h0M323.8,69.2h0M329.9,73.5h0M321.9,74.6h0M321.4,61.1h0M322.3,76.2h0M320.7,53.7h0M322.0,85.8h0M332.2,75.7h0M327.0,78.6h0M326.5,78.6h0M319.6,58.7h0M321.5,50.3h0M318.1,62.7h0M325.4,70.4h0M318.9,53.0h0M334.2,83.1h0M332.3,58.5h0M324.8,63.0h0M324.2,68.6h0M320.7,55.3h0M320.3,72.7h0M321.8,63.5h0M322.6,54.9h0M329.9,68.1h0M320.7,58.2h0M322.4,69.2h0M320.4,77.8h0M321.9,65.1h0M322.0,62.7h0M324.3,80.4h0M341.6,78.1h0M320.1,60.1h0M320.7,69.6h0M332.0,69.6h0M331.7,56.8h0M320.1,55.7h0M327.2,79.5h0M321.5,56.4h0M324.8,69.4h0M321.4,63.3h0M325.9,77.5h0M328.5,46.2h0M331.2,64.9h0M325.0,55.1h0M318.7,73.8h0M322.2,55.6h0M328.8,63.6h0M324.3,47.0h0M328.5,59.9h0M335.3,67.6h0M320.3,47.6h0M321.3,55.9h0M340.1,85.6h0M322.0,58.7h0M323.7,78.6h0M330.9,67.3h0M323.3,71.8h0M319.8,68.2h0M338.8,87.1h0M354.1,52.5h0M331.0,67.4h0M331.3,84.0h0M365.1,79.4h0M356.8,65.8h0M344.3,57.6h0M335.2,66.6h0M337.7,103.4h0M358.4,80.9h0M341.9,65.8h0M336.9,93.6h0M341.8,73.7h0M338.9,88.6h0M340.0,64.4h0M338.0,77.4h0M336.3,74.2h0M369.8,85.9h0M351.2,78.3h0M335.1,68.9h0M351.1,90.4h0M359.5,97.8h0M356.3,80.7h0M330.5,74.2h0M345.5,82.9h0M358.8,66.0h0M339.4,66.7h0M341.7,92.6h0M361.2,84.9h0M339.3,63.5h0M346.6,54.1h0M341.1,85.6h0M349.0,103.4h0M342.1,86.8h0M339.9,89.3h0M343.1,62.3h0M338.3,82.9h0M366.1,56.5h0M335.5,66.6h0M341.2,40.5h0M359.8,82.7h0M336.7,98.4h0M338.0,73.7h0M348.0,92.3h0M333.5,87.2h0M356.2,53.6h0M333.3,86.3h0M331.8,79.6h0M332.4,85.2h0M344.5,60.3h0M351.8,78.8h0M335.0,48.5h0M332.4,76.8h0M342.9,75.7h0M351.7,64.3h0M337.7,77.6h0M334.0,61.6h0M336.8,80.8h0M331.1,71.8h0M334.4,69.9h0M348.0,70.4h0M333.4,61.8h0M355.0,81.0h0M337.7,77.9h0M344.0,83.2h0M338.9,64.5h0M330.9,47.9h0M341.8,73.7h0M341.7,76.7h0M335.1,78.8h0M352.2,83.6h0M342.8,86.4h0M359.2,66.1h0M346.5,62.8h0M330.4,81.4h0M331.4,62.6h0M347.3,51.1h0M339.0,84.0h0M331.3,97.1h0M341.1,53.5h0M331.4,97.9h0M331.8,77.2h0M344.9,66.4h0M370.4,59.7h0M360.0,90.2h0M344.6,66.4h0M335.4,55.5h0M341.4,93.6h0M345.4,72.8h0M344.0,73.8h0M333.4,65.2h0M337.3,67.5h0M335.5,75.9h0M338.4,99.0h0M333.0,81.4h0M365.1,98.6h0M343.2,103.4h0M341.6,52.3h0M333.5,73.3h0M338.0,76.6h0M349.8,89.1h0M363.2,78.0h0M342.2,79.2h0M355.8,85.1h0M341.8,71.6h0M348.2,77.9h0M348.3,81.5h0M360.8,91.0h0M336.2,99.4h0M344.4,86.9h0M342.2,53.5h0M357.6,87.5h0M341.7,81.3h0M330.9,81.5h0M346.5,57.5h0M333.3,51.3h0M331.7,85.7h0M342.2,75.3h0M354.3,66.4h0M348.3,70.4h0M312.7,90.9h0M318.3,98.1h0M307.5,96.7h0M307.4,99.4h0M313.4,92.9h0M304.2,90.8h0M313.9,93.1h0M310.1,91.3h0M316.4,96.0h0M312.5,91.1h0M313.4,99.4h0M304.1,91.5h0M315.0,95.3h0M312.8,95.4h0M304.6,93.2h0M304.5,97.7h0M311.3,95.9h0M313.8,91.9h0M310.8,94.8h0M312.8,93.1h0M307.3,96.6h0M317.3,96.4h0M312.2,91.4h0M312.9,90.8h0M311.3,97.0h0M311.5,95.7h0M313.2,90.7h0M317.3,95.7h0M308.7,99.2h0M304.8,91.8h0M311.3,93.2h0M319.5,94.3h0M317.4,95.5h0M306.9,92.5h0M310.3,98.4h0M317.1,90.9h0M307.3,93.0h0M315.3,96.1h0M310.3,90.9h0M304.4,97.3h0M312.2,97.8h0M316.8,90.3h0M310.2,95.3h0M319.3,93.6h0M313.8,95.7h0M315.5,78.2h0M316.9,88.4h0M318.6,72.0h0M319.1,75.6h0M317.0,79.1h0M319.4,86.7h0M311.1,60.6h0M309.8,87.4h0M317.5,63.6h0M316.3,83.9h0M310.9,69.0h0M318.7,87.9h0M313.1,91.1h0M319.4,89.7h0M317.8,69.5h0M310.4,77.4h0M317.2,77.6h0M308.4,65.5h0M312.5,89.3h0M308.2,74.1h0M315.2,82.1h0M317.4,70.1h0M352.7,101.1h0M364.6,97.6h0M348.4,101.5h0M358.3,98.7h0M336.7,98.0h0M333.7,99.4h0M344.9,97.5h0M355.1,97.6h0M359.0,100.6h0M351.4,102.2h0M349.6,101.9h0M356.6,102.6h0M333.6,97.7h0M340.8,102.8h0" stroke="#1cab54" stroke-width="2.4" stroke-linecap="round" fill="none"/>
<path d="M303.0,68.5L371.5,75.4" stroke="#111" stroke-width="1.4" fill="none"/>
<path class="ax" d="M299.7,13.500000000000005V103.4H383.59999999999997M299.7,103.4v1.6M327.5,103.4v1.6M355.4,103.4v1.6M383.2,103.4v1.6M299.7,103.4h-1.6M299.7,81.0h-1.6M299.7,58.7h-1.6M299.7,36.3h-1.6M299.7,13.9h-1.6"/>
<text class="k m" x="299.7" y="113.5">0</text><text class="k m" x="327.5" y="113.5">0.5</text><text class="k m" x="355.4" y="113.5">1</text><text class="k m" x="383.2" y="113.5">1.5</text><text class="k e" x="294.5" y="105.7">0</text><text class="k e" x="294.5" y="83.3">0.1</text><text class="k e" x="294.5" y="61.0">0.2</text><text class="k e" x="294.5" y="38.6">0.3</text><text class="k e" x="294.5" y="16.2">0.4</text>
<text class="c m" x="346.2" y="122.9">ADC (µm<tspan dy="-2.2" font-size="4">2</tspan><tspan dy="2.2">/ms)</tspan></text>
<text class="c m" transform="translate(280.3,58.650000000000006) rotate(-90)">H&amp;E cellularity</text>
<text class="c" x="350.2" y="22.5"><tspan font-style="italic">r</tspan> = –0.078</text><text class="c" x="350.2" y="30.2"><tspan font-style="italic">P</tspan> = 0.04</text>
<path d="M447.6,42.8h0M457.2,33.5h0M458.3,36.4h0M458.0,49.3h0M453.8,35.2h0M460.8,34.5h0M454.2,51.0h0M447.5,36.0h0M459.7,54.1h0M450.5,47.7h0M455.7,68.1h0M460.9,47.9h0M449.1,65.2h0M456.4,66.1h0M477.1,44.5h0M450.2,73.5h0M453.9,38.8h0M451.4,71.1h0M471.0,67.6h0M468.1,67.3h0M443.4,45.6h0M462.6,57.5h0M448.6,44.6h0M453.8,58.1h0M450.9,43.6h0M452.5,40.8h0M454.0,48.0h0M454.1,48.4h0M459.7,53.9h0M448.5,44.6h0M450.3,44.4h0M453.0,80.9h0M457.3,46.6h0M460.7,49.2h0M464.9,42.2h0M448.4,53.7h0M458.2,48.0h0M468.4,64.6h0M449.5,68.2h0M453.5,64.6h0M464.5,54.2h0M450.8,46.1h0M465.4,48.9h0M468.9,55.9h0M455.5,68.2h0M472.4,64.1h0M468.5,33.9h0M457.3,43.2h0M450.3,68.3h0M455.1,51.8h0M452.3,56.6h0M468.6,60.4h0M448.1,45.6h0M454.3,66.5h0M449.6,43.5h0M447.7,56.1h0M473.3,68.2h0M467.1,84.7h0M453.0,35.3h0M461.4,77.2h0M451.4,66.2h0M468.4,79.6h0M448.6,56.5h0M456.4,65.4h0M450.5,35.6h0M454.4,53.1h0M447.6,57.7h0M452.4,48.4h0M448.5,74.2h0M452.4,32.2h0M463.1,70.2h0M450.7,72.4h0M463.4,49.2h0M450.5,61.4h0M455.3,30.2h0M451.6,70.5h0M456.1,59.7h0M461.3,33.2h0M453.7,64.2h0M446.1,43.1h0M448.4,53.2h0M453.9,29.8h0M444.4,63.2h0M462.6,57.7h0M451.6,53.1h0M455.6,69.9h0M458.4,77.2h0M453.3,66.9h0M456.5,50.3h0M451.8,62.6h0M459.4,72.0h0M453.5,36.5h0M460.0,47.4h0M459.3,56.1h0M464.7,43.5h0M455.5,46.2h0M459.8,54.8h0M455.1,65.2h0M451.5,46.2h0M451.6,67.0h0M475.0,81.4h0M458.8,66.0h0M454.1,78.4h0M459.4,62.0h0M462.9,78.9h0M464.8,70.1h0M454.7,33.4h0M452.8,33.5h0M451.5,38.7h0M469.3,46.9h0M450.0,41.5h0M447.2,85.1h0M468.4,51.5h0M455.3,66.6h0M463.4,39.2h0M458.0,21.7h0M457.3,29.9h0M459.0,50.8h0M464.2,47.2h0M463.5,40.1h0M458.4,42.0h0M452.4,80.6h0M449.3,76.1h0M450.1,57.8h0M450.7,55.6h0M467.1,76.1h0M461.9,20.8h0M452.4,46.4h0M451.0,25.1h0M461.5,27.6h0M459.3,62.7h0M462.1,88.7h0M459.2,88.9h0M459.7,23.1h0M456.1,59.2h0M454.5,71.9h0M451.4,34.5h0M458.3,68.6h0M449.3,54.7h0M453.8,70.5h0M456.7,51.9h0M462.0,59.3h0M452.2,55.4h0M463.2,45.4h0M449.6,62.0h0M453.5,39.4h0M460.8,42.8h0M458.3,65.5h0M457.5,50.2h0M455.5,47.7h0M453.1,63.4h0M451.7,42.4h0M454.8,41.6h0M477.7,59.7h0M459.6,63.6h0M453.7,64.6h0M462.9,30.6h0M462.1,67.6h0M459.1,71.6h0M458.2,33.1h0M453.9,41.6h0M458.2,54.1h0M460.4,41.6h0M462.5,66.9h0M448.3,53.6h0M461.6,65.6h0M455.2,71.2h0M455.0,41.1h0M455.8,31.3h0M451.2,43.2h0M476.5,42.2h0M456.9,58.0h0M460.6,52.4h0M457.8,76.1h0M450.8,39.4h0M456.8,40.4h0M447.7,43.9h0M455.6,38.8h0M456.6,50.6h0M454.9,52.3h0M462.7,40.6h0M450.4,48.8h0M460.8,37.6h0M458.3,50.1h0M448.2,53.8h0M473.9,49.7h0M473.7,55.8h0M452.8,70.5h0M454.6,38.8h0M452.0,42.2h0M457.2,57.7h0M448.5,54.2h0M458.8,58.1h0M451.8,76.4h0M454.2,58.0h0M453.1,28.5h0M448.1,32.5h0M460.8,46.9h0M454.1,44.4h0M452.0,63.9h0M467.4,68.3h0M448.0,44.0h0M451.8,41.2h0M462.8,45.2h0M446.4,40.1h0M448.7,57.6h0M456.1,65.3h0M470.9,40.6h0M454.4,61.6h0M455.1,60.6h0M450.1,78.6h0M465.3,72.3h0M452.5,57.4h0M450.9,56.3h0M459.7,62.2h0M448.9,59.0h0M460.5,53.5h0M459.3,30.7h0M456.6,59.1h0M449.5,53.7h0M463.3,76.3h0M453.9,46.9h0M469.3,51.2h0M455.5,63.8h0M461.5,48.5h0M451.5,59.4h0M450.0,84.3h0M457.7,36.7h0M456.4,44.1h0M458.7,66.3h0M455.5,55.6h0M446.3,52.5h0M461.1,51.4h0M466.3,60.5h0M451.9,61.3h0M462.5,66.1h0M460.8,66.7h0M464.3,64.2h0M452.7,61.1h0M467.5,68.5h0M462.3,48.2h0M450.6,74.7h0M451.5,73.8h0M448.9,54.7h0M450.0,47.4h0M448.3,54.4h0M454.0,37.0h0M466.8,75.2h0M455.6,52.9h0M451.0,51.3h0M460.9,46.6h0M459.1,81.2h0M457.0,54.4h0M461.1,76.6h0M452.7,56.2h0M447.1,30.6h0M459.0,20.8h0M465.4,45.0h0M450.6,60.1h0M459.5,59.3h0M451.3,63.5h0M454.6,46.1h0M445.3,62.2h0M450.3,68.8h0M459.9,52.7h0M455.3,77.4h0M455.4,29.8h0M454.8,56.2h0M457.7,80.2h0M462.0,64.8h0M455.8,34.1h0M453.8,87.7h0M466.2,27.6h0M456.6,42.7h0M459.3,41.0h0M460.8,68.7h0M454.1,42.6h0M472.0,26.3h0M462.0,70.2h0M459.8,62.2h0M461.9,60.3h0M446.8,54.5h0M447.1,20.8h0M457.9,40.5h0M454.8,40.2h0M445.9,36.0h0M448.8,55.8h0M458.0,58.1h0M472.1,58.7h0M458.4,35.7h0M488.4,36.4h0M497.6,79.2h0M491.6,56.7h0M474.5,75.4h0M490.6,68.7h0M485.0,58.8h0M478.0,62.8h0M476.3,73.4h0M494.1,77.5h0M481.9,47.9h0M496.1,59.6h0M475.4,56.1h0M488.4,49.2h0M496.7,77.6h0M492.7,80.7h0M466.4,67.3h0M477.2,80.1h0M497.0,53.1h0M482.1,60.8h0M476.7,43.8h0M487.0,80.0h0M468.0,88.2h0M468.0,71.4h0M486.3,86.2h0M494.5,76.7h0M488.8,57.4h0M470.7,76.1h0M489.8,70.4h0M473.7,66.4h0M490.5,53.7h0M485.8,75.8h0M479.1,66.3h0M465.0,76.6h0M487.1,68.8h0M493.6,94.2h0M484.5,40.6h0M479.5,94.6h0M489.3,78.2h0M494.8,61.3h0M494.5,74.1h0M494.8,83.7h0M479.5,53.8h0M476.3,96.7h0M476.4,58.3h0M466.2,65.9h0M437.4,78.1h0M439.9,69.2h0M438.5,61.4h0M446.9,59.7h0M449.7,61.8h0M450.2,75.2h0M448.9,73.4h0M450.0,82.4h0M445.9,71.3h0M449.0,78.1h0M446.9,75.0h0M450.7,70.6h0M442.6,62.3h0M446.2,67.2h0M446.2,69.2h0M447.3,65.0h0M447.0,82.6h0M446.3,58.8h0M446.9,69.3h0M438.8,70.9h0M443.2,79.0h0M441.3,76.3h0M437.5,71.5h0M448.2,68.1h0M450.0,60.9h0" stroke="#1cab54" stroke-width="2.4" stroke-linecap="round" fill="none"/>
<path d="M436.6,55.4L497.8,60.6" stroke="#111" stroke-width="1.4" fill="none"/>
<path class="ax" d="M431.6,13.700000000000008V103.4H514.8M431.6,103.4v1.6M459.2,103.4v1.6M486.8,103.4v1.6M514.4,103.4v1.6M431.6,103.4h-1.6M431.6,81.1h-1.6M431.6,58.8h-1.6M431.6,36.4h-1.6M431.6,14.1h-1.6"/>
<text class="k m" x="431.6" y="113.5">0</text><text class="k m" x="459.2" y="113.5">0.5</text><text class="k m" x="486.8" y="113.5">1</text><text class="k m" x="514.4" y="113.5">1.5</text><text class="k e" x="426.40000000000003" y="105.7">0</text><text class="k e" x="426.40000000000003" y="83.4">0.2</text><text class="k e" x="426.40000000000003" y="61.1">0.4</text><text class="k e" x="426.40000000000003" y="38.7">0.6</text><text class="k e" x="426.40000000000003" y="16.4">0.8</text>
<text class="c m" x="479.5" y="122.9">ADC (µm<tspan dy="-2.2" font-size="4">2</tspan><tspan dy="2.2">/ms)</tspan></text>
<text class="c m" transform="translate(411.0,58.75000000000001) rotate(-90)">GFAP cellularity</text>
<text class="c" x="482.9" y="22.5"><tspan font-style="italic">r</tspan> = –0.055</text><text class="c" x="482.9" y="30.2"><tspan font-style="italic">P</tspan> = 0.28</text>
<path d="M336.8,189.5h0M332.9,186.1h0M328.4,186.6h0M323.7,194.6h0M326.0,181.0h0M325.4,180.7h0M337.4,207.5h0M332.2,180.5h0M326.3,214.2h0M333.4,203.6h0M326.4,183.5h0M349.8,158.4h0M331.2,194.2h0M324.8,178.2h0M326.4,186.1h0M342.0,193.0h0M323.9,157.5h0M332.0,191.4h0M336.4,204.9h0M328.6,195.2h0M329.5,179.3h0M323.0,185.7h0M332.0,189.0h0M332.3,179.5h0M328.4,197.4h0M335.2,178.0h0M335.5,220.8h0M327.3,197.6h0M325.3,189.3h0M333.3,193.1h0M327.8,193.3h0M322.6,193.6h0M333.6,198.8h0M337.0,186.5h0M327.4,201.7h0M332.7,192.0h0M340.7,177.8h0M331.6,175.9h0M330.3,194.7h0M329.8,183.3h0M322.0,187.7h0M346.3,204.4h0M338.3,190.7h0M329.3,182.1h0M340.7,201.7h0M325.5,196.6h0M334.4,195.0h0M326.9,220.8h0M335.7,179.2h0M340.5,195.8h0M327.5,195.8h0M324.2,185.2h0M327.3,192.8h0M329.4,199.2h0M327.5,181.3h0M324.2,183.9h0M327.1,206.9h0M331.1,188.7h0M336.1,184.4h0M338.3,189.3h0M342.8,174.5h0M326.6,194.3h0M326.4,192.3h0M322.6,193.3h0M331.5,181.8h0M348.4,189.4h0M334.9,199.5h0M325.8,163.9h0M325.9,196.3h0M327.1,204.3h0M331.4,186.5h0M337.8,206.3h0M326.6,174.6h0M336.5,192.3h0M324.3,205.5h0M330.1,200.5h0M324.4,190.2h0M327.7,184.3h0M342.9,172.2h0M322.0,191.2h0M326.2,201.1h0M330.0,192.2h0M322.5,175.9h0M332.2,197.8h0M329.3,198.3h0M324.8,198.8h0M325.6,194.6h0M327.1,193.2h0M328.2,199.8h0M337.4,184.9h0M343.4,184.4h0M346.4,192.8h0M325.4,197.5h0M325.8,190.6h0M335.9,173.8h0M337.3,208.4h0M329.9,206.9h0M338.3,182.8h0M342.5,182.4h0M330.3,177.9h0M322.6,205.1h0M329.9,179.4h0M339.7,185.6h0M324.4,195.1h0M334.5,176.6h0M327.9,184.5h0M324.0,197.2h0M327.9,198.3h0M331.1,191.6h0M330.7,160.9h0M335.5,167.6h0M332.8,173.1h0M332.7,195.0h0M323.1,188.1h0M344.1,172.6h0M333.4,198.2h0M331.0,167.7h0M335.3,188.5h0M340.7,192.6h0M323.9,204.5h0M326.1,174.1h0M323.5,197.8h0M326.4,193.9h0M344.9,191.2h0M328.7,179.6h0M324.3,169.6h0M324.1,182.0h0M328.9,179.9h0M332.4,181.5h0M332.2,198.7h0M325.1,184.9h0M330.8,178.6h0M326.4,199.3h0M324.7,164.9h0M331.8,190.9h0M327.8,192.0h0M341.2,193.5h0M331.4,178.2h0M324.0,188.5h0M325.9,183.6h0M323.6,197.7h0M333.3,194.0h0M324.1,184.0h0M339.7,183.0h0M338.6,192.5h0M323.9,178.0h0M323.1,177.2h0M327.6,192.8h0M348.2,205.4h0M325.8,196.2h0M323.0,186.7h0M332.3,180.2h0M326.4,167.7h0M342.0,191.2h0M329.7,196.5h0M328.1,185.2h0M323.9,194.8h0M335.0,189.0h0M334.0,208.2h0M329.7,175.5h0M335.2,192.0h0M327.3,204.8h0M322.8,183.2h0M322.4,210.9h0M329.6,177.7h0M326.3,197.7h0M323.4,193.2h0M330.0,208.6h0M325.9,193.1h0M335.8,190.5h0M340.5,196.9h0M325.9,204.4h0M335.3,169.3h0M323.6,214.6h0M326.9,191.5h0M331.8,185.7h0M325.9,190.3h0M330.8,190.4h0M328.9,184.0h0M343.7,182.1h0M324.6,183.3h0M326.7,202.5h0M325.6,208.6h0M334.6,203.1h0M327.9,195.3h0M327.1,199.9h0M324.4,194.5h0M341.7,191.5h0M330.2,202.5h0M343.0,194.9h0M324.6,192.1h0M338.3,189.2h0M337.6,180.3h0M334.7,193.6h0M326.5,174.2h0M334.4,183.6h0M331.3,181.4h0M337.3,216.8h0M324.1,193.2h0M329.7,208.2h0M328.4,206.7h0M333.3,168.2h0M322.3,181.1h0M327.5,179.2h0M339.9,170.9h0M355.3,202.0h0M351.1,220.8h0M326.7,182.2h0M322.3,192.0h0M328.7,193.8h0M324.5,189.2h0M324.7,187.9h0M334.3,181.8h0M338.7,205.6h0M339.1,182.8h0M323.0,179.0h0M337.8,195.1h0M324.4,181.6h0M336.1,210.9h0M336.0,181.1h0M326.0,194.7h0M330.0,195.3h0M333.1,187.8h0M326.3,199.6h0M326.7,197.6h0M325.1,202.0h0M336.4,206.2h0M326.8,174.6h0M335.2,190.7h0M324.4,181.9h0M339.2,188.0h0M335.4,200.9h0M333.1,199.6h0M323.8,190.0h0M332.5,174.4h0M323.7,183.7h0M328.9,200.4h0M330.6,189.8h0M332.4,196.8h0M324.1,185.4h0M332.7,192.9h0M327.3,193.6h0M325.5,173.3h0M327.8,199.1h0M327.0,179.9h0M328.5,173.2h0M330.2,197.5h0M325.8,182.8h0M325.1,203.8h0M330.3,211.1h0M323.7,197.1h0M324.8,210.4h0M324.2,187.6h0M326.2,200.4h0M330.4,197.8h0M334.1,200.7h0M332.0,194.5h0M324.9,198.5h0M333.9,203.9h0M330.7,194.4h0M327.6,196.2h0M325.7,183.1h0M336.1,184.1h0M326.1,190.4h0M327.1,197.1h0M330.7,192.9h0M326.8,206.4h0M326.8,191.8h0M343.0,197.6h0M339.8,177.4h0M326.2,198.8h0M324.2,184.7h0M331.7,186.6h0M326.9,192.6h0M330.2,178.6h0M342.6,196.7h0M333.9,182.1h0M334.5,194.1h0M331.5,189.5h0M329.1,193.5h0M329.4,167.7h0M332.5,196.9h0M334.7,189.6h0M342.3,194.1h0M330.1,171.0h0M330.5,182.9h0M330.1,183.9h0M322.1,198.5h0M326.0,184.9h0M329.1,168.7h0M327.3,206.9h0M339.6,190.4h0M328.1,182.2h0M324.7,207.1h0M328.5,191.4h0M331.7,174.8h0M335.3,190.8h0M334.4,185.8h0M325.8,176.9h0M335.3,172.5h0M330.3,200.5h0M328.2,191.1h0M331.3,200.4h0M333.1,172.6h0M327.3,199.2h0M337.1,181.7h0M323.3,201.9h0M322.8,181.3h0M335.5,203.7h0M328.7,201.1h0M324.6,194.7h0M327.8,209.0h0M325.7,200.9h0M336.5,190.3h0M328.4,187.3h0M326.9,194.1h0M343.8,198.7h0M330.8,206.3h0M323.7,203.6h0M336.1,193.8h0M331.0,176.4h0M332.0,189.8h0M326.6,185.4h0M331.7,217.4h0M326.1,180.0h0M324.4,209.9h0M327.7,188.0h0M324.2,179.6h0M342.7,183.3h0M332.1,174.5h0M341.6,187.6h0M332.7,197.0h0M325.0,183.1h0M324.1,206.4h0M329.4,180.7h0M324.2,173.0h0M328.3,193.0h0M330.2,172.3h0M332.7,197.3h0M323.0,187.0h0M334.8,172.8h0M328.5,190.1h0M322.0,173.1h0M343.7,169.2h0M326.0,190.0h0M326.2,173.6h0M333.9,183.6h0M326.3,184.2h0M323.5,186.4h0M328.1,183.0h0M326.4,212.5h0M327.0,193.0h0M326.2,189.3h0M324.6,191.5h0M336.3,205.0h0M336.3,189.2h0M326.7,201.4h0M332.4,191.3h0M337.6,201.0h0M341.4,192.3h0M324.9,202.0h0M331.4,185.5h0M340.4,177.3h0M322.1,178.2h0M321.9,198.1h0M330.1,197.8h0M323.4,180.7h0M329.8,186.4h0M329.2,189.0h0M332.2,183.1h0M327.8,185.8h0M327.0,196.4h0M334.5,176.2h0M337.3,168.3h0M328.8,181.7h0M324.6,173.3h0M324.2,185.9h0M324.1,191.4h0M325.7,183.4h0M323.0,201.1h0M328.6,181.5h0M334.0,217.0h0M324.7,203.6h0M343.3,192.4h0M324.1,194.5h0M329.3,183.3h0M329.9,191.1h0M337.8,199.6h0M329.0,189.2h0M336.7,220.8h0M325.8,201.7h0M326.9,173.1h0M328.1,183.7h0M325.4,191.2h0M331.0,187.4h0M338.1,198.7h0M330.5,207.8h0M329.5,211.2h0M323.2,178.4h0M325.6,195.5h0M345.1,212.1h0M348.1,204.2h0M336.3,170.4h0M351.8,203.9h0M351.4,182.5h0M369.5,189.1h0M345.9,197.2h0M341.5,205.4h0M340.2,194.3h0M349.3,209.7h0M338.0,210.8h0M337.5,221.4h0M345.2,188.3h0M348.8,210.6h0M338.7,205.9h0M351.4,218.0h0M337.7,177.7h0M336.7,200.3h0M338.2,198.9h0M342.1,214.9h0M358.4,214.5h0M350.4,198.9h0M339.5,189.6h0M338.2,199.4h0M341.0,196.3h0M339.5,206.9h0M352.5,201.0h0M342.0,202.4h0M351.9,178.5h0M350.5,194.5h0M349.4,203.9h0M352.0,194.8h0M363.0,209.6h0M343.7,190.2h0M338.9,187.7h0M338.0,216.1h0M342.9,193.3h0M349.7,199.8h0M337.3,198.6h0M344.7,214.2h0M343.6,193.8h0M350.6,193.1h0M349.1,206.5h0M336.2,187.2h0M355.0,191.5h0M367.3,195.7h0M371.5,226.8h0M351.9,196.0h0M343.9,193.1h0M357.1,217.2h0M358.0,210.9h0M345.3,208.8h0M348.8,199.8h0M342.3,202.5h0M346.2,212.7h0M342.5,202.0h0M339.3,201.8h0M351.6,182.9h0M359.4,211.2h0M339.0,204.1h0M364.9,205.7h0M353.3,215.6h0M336.2,186.8h0M353.3,195.6h0M365.6,188.9h0M346.8,196.0h0M358.6,208.9h0M346.9,191.5h0M346.4,202.3h0M371.5,202.0h0M341.2,215.7h0M341.8,203.8h0M371.5,197.3h0M346.2,198.5h0M354.4,182.8h0M357.7,195.9h0M360.6,196.6h0M352.8,192.6h0M336.9,207.2h0M344.1,211.4h0M347.2,196.3h0M337.1,202.6h0M341.3,199.4h0M344.8,202.6h0M369.8,203.8h0M341.1,206.5h0M341.5,199.4h0M342.5,183.4h0M345.4,203.8h0M364.5,205.5h0M339.3,188.5h0M338.5,201.6h0M343.4,203.8h0M338.6,195.5h0M340.5,217.3h0M338.8,198.1h0M345.2,202.4h0M337.1,204.2h0M342.8,193.7h0M361.7,212.7h0M348.5,211.5h0M347.2,191.3h0M353.8,193.3h0M350.4,200.2h0M355.9,215.3h0M354.3,192.7h0M359.5,211.2h0M338.8,189.0h0M343.0,212.0h0M371.5,203.6h0M337.1,205.8h0M371.5,202.8h0M359.9,206.4h0M350.1,187.8h0M351.9,216.4h0M346.5,193.8h0M358.5,205.5h0M349.4,208.5h0M348.0,205.0h0M340.7,210.8h0M320.8,219.5h0M319.9,220.1h0M312.1,223.2h0M319.1,222.7h0M316.4,214.6h0M318.7,215.0h0M319.7,222.8h0M314.4,215.1h0M309.8,220.8h0M316.0,219.0h0M319.0,218.2h0M320.6,214.4h0M322.7,221.9h0M312.5,222.5h0M318.2,215.7h0M320.5,216.0h0M310.3,218.2h0M309.8,217.4h0M311.5,216.6h0M314.4,218.1h0M317.9,217.9h0M323.0,220.6h0M317.5,219.9h0M312.7,219.5h0M319.2,221.3h0M314.9,222.6h0M310.1,223.3h0M308.8,220.0h0M322.6,221.5h0M317.9,220.3h0M309.6,221.7h0M321.5,216.3h0M314.9,219.6h0M308.6,220.7h0M322.2,219.3h0M321.1,223.5h0M309.1,217.6h0M309.0,214.5h0M321.4,217.8h0M322.5,217.7h0M318.8,221.0h0M317.8,223.6h0M321.1,222.3h0M320.8,220.4h0M317.7,220.4h0M317.7,184.3h0M317.2,177.7h0M323.1,171.2h0M321.1,205.8h0M317.2,201.6h0M315.5,198.4h0M318.6,184.2h0M321.3,195.8h0M319.2,167.4h0M318.4,177.8h0M321.6,183.4h0M322.9,207.8h0M318.5,180.6h0M320.9,201.0h0M366.1,220.9h0M344.6,225.4h0M359.6,226.1h0M360.5,222.2h0M351.1,225.2h0M360.9,225.2h0M358.5,221.1h0M365.1,226.6h0M368.0,227.1h0M362.4,221.4h0M342.9,226.1h0M363.5,224.9h0" stroke="#c40808" stroke-width="2.4" stroke-linecap="round" fill="none"/>
<path d="M307.6,190.5L370.6,204.9" stroke="#111" stroke-width="1.4" fill="none"/>
<path class="ax" d="M299.9,137.4V227.5H385.49999999999994M299.9,227.5v1.6M321.2,227.5v1.6M342.5,227.5v1.6M363.8,227.5v1.6M385.1,227.5v1.6M299.9,227.5h-1.6M299.9,205.1h-1.6M299.9,182.7h-1.6M299.9,160.2h-1.6M299.9,137.8h-1.6"/>
<text class="k m" x="299.9" y="237.6">0</text><text class="k m" x="321.2" y="237.6">0.5</text><text class="k m" x="342.5" y="237.6">1</text><text class="k m" x="363.8" y="237.6">1.5</text><text class="k m" x="385.1" y="237.6">2</text><text class="k e" x="294.7" y="229.8">0</text><text class="k e" x="294.7" y="207.4">0.1</text><text class="k e" x="294.7" y="185.0">0.2</text><text class="k e" x="294.7" y="162.5">0.3</text><text class="k e" x="294.7" y="140.1">0.4</text>
<text class="c m" x="346.3" y="247.0">Iso ADC (µm<tspan dy="-2.2" font-size="4">2</tspan><tspan dy="2.2">/ms)</tspan></text>
<text class="c m" transform="translate(280.3,182.65) rotate(-90)">H&amp;E cellularity</text>
<text class="c" x="353.9" y="149.8"><tspan font-style="italic">r</tspan> = –0.16</text><text class="c" x="353.9" y="157.5"><tspan font-style="italic">P</tspan> &lt; 0.0001</text>
<path d="M485.5,185.8h0M467.0,189.0h0M460.8,157.2h0M468.4,180.8h0M477.4,150.3h0M477.5,163.2h0M461.5,159.0h0M475.5,193.4h0M461.6,169.7h0M458.6,192.9h0M459.2,169.0h0M461.0,180.8h0M472.8,160.4h0M477.6,166.1h0M473.2,205.1h0M467.6,162.5h0M475.2,184.7h0M473.8,178.7h0M469.2,181.9h0M459.7,202.0h0M455.5,184.5h0M493.7,204.3h0M472.5,161.5h0M476.3,174.5h0M471.1,171.1h0M465.1,182.7h0M468.5,176.4h0M470.4,188.6h0M479.1,168.9h0M465.2,199.1h0M457.1,183.7h0M466.3,191.0h0M475.4,197.6h0M479.7,202.9h0M473.6,193.7h0M453.2,181.6h0M465.9,179.9h0M473.0,183.2h0M457.9,176.5h0M477.7,167.2h0M453.8,193.1h0M461.9,186.6h0M446.8,193.4h0M456.4,200.2h0M481.6,176.5h0M469.1,169.4h0M465.0,169.9h0M473.1,172.8h0M468.6,166.8h0M468.9,184.2h0M468.7,173.3h0M461.3,178.6h0M461.2,180.3h0M471.2,161.6h0M484.7,164.5h0M459.4,184.0h0M446.9,189.5h0M458.7,177.6h0M469.6,163.7h0M469.6,198.8h0M464.7,146.2h0M473.5,167.6h0M471.1,211.3h0M466.5,177.6h0M458.9,184.1h0M476.0,175.6h0M469.6,181.0h0M470.2,169.9h0M470.1,190.6h0M462.4,199.0h0M477.5,176.9h0M479.7,159.7h0M459.1,177.2h0M474.2,204.2h0M471.5,175.4h0M464.3,166.4h0M458.9,172.4h0M481.1,182.1h0M480.0,183.2h0M469.0,158.7h0M474.2,161.2h0M480.8,150.8h0M461.5,147.9h0M468.9,168.0h0M468.2,150.0h0M474.8,200.3h0M463.3,182.0h0M467.9,174.3h0M472.1,181.5h0M467.7,178.7h0M465.1,158.1h0M469.2,172.9h0M473.7,185.7h0M481.9,177.2h0M479.1,179.4h0M477.0,174.7h0M462.5,185.4h0M454.9,165.8h0M458.4,202.0h0M478.2,183.8h0M472.3,179.1h0M454.3,180.7h0M477.0,185.6h0M450.2,165.8h0M464.7,177.2h0M460.9,174.6h0M458.5,201.3h0M475.3,174.3h0M481.1,194.4h0M469.7,192.9h0M484.6,186.5h0M472.5,195.4h0M464.7,184.4h0M469.3,177.6h0M478.0,172.1h0M478.9,184.9h0M471.4,202.8h0M474.6,182.3h0M447.2,177.5h0M461.0,157.6h0M463.3,173.6h0M470.3,164.5h0M486.2,172.5h0M463.7,169.3h0M468.1,179.7h0M468.5,194.7h0M475.5,170.0h0M470.3,178.5h0M466.6,168.9h0M462.7,183.7h0M472.8,189.9h0M472.2,180.5h0M468.0,174.7h0M473.3,175.5h0M458.0,188.2h0M466.8,189.1h0M446.6,203.6h0M464.9,168.2h0M477.0,144.5h0M460.9,191.5h0M464.1,178.0h0M469.9,155.0h0M467.7,160.0h0M472.5,183.6h0M452.7,173.7h0M467.2,206.5h0M477.8,188.8h0M469.4,160.3h0M473.2,182.6h0M466.1,168.5h0M470.7,182.9h0M475.0,161.3h0M466.5,193.9h0M467.7,201.9h0M465.1,174.4h0M463.2,197.8h0M481.4,184.2h0M473.3,174.3h0M462.6,155.4h0M465.4,167.9h0M470.6,167.1h0M453.6,177.7h0M470.2,183.9h0M444.8,191.2h0M464.1,173.4h0M458.2,201.4h0M471.5,176.6h0M464.8,164.6h0M470.6,173.9h0M447.9,160.2h0M461.1,183.1h0M474.9,181.3h0M470.7,172.1h0M487.7,173.2h0M442.9,186.8h0M464.4,179.6h0M462.1,168.1h0M469.8,173.0h0M461.0,206.7h0M473.9,182.6h0M462.6,185.9h0M478.9,206.0h0M473.6,177.5h0M485.2,209.7h0M469.7,182.7h0M455.2,193.4h0M457.6,186.3h0M468.3,183.4h0M445.8,195.2h0M459.6,182.6h0M480.3,154.2h0M456.9,211.3h0M481.3,183.3h0M478.0,200.3h0M467.4,193.9h0M460.8,201.9h0M466.2,151.7h0M460.7,187.1h0M449.3,164.5h0M470.3,176.3h0M463.5,178.1h0M480.3,205.0h0M462.5,167.2h0M457.8,204.7h0M455.4,202.6h0M462.3,163.9h0M462.1,201.2h0M461.5,168.7h0M475.4,196.6h0M461.0,180.5h0M465.3,173.4h0M467.9,171.6h0M469.8,157.3h0M451.3,188.7h0M460.2,183.7h0M457.9,154.9h0M473.1,177.1h0M463.0,175.3h0M463.5,172.8h0M454.4,198.6h0M455.7,161.8h0M472.1,178.1h0M477.4,157.1h0M465.9,158.7h0M475.5,192.8h0M458.3,167.6h0M461.2,195.2h0M463.1,180.4h0M482.1,182.7h0M479.4,196.5h0M469.6,162.1h0M463.2,183.6h0M472.1,194.1h0M450.3,195.0h0M464.4,165.6h0M464.3,182.1h0M467.6,167.8h0M480.5,182.0h0M471.6,198.7h0M464.1,165.0h0M479.7,184.6h0M460.3,188.1h0M473.1,184.4h0M477.8,194.6h0M464.3,214.0h0M456.6,176.9h0M456.0,166.9h0M476.9,198.9h0M469.7,150.8h0M480.5,173.7h0M471.4,166.3h0M463.2,181.7h0M465.2,200.1h0M469.5,195.2h0M475.8,199.2h0M455.1,184.5h0M467.4,157.8h0M466.8,170.0h0M451.4,199.3h0M462.4,176.4h0M464.0,185.8h0M458.9,198.0h0M469.7,165.9h0M455.3,170.5h0M460.1,213.3h0M450.9,198.9h0M469.4,166.9h0M483.4,183.1h0M465.2,174.8h0M467.6,162.7h0M480.0,175.5h0M474.8,185.2h0M463.6,168.1h0M457.8,166.0h0M467.0,173.6h0M486.5,164.4h0M465.2,184.8h0M454.8,165.4h0M458.1,163.0h0M476.3,178.4h0M462.9,175.6h0M464.6,194.6h0M460.2,181.2h0M459.0,192.4h0M481.1,191.3h0M471.9,174.3h0M463.3,171.6h0M470.2,169.6h0M470.1,184.1h0M470.3,194.7h0M466.9,194.9h0M469.1,163.1h0M480.9,192.2h0M462.4,190.8h0M467.6,186.8h0M459.5,175.0h0M453.3,164.7h0M471.7,167.7h0M460.8,183.1h0M475.8,187.5h0M478.2,197.9h0M489.8,185.4h0M478.1,183.3h0M498.1,202.1h0M491.2,207.2h0M503.7,193.3h0M482.3,206.9h0M486.9,197.2h0M481.0,185.0h0M498.1,199.4h0M499.3,183.5h0M492.0,203.5h0M501.6,205.4h0M488.3,199.1h0M503.9,203.0h0M500.1,179.2h0M500.9,213.0h0M506.0,212.1h0M492.0,203.6h0M499.3,184.8h0M483.6,189.9h0M482.6,204.6h0M498.8,205.7h0M483.9,175.6h0M485.7,217.0h0M493.6,192.0h0M505.3,189.7h0M502.0,199.0h0M506.5,199.5h0M494.0,182.6h0M506.1,196.3h0M502.8,184.8h0M486.4,182.7h0M506.4,202.7h0M487.0,210.1h0M501.0,178.0h0M498.3,197.3h0M499.0,179.6h0M499.2,173.8h0M497.2,201.2h0M449.9,191.1h0M452.0,196.5h0M449.1,194.0h0M438.9,196.9h0M442.8,198.7h0M438.2,186.5h0M443.3,194.3h0M441.0,195.5h0M450.7,191.6h0M450.7,191.1h0M454.3,192.9h0M440.3,205.2h0M453.9,193.0h0M448.5,189.5h0M450.5,198.8h0M441.8,193.9h0M443.7,194.3h0M444.5,183.3h0M453.9,190.4h0M453.0,192.6h0M444.1,199.3h0M443.6,193.4h0M438.8,205.4h0M454.6,203.1h0M441.2,190.5h0" stroke="#c40808" stroke-width="2.4" stroke-linecap="round" fill="none"/>
<path d="M437.8,181.6L506.5,180.9" stroke="#111" stroke-width="1.4" fill="none"/>
<path class="ax" d="M431.6,137.4V227.5H514.7M431.6,227.5v1.6M452.3,227.5v1.6M473.0,227.5v1.6M493.6,227.5v1.6M514.3,227.5v1.6M431.6,227.5h-1.6M431.6,205.1h-1.6M431.6,182.7h-1.6M431.6,160.2h-1.6M431.6,137.8h-1.6"/>
<text class="k m" x="431.6" y="237.6">0</text><text class="k m" x="452.3" y="237.6">0.4</text><text class="k m" x="473.0" y="237.6">0.8</text><text class="k m" x="493.6" y="237.6">1.2</text><text class="k m" x="514.3" y="237.6">1.6</text><text class="k e" x="426.40000000000003" y="229.8">0</text><text class="k e" x="426.40000000000003" y="207.4">0.2</text><text class="k e" x="426.40000000000003" y="185.0">0.4</text><text class="k e" x="426.40000000000003" y="162.5">0.6</text><text class="k e" x="426.40000000000003" y="140.1">0.8</text>
<text class="c m" x="479.5" y="247.0">Iso ADC (µm<tspan dy="-2.2" font-size="4">2</tspan><tspan dy="2.2">/ms)</tspan></text>
<text class="c m" transform="translate(411.0,182.65) rotate(-90)">GFAP cellularity</text>
<text class="c" x="486.8" y="149.8"><tspan font-style="italic">r</tspan> = 0.008</text><text class="c" x="486.8" y="157.5"><tspan font-style="italic">P</tspan> = 0.88</text>
<path d="M353.1,324.2h0M352.5,344.7h0M334.2,309.9h0M339.2,319.2h0M329.7,315.2h0M356.2,301.2h0M338.4,320.0h0M330.7,325.5h0M314.8,334.1h0M352.6,321.0h0M363.2,311.8h0M369.1,312.3h0M332.8,330.5h0M373.3,323.1h0M338.5,329.7h0M354.4,333.6h0M372.1,326.9h0M366.7,311.3h0M329.7,322.0h0M319.3,337.9h0M324.7,349.5h0M324.5,335.7h0M368.3,312.1h0M363.7,317.8h0M354.2,307.6h0M340.7,315.5h0M348.4,315.6h0M318.6,335.3h0M368.8,329.6h0M341.4,324.8h0M345.3,317.7h0M352.1,324.9h0M341.0,336.7h0M319.3,348.7h0M340.4,328.3h0M334.7,336.1h0M354.8,317.1h0M345.2,295.3h0M338.4,323.2h0M352.8,341.9h0M334.9,327.5h0M352.3,325.1h0M343.7,319.0h0M351.3,323.6h0M353.5,308.9h0M328.5,354.4h0M348.4,304.0h0M340.0,301.8h0M321.8,334.4h0M352.9,329.1h0M341.6,323.4h0M354.7,300.4h0M344.8,337.0h0M366.2,302.9h0M360.0,331.1h0M343.6,339.6h0M335.6,318.5h0M351.1,302.4h0M329.7,313.1h0M344.8,312.8h0M353.5,311.6h0M348.2,341.1h0M346.9,322.1h0M336.2,340.7h0M323.6,312.4h0M338.4,334.8h0M351.1,328.9h0M327.5,329.9h0M340.3,324.1h0M348.7,328.3h0M335.0,325.5h0M338.6,327.4h0M353.2,315.2h0M359.3,325.1h0M342.4,328.2h0M321.2,330.5h0M343.0,335.5h0M356.0,309.7h0M372.1,312.9h0M333.5,335.8h0M328.5,340.8h0M316.3,333.8h0M337.6,328.2h0M341.1,341.9h0M357.6,305.5h0M364.1,312.3h0M336.0,338.9h0M306.1,329.9h0M340.5,311.7h0M357.8,306.0h0M332.1,344.7h0M354.6,317.0h0M347.1,309.8h0M327.4,310.3h0M347.7,307.3h0M358.3,313.6h0M329.1,328.2h0M338.0,316.8h0M344.8,323.5h0M367.3,299.5h0M341.1,336.1h0M327.4,330.7h0M342.9,310.6h0M331.7,317.6h0M333.6,315.4h0M373.3,295.5h0M359.7,311.6h0M338.2,321.5h0M359.0,315.2h0M348.6,310.0h0M350.3,304.9h0M373.3,304.7h0M346.4,302.7h0M321.1,343.9h0M346.0,318.1h0M366.2,291.3h0M347.5,319.0h0M338.6,324.6h0M359.9,287.0h0M353.8,298.5h0M352.4,327.8h0M334.3,325.4h0M335.3,314.9h0M327.6,338.5h0M324.1,316.1h0M330.0,327.9h0M316.3,335.8h0M324.8,345.6h0M349.7,328.4h0M342.4,328.4h0M327.7,330.9h0M336.9,322.2h0M347.8,330.0h0M337.9,322.4h0M362.7,328.3h0M349.5,308.5h0M341.6,316.4h0M353.2,330.7h0M362.0,320.9h0M331.1,312.5h0M358.6,303.8h0M337.8,326.5h0M339.5,311.3h0M347.8,316.6h0M314.2,354.4h0M302.6,354.4h0M336.9,326.1h0M351.6,306.6h0M362.0,326.4h0M362.5,313.4h0M344.1,336.9h0M352.6,304.5h0M338.9,304.5h0M347.8,327.4h0M351.6,310.6h0M352.9,315.9h0M373.3,311.4h0M316.3,329.5h0M363.6,272.9h0M325.7,340.3h0M343.3,321.4h0M324.0,338.6h0M336.4,346.1h0M346.5,322.0h0M340.9,328.7h0M353.7,328.1h0M358.0,313.2h0M359.7,333.0h0M358.8,319.8h0M335.1,343.9h0M319.0,336.7h0M348.9,312.1h0M326.0,346.1h0M348.8,319.9h0M355.8,315.2h0M328.6,318.3h0M353.3,317.1h0M319.4,321.7h0M352.1,327.2h0M340.8,303.5h0M347.8,309.4h0M353.6,315.7h0M327.4,328.0h0M345.9,337.1h0M345.5,309.8h0M343.9,316.1h0M362.6,286.1h0M351.8,339.0h0M341.4,332.8h0M342.8,337.4h0M348.1,334.6h0M338.8,330.1h0M358.2,327.3h0M333.4,332.4h0M335.9,337.5h0M347.9,300.4h0M335.5,347.4h0M358.0,314.2h0M338.8,328.2h0M329.3,349.5h0M341.0,323.0h0M340.2,335.8h0M352.7,299.1h0M329.2,323.8h0M330.8,337.8h0M338.3,334.3h0M345.7,308.4h0M348.1,329.4h0M347.7,311.6h0M338.8,320.3h0M325.0,330.9h0M349.8,318.9h0M342.8,316.2h0M323.4,318.8h0M352.6,305.2h0M318.9,327.6h0M302.6,354.4h0M363.9,330.2h0M344.9,327.2h0M373.3,284.7h0M345.6,317.4h0M329.1,341.6h0M350.9,307.3h0M330.1,323.8h0M338.7,320.7h0M336.2,335.6h0M369.9,332.2h0M367.5,303.5h0M342.7,332.7h0M333.0,333.5h0M351.9,325.5h0M336.8,333.7h0M350.1,324.9h0M351.8,319.7h0M324.8,324.3h0M323.4,322.6h0M363.8,278.3h0M313.5,343.3h0M350.4,307.8h0M309.1,343.9h0M358.0,314.2h0M333.0,322.4h0M350.5,315.4h0M344.1,327.8h0M350.5,329.1h0M348.1,310.5h0M357.9,302.1h0M342.2,307.5h0M324.4,329.3h0M363.4,300.4h0M348.7,308.0h0M373.3,315.1h0M328.1,335.5h0M323.0,337.9h0M355.1,317.6h0M361.9,310.7h0M334.4,316.7h0M336.2,326.7h0M326.3,313.2h0M323.3,341.9h0M334.0,333.8h0M356.9,304.3h0M352.7,303.6h0M346.9,322.2h0M354.8,328.4h0M357.2,315.7h0M337.0,321.0h0M343.9,326.8h0M349.6,311.0h0M373.3,311.1h0M329.5,343.0h0M336.1,310.7h0M356.0,319.3h0M349.9,312.4h0M332.5,323.9h0M336.1,313.9h0M361.9,318.6h0M335.3,316.0h0M360.4,291.6h0M361.6,308.5h0M346.4,338.0h0M368.0,305.1h0M320.0,328.9h0M357.9,306.9h0M350.7,320.3h0M356.3,324.0h0M335.7,324.4h0M336.8,326.6h0M347.0,318.0h0M355.6,303.1h0M323.9,317.9h0M346.7,312.1h0M342.8,337.6h0M358.9,306.0h0M343.2,295.6h0M333.6,343.5h0M338.2,304.9h0M347.3,336.6h0M322.4,324.9h0M338.7,321.3h0M334.8,320.2h0M337.7,330.5h0M344.6,328.2h0M330.5,332.5h0M362.0,311.9h0M343.6,313.7h0M336.4,311.7h0M327.1,303.7h0M344.8,329.1h0M348.9,318.9h0M333.3,325.5h0M331.9,322.6h0M351.7,321.5h0M370.4,308.2h0M357.9,319.6h0M327.2,329.2h0M352.6,328.2h0M353.4,313.6h0M344.3,322.2h0M321.7,350.0h0M331.4,321.4h0M338.4,325.7h0M315.8,329.0h0M335.1,323.5h0M360.8,328.0h0M327.0,342.9h0M341.6,308.2h0M343.0,327.9h0M334.9,321.0h0M345.5,306.0h0M350.5,315.8h0M329.4,330.6h0M334.4,330.6h0M328.3,312.2h0M338.2,324.1h0M365.8,312.5h0M332.9,345.8h0M340.0,341.4h0M346.0,319.8h0M371.5,300.0h0M353.2,313.0h0M351.4,323.6h0M339.0,329.5h0M359.6,309.4h0M341.5,328.2h0M353.2,329.9h0M332.4,334.1h0M358.0,307.0h0M345.2,332.9h0M331.6,317.2h0M348.1,318.1h0M325.2,328.8h0M337.7,327.5h0M313.2,336.9h0M368.2,289.3h0M310.7,354.4h0M351.1,307.7h0M345.6,307.5h0M348.0,329.0h0M315.8,352.1h0M333.4,338.7h0M354.6,291.4h0M353.8,318.6h0M335.9,302.1h0M336.9,318.2h0M320.7,348.9h0M358.7,304.4h0M363.5,299.4h0M354.2,302.8h0M328.7,324.3h0M343.9,322.7h0M348.2,328.6h0M335.9,334.0h0M341.9,315.4h0M337.3,326.5h0M336.0,344.8h0M342.4,329.8h0M333.6,345.0h0M344.3,328.7h0M331.7,333.7h0M371.4,315.7h0M344.9,312.9h0M336.9,306.5h0M324.8,354.4h0M347.5,314.5h0M348.8,305.9h0M326.1,333.0h0M355.5,325.5h0M339.3,316.6h0M347.1,311.6h0M351.8,312.2h0M337.0,325.0h0M320.2,326.9h0M341.6,325.2h0M373.3,280.4h0M364.4,291.3h0M331.6,323.3h0M362.5,308.7h0M342.3,319.4h0M352.6,312.3h0M336.4,304.8h0M346.5,322.2h0M320.9,330.0h0M370.0,306.1h0M353.2,321.4h0M337.8,322.6h0M341.1,319.5h0M327.3,334.8h0M303.9,330.3h0M310.3,352.7h0M355.8,323.3h0M338.3,314.4h0M358.1,291.3h0M367.0,314.9h0M329.7,334.8h0M329.6,318.0h0M330.3,322.1h0M356.6,301.5h0M350.9,316.4h0M352.3,303.2h0M324.0,340.4h0M341.0,296.0h0M337.3,323.4h0M325.8,354.4h0M330.2,314.9h0M322.2,333.3h0M347.2,333.1h0M340.6,322.2h0M364.6,298.3h0M351.7,329.7h0M323.4,333.2h0M346.2,310.5h0M344.5,312.8h0M354.9,322.7h0M354.8,326.1h0M333.5,328.4h0M348.6,323.8h0M352.9,321.6h0M366.4,329.6h0M344.9,314.0h0M344.6,319.7h0M350.1,323.4h0M360.7,311.1h0M349.2,327.9h0M357.9,302.6h0M342.3,328.5h0M330.4,339.2h0M330.3,344.8h0M336.2,306.2h0M335.2,348.8h0M338.3,334.8h0M352.4,319.5h0M339.3,345.3h0M324.1,344.7h0M344.8,319.0h0M330.3,330.4h0M339.2,310.8h0M338.1,342.2h0M335.8,350.3h0M346.7,350.5h0M351.5,307.7h0M373.3,296.3h0M347.4,328.3h0M317.1,327.6h0M354.1,334.2h0M322.4,329.2h0M353.2,298.9h0M350.4,310.4h0M336.0,334.4h0M355.8,320.7h0M320.7,348.2h0M337.6,347.1h0M333.8,347.6h0M346.2,344.9h0M322.3,344.8h0M316.7,350.3h0M318.0,348.5h0M327.2,350.6h0M337.7,349.2h0M331.9,347.9h0M343.1,346.8h0M346.3,349.3h0M319.3,345.6h0M338.1,344.5h0M319.8,345.2h0M326.7,350.6h0M333.2,350.7h0M337.6,348.5h0M327.1,344.8h0M337.4,349.2h0M333.4,348.8h0M330.3,350.8h0M326.1,347.6h0M327.9,344.6h0M318.3,346.3h0M334.0,349.5h0M323.6,345.3h0M340.9,349.6h0M331.5,350.3h0M327.5,346.6h0M332.9,345.6h0M327.7,345.4h0M326.8,349.8h0M341.4,350.1h0M320.6,346.1h0M344.8,348.7h0M318.9,350.0h0M316.4,345.9h0M339.7,345.6h0M325.1,347.3h0M325.4,350.4h0M316.1,345.3h0M345.2,350.6h0M332.5,347.4h0M324.0,350.3h0M315.6,349.9h0M313.9,344.1h0M313.0,354.4h0M301.9,353.3h0M312.3,347.0h0M307.8,347.2h0M311.2,353.8h0M305.1,346.9h0M313.1,355.1h0M310.0,349.5h0" stroke="#1f78c4" stroke-width="2.4" stroke-linecap="round" fill="none"/>
<path d="M302.8,346.1L372.8,304.8" stroke="#111" stroke-width="1.4" fill="none"/>
<path class="ax" d="M300.5,265.8V355.5H382.9M300.5,355.5v1.6M321.0,355.5v1.6M341.5,355.5v1.6M362.0,355.5v1.6M382.5,355.5v1.6M300.5,355.5h-1.6M300.5,333.2h-1.6M300.5,310.9h-1.6M300.5,288.5h-1.6M300.5,266.2h-1.6"/>
<text class="k m" x="300.5" y="365.6">0</text><text class="k m" x="321.0" y="365.6">0.2</text><text class="k m" x="341.5" y="365.6">0.4</text><text class="k m" x="362.0" y="365.6">0.6</text><text class="k m" x="382.5" y="365.6">0.8</text><text class="k e" x="295.3" y="357.8">0</text><text class="k e" x="295.3" y="335.5">0.1</text><text class="k e" x="295.3" y="313.2">0.2</text><text class="k e" x="295.3" y="290.8">0.3</text><text class="k e" x="295.3" y="268.5">0.4</text>
<text class="c m" x="344.8" y="375.0"><tspan letter-spacing="-0.2" dy="0.9">Restricted fraction</tspan></text>
<text class="c m" transform="translate(280.3,310.85) rotate(-90)">H&amp;E cellularity</text>
<text class="c" x="308.8" y="270.7"><tspan font-style="italic">r</tspan> = 0.53</text><text class="c" x="308.8" y="278.4"><tspan font-style="italic">P</tspan> &lt; 0.0001</text>
<path d="M471.1,337.5h0M510.1,279.7h0M480.2,310.4h0M486.6,320.5h0M491.9,272.1h0M468.5,307.3h0M466.5,332.1h0M477.9,317.7h0M470.9,313.9h0M475.7,297.8h0M489.3,294.8h0M481.5,312.2h0M474.8,310.1h0M477.7,314.0h0M487.4,284.3h0M462.2,316.6h0M466.0,326.8h0M471.3,311.3h0M483.9,298.0h0M478.6,298.4h0M485.4,307.5h0M485.4,296.2h0M495.3,279.2h0M500.1,296.1h0M494.5,299.3h0M465.5,315.7h0M472.5,320.0h0M465.0,321.0h0M464.8,339.1h0M474.2,316.9h0M460.0,333.4h0M473.3,313.5h0M492.1,289.5h0M475.0,323.9h0M475.9,324.3h0M482.4,312.1h0M489.1,315.7h0M485.4,297.4h0M471.8,295.0h0M474.9,314.4h0M477.1,318.9h0M485.3,309.5h0M487.9,294.7h0M464.3,317.0h0M471.9,314.9h0M477.6,305.8h0M493.7,296.9h0M476.3,303.5h0M477.1,310.1h0M489.1,285.8h0M457.4,328.6h0M485.1,311.0h0M480.2,327.0h0M485.9,314.4h0M478.5,311.2h0M484.5,289.8h0M460.8,327.9h0M474.5,309.8h0M474.3,305.0h0M473.2,319.7h0M479.2,321.5h0M463.9,310.4h0M487.4,307.4h0M503.2,280.4h0M471.2,291.5h0M464.6,318.0h0M481.8,310.2h0M485.3,309.4h0M483.6,331.6h0M484.6,311.9h0M494.3,298.1h0M474.4,301.5h0M494.5,287.2h0M461.9,317.0h0M489.2,307.5h0M496.1,291.3h0M493.7,288.1h0M464.0,323.3h0M475.1,315.1h0M472.4,307.4h0M479.6,301.9h0M482.9,283.2h0M496.6,295.6h0M478.5,310.1h0M466.8,302.8h0M481.9,307.5h0M510.3,284.0h0M489.7,293.1h0M488.7,305.2h0M487.2,288.5h0M461.8,335.4h0M481.0,293.3h0M489.1,275.0h0M506.0,300.8h0M483.7,298.8h0M484.3,315.1h0M489.5,312.3h0M484.7,302.1h0M476.6,318.6h0M462.9,312.0h0M484.0,302.1h0M475.6,310.5h0M470.7,305.5h0M482.8,302.1h0M479.8,324.1h0M463.4,319.9h0M491.2,304.3h0M485.3,290.9h0M461.1,321.6h0M469.0,305.3h0M497.6,288.5h0M494.9,306.6h0M498.2,318.3h0M464.1,319.5h0M477.7,316.8h0M472.0,299.5h0M510.3,275.7h0M492.8,302.2h0M469.2,322.9h0M472.4,312.0h0M473.1,306.9h0M461.9,312.5h0M481.7,309.2h0M490.6,286.8h0M494.1,301.0h0M451.6,332.9h0M478.4,307.7h0M460.3,323.6h0M492.9,284.7h0M459.0,338.0h0M475.7,307.0h0M479.6,299.3h0M468.9,302.0h0M472.9,281.1h0M491.7,277.8h0M479.6,282.1h0M480.6,292.6h0M478.7,290.5h0M461.6,333.8h0M471.6,310.2h0M466.8,298.1h0M469.8,315.4h0M492.6,290.4h0M488.2,314.9h0M479.2,311.7h0M467.6,313.8h0M481.8,279.1h0M485.8,310.5h0M487.4,301.6h0M485.5,313.3h0M441.9,324.4h0M483.8,320.5h0M467.6,330.6h0M487.2,316.8h0M467.3,305.4h0M470.2,311.5h0M503.6,275.0h0M464.1,313.5h0M487.3,289.4h0M494.7,305.7h0M468.6,328.4h0M479.8,307.1h0M492.8,287.4h0M495.6,317.6h0M475.7,328.4h0M480.0,303.2h0M479.4,316.1h0M461.0,341.5h0M499.9,283.1h0M470.3,302.4h0M456.6,316.0h0M466.9,340.2h0M472.2,333.0h0M482.3,317.8h0M461.6,324.8h0M480.9,304.5h0M473.5,301.6h0M497.5,286.1h0M473.6,300.0h0M500.3,301.9h0M463.8,315.9h0M481.6,305.1h0M474.1,312.9h0M475.6,316.1h0M481.8,287.3h0M491.7,282.8h0M493.6,294.7h0M468.8,312.9h0M466.2,299.4h0M480.0,299.6h0M465.6,314.5h0M463.4,314.8h0M469.2,319.7h0M461.1,324.0h0M482.5,313.0h0M486.2,294.5h0M482.9,316.3h0M467.7,306.0h0M487.7,296.6h0M492.4,302.3h0M474.7,316.0h0M509.5,272.1h0M497.9,283.5h0M491.4,287.5h0M469.2,314.6h0M438.6,322.0h0M460.3,332.9h0M508.9,283.1h0M460.6,320.8h0M470.1,311.5h0M478.4,289.5h0M500.8,290.5h0M495.5,294.9h0M474.3,298.1h0M481.4,304.4h0M493.4,290.3h0M491.5,305.8h0M460.4,323.8h0M496.9,286.9h0M479.9,309.2h0M493.5,303.6h0M473.9,312.2h0M463.4,332.4h0M485.0,308.2h0M474.3,284.4h0M492.7,296.8h0M473.9,318.5h0M486.0,331.3h0M482.5,295.4h0M486.4,304.7h0M482.8,319.0h0M480.5,318.6h0M502.3,293.1h0M472.2,320.1h0M510.3,298.1h0M473.0,313.5h0M464.5,309.1h0M501.7,307.9h0M464.1,321.2h0M465.2,338.3h0M467.8,330.5h0M459.6,311.1h0M475.0,302.2h0M491.2,286.4h0M504.5,282.0h0M466.1,300.7h0M473.4,313.9h0M494.6,301.7h0M457.4,340.2h0M491.0,304.0h0M459.0,323.7h0M481.7,301.2h0M462.3,301.6h0M502.9,301.8h0M497.7,296.4h0M487.1,291.0h0M467.9,325.4h0M461.6,320.8h0M473.8,315.7h0M475.5,308.6h0M481.4,316.0h0M479.4,314.2h0M475.9,308.9h0M480.1,317.8h0M481.6,288.3h0M471.1,319.5h0M471.6,287.5h0M495.0,274.1h0M455.6,340.4h0M492.3,314.6h0M468.3,294.2h0M490.4,279.3h0M489.8,310.7h0M470.4,296.9h0M470.8,304.2h0M474.7,327.7h0M449.3,329.6h0M493.6,282.2h0M467.2,324.8h0M485.6,298.6h0M477.6,307.4h0M496.5,302.5h0M468.9,323.4h0M470.4,312.3h0M470.6,325.2h0M470.3,321.2h0M482.2,297.9h0M474.8,314.9h0M485.3,294.0h0M436.1,348.8h0M470.2,329.0h0M471.5,326.2h0M488.2,278.9h0M483.7,308.5h0M471.8,297.4h0M443.6,336.5h0M456.3,329.6h0M483.9,298.8h0M492.8,287.7h0M491.5,283.1h0M461.9,328.1h0M454.3,331.0h0M484.9,299.9h0M452.1,312.4h0M465.0,333.3h0M483.6,300.8h0M450.9,334.4h0M473.8,316.5h0M479.2,311.1h0M477.5,284.3h0M462.8,324.2h0M456.0,306.9h0M465.6,317.9h0M483.3,301.1h0M471.9,319.4h0M474.4,302.4h0M483.0,308.5h0M506.1,294.5h0M477.2,315.3h0M461.7,323.4h0M463.8,315.5h0M456.4,318.6h0M468.7,329.6h0M471.3,307.1h0M470.2,316.7h0M466.3,315.4h0M477.3,294.9h0M466.4,309.5h0M463.4,306.1h0M484.8,312.3h0M464.2,334.7h0M502.2,299.0h0M495.2,281.0h0M478.8,307.1h0M468.7,317.2h0M496.0,289.7h0M486.5,308.2h0M473.1,322.9h0M469.8,297.5h0M485.7,311.0h0M492.3,285.1h0M487.4,311.3h0M496.8,305.0h0M482.7,295.0h0M475.0,317.0h0M448.8,320.4h0M480.8,302.7h0M503.3,292.9h0M474.9,304.9h0M473.0,301.7h0M474.1,313.5h0M476.5,307.3h0M467.1,321.1h0M465.2,321.0h0M474.6,290.5h0M450.2,325.5h0M484.8,304.4h0M458.5,348.2h0M481.1,329.4h0M464.9,303.0h0" stroke="#1f78c4" stroke-width="2.4" stroke-linecap="round" fill="none"/>
<path d="M431.6,346.0L509.2,283.7" stroke="#111" stroke-width="1.4" fill="none"/>
<path class="ax" d="M431.6,266.1V355.5H514.8M431.6,355.5v1.6M452.3,355.5v1.6M473.0,355.5v1.6M493.7,355.5v1.6M514.4,355.5v1.6M431.6,355.5h-1.6M431.6,333.2h-1.6M431.6,311.0h-1.6M431.6,288.8h-1.6M431.6,266.5h-1.6"/>
<text class="k m" x="431.6" y="365.6">0</text><text class="k m" x="452.3" y="365.6">0.2</text><text class="k m" x="473.0" y="365.6">0.4</text><text class="k m" x="493.7" y="365.6">0.6</text><text class="k m" x="514.4" y="365.6">0.8</text><text class="k e" x="426.40000000000003" y="357.8">0</text><text class="k e" x="426.40000000000003" y="335.6">0.2</text><text class="k e" x="426.40000000000003" y="313.3">0.4</text><text class="k e" x="426.40000000000003" y="291.1">0.6</text><text class="k e" x="426.40000000000003" y="268.8">0.8</text>
<text class="c m" x="481" y="375.0"><tspan letter-spacing="-0.2" dy="0.9">Restricted fraction</tspan></text>
<text class="c m" transform="translate(411.0,311.0) rotate(-90)">GFAP cellularity</text>
<text class="c" x="436.5" y="270.7"><tspan font-style="italic">r</tspan> = 0.66</text><text class="c" x="436.5" y="278.4"><tspan font-style="italic">P</tspan> &lt; 0.0001</text>
</svg>
</body></html>
